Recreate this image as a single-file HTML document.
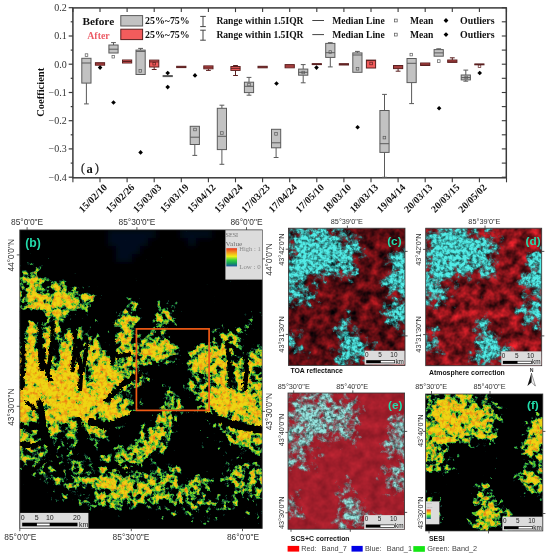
<!DOCTYPE html>
<html><head><meta charset="utf-8"><style>
html,body{margin:0;padding:0;background:#fff;}
body{width:550px;height:558px;overflow:hidden;}
svg{display:block;}
</style></head><body>
<svg width="550" height="558" viewBox="0 0 550 558">
<defs><filter id="vblur" x="-10%" y="-10%" width="120%" height="120%" color-interpolation-filters="sRGB"><feTurbulence type="fractalNoise" baseFrequency="0.35" numOctaves="2" seed="9" result="vt"/><feDisplacementMap in="SourceGraphic" in2="vt" scale="5" xChannelSelector="R" yChannelSelector="G" result="vd"/><feGaussianBlur in="vd" stdDeviation="0.5"/></filter><filter id="blr" x="-5%" y="-5%" width="110%" height="110%"><feGaussianBlur stdDeviation="3.2"/></filter><clipPath id="cpb"><rect x="19.8" y="229.9" width="242.4" height="298.6"/></clipPath><filter id="txb" x="0" y="0" width="1" height="1" color-interpolation-filters="sRGB"><feGaussianBlur in="SourceGraphic" stdDeviation="2.0" result="L"/><feTurbulence type="fractalNoise" baseFrequency="0.18" numOctaves="5" seed="3" result="T"/><feColorMatrix in="T" type="matrix" values="-1 0 0 0 1  -1 0 0 0 1  -1 0 0 0 1  0 0 0 0 1" result="Ni"/><feComposite in="L" in2="Ni" operator="arithmetic" k1="0" k2="0.5" k3="0.5" k4="0" result="Mk"/><feComponentTransfer in="Mk" result="Ms"><feFuncR type="linear" slope="4.5" intercept="-1.750"/><feFuncG type="linear" slope="4.5" intercept="-1.750"/><feFuncB type="linear" slope="4.5" intercept="-1.750"/></feComponentTransfer><feComponentTransfer in="Ms" result="Cc"><feFuncR type="table" tableValues="0.000 0.000 0.039 0.157 0.353 0.667 0.910 0.941 0.933"/><feFuncG type="table" tableValues="0.000 0.000 0.196 0.627 0.784 0.824 0.816 0.725 0.839"/><feFuncB type="table" tableValues="0.000 0.000 0.157 0.235 0.176 0.118 0.078 0.086 0.078"/></feComponentTransfer><feTurbulence type="fractalNoise" baseFrequency="0.25" numOctaves="2" seed="8" result="T3"/><feColorMatrix in="T3" type="matrix" values="0 0 0 0 1  1.10 0 0 0 0.430  0 0 0 0 1  0 0 0 0 1" result="G3"/><feBlend in="Cc" in2="G3" mode="multiply"/></filter><clipPath id="cpc"><rect x="288.4" y="228.2" width="116.6" height="137.3"/></clipPath><filter id="txc" x="0" y="0" width="1" height="1" color-interpolation-filters="sRGB"><feGaussianBlur in="SourceGraphic" stdDeviation="2.0" result="L"/><feTurbulence type="fractalNoise" baseFrequency="0.15" numOctaves="4" seed="7" result="T"/><feColorMatrix in="T" type="matrix" values="-1 0 0 0 1  -1 0 0 0 1  -1 0 0 0 1  0 0 0 0 1" result="Ni"/><feComposite in="L" in2="Ni" operator="arithmetic" k1="0" k2="0.5" k3="0.5" k4="0" result="Mk"/><feComponentTransfer in="Mk" result="Ms"><feFuncR type="linear" slope="5.5" intercept="-2.250"/><feFuncG type="linear" slope="5.5" intercept="-2.250"/><feFuncB type="linear" slope="5.5" intercept="-2.250"/></feComponentTransfer><feColorMatrix in="Ms" type="matrix" values="1 0 0 0 0  0 1 0 0 0  0 0 1 0 0  1 0 0 0 0" result="Ma"/><feComponentTransfer in="Ms" result="Cyo"><feFuncR type="table" tableValues="0.078 0.137 0.176 0.314"/><feFuncG type="table" tableValues="0.353 0.667 0.843 0.922"/><feFuncB type="table" tableValues="0.392 0.686 0.831 0.902"/></feComponentTransfer><feTurbulence type="fractalNoise" baseFrequency="0.3" numOctaves="2" seed="28" result="T4"/><feColorMatrix in="T4" type="matrix" values="1.6 0 0 0 0.050  1.6 0 0 0 0.050  1.6 0 0 0 0.050  0 0 0 0 1" result="G4"/><feBlend in="Cyo" in2="G4" mode="multiply" result="Cyn"/><feComposite in="Cyn" in2="Ma" operator="in" result="Cy"/><feTurbulence type="fractalNoise" baseFrequency="0.1" numOctaves="3" seed="18" result="T2"/><feColorMatrix in="T2" type="matrix" values="1.049 0 0 0 -0.166  0.137 0 0 0 -0.018  0.157 0 0 0 -0.008  0 0 0 0 1" result="Mr"/><feMerge><feMergeNode in="Mr"/><feMergeNode in="Cy"/></feMerge></filter><clipPath id="cpd"><rect x="425.7" y="228.2" width="116.0" height="137.5"/></clipPath><filter id="txd" x="0" y="0" width="1" height="1" color-interpolation-filters="sRGB"><feGaussianBlur in="SourceGraphic" stdDeviation="2.0" result="L"/><feTurbulence type="fractalNoise" baseFrequency="0.15" numOctaves="4" seed="7" result="T"/><feColorMatrix in="T" type="matrix" values="-1 0 0 0 1  -1 0 0 0 1  -1 0 0 0 1  0 0 0 0 1" result="Ni"/><feComposite in="L" in2="Ni" operator="arithmetic" k1="0" k2="0.5" k3="0.5" k4="0" result="Mk"/><feComponentTransfer in="Mk" result="Ms"><feFuncR type="linear" slope="5.5" intercept="-2.250"/><feFuncG type="linear" slope="5.5" intercept="-2.250"/><feFuncB type="linear" slope="5.5" intercept="-2.250"/></feComponentTransfer><feColorMatrix in="Ms" type="matrix" values="1 0 0 0 0  0 1 0 0 0  0 0 1 0 0  1 0 0 0 0" result="Ma"/><feComponentTransfer in="Ms" result="Cyo"><feFuncR type="table" tableValues="0.078 0.137 0.176 0.314"/><feFuncG type="table" tableValues="0.353 0.667 0.843 0.922"/><feFuncB type="table" tableValues="0.392 0.686 0.831 0.902"/></feComponentTransfer><feTurbulence type="fractalNoise" baseFrequency="0.3" numOctaves="2" seed="28" result="T4"/><feColorMatrix in="T4" type="matrix" values="1.6 0 0 0 0.050  1.6 0 0 0 0.050  1.6 0 0 0 0.050  0 0 0 0 1" result="G4"/><feBlend in="Cyo" in2="G4" mode="multiply" result="Cyn"/><feComposite in="Cyn" in2="Ma" operator="in" result="Cy"/><feTurbulence type="fractalNoise" baseFrequency="0.1" numOctaves="3" seed="18" result="T2"/><feColorMatrix in="T2" type="matrix" values="1.225 0 0 0 -0.113  0.176 0 0 0 -0.014  0.216 0 0 0 -0.010  0 0 0 0 1" result="Mr"/><feMerge><feMergeNode in="Mr"/><feMergeNode in="Cy"/></feMerge></filter><clipPath id="cpe"><rect x="288.0" y="393.0" width="116.6" height="136.2"/></clipPath><filter id="txe" x="0" y="0" width="1" height="1" color-interpolation-filters="sRGB"><feGaussianBlur in="SourceGraphic" stdDeviation="2.0" result="L"/><feTurbulence type="fractalNoise" baseFrequency="0.15" numOctaves="4" seed="7" result="T"/><feColorMatrix in="T" type="matrix" values="-1 0 0 0 1  -1 0 0 0 1  -1 0 0 0 1  0 0 0 0 1" result="Ni"/><feComposite in="L" in2="Ni" operator="arithmetic" k1="0" k2="0.5" k3="0.5" k4="0" result="Mk"/><feComponentTransfer in="Mk" result="Ms"><feFuncR type="linear" slope="5.5" intercept="-2.250"/><feFuncG type="linear" slope="5.5" intercept="-2.250"/><feFuncB type="linear" slope="5.5" intercept="-2.250"/></feComponentTransfer><feColorMatrix in="Ms" type="matrix" values="1 0 0 0 0  0 1 0 0 0  0 0 1 0 0  1 0 0 0 0" result="Ma"/><feComponentTransfer in="Ms" result="Cyo"><feFuncR type="table" tableValues="0.392 0.451 0.502 0.588"/><feFuncG type="table" tableValues="0.549 0.765 0.831 0.894"/><feFuncB type="table" tableValues="0.569 0.765 0.816 0.871"/></feComponentTransfer><feTurbulence type="fractalNoise" baseFrequency="0.3" numOctaves="2" seed="28" result="T4"/><feColorMatrix in="T4" type="matrix" values="1.6 0 0 0 0.050  1.6 0 0 0 0.050  1.6 0 0 0 0.050  0 0 0 0 1" result="G4"/><feBlend in="Cyo" in2="G4" mode="multiply" result="Cyn"/><feComposite in="Cyn" in2="Ma" operator="in" result="Cy"/><feTurbulence type="fractalNoise" baseFrequency="0.1" numOctaves="3" seed="18" result="T2"/><feColorMatrix in="T2" type="matrix" values="0.291 0 0 0 0.488  0.066 0 0 0 0.085  0.077 0 0 0 0.130  0 0 0 0 1" result="Mr"/><feMerge><feMergeNode in="Mr"/><feMergeNode in="Cy"/></feMerge></filter><clipPath id="cpf"><rect x="425.6" y="394.0" width="117.2" height="136.9"/></clipPath><filter id="txf" x="0" y="0" width="1" height="1" color-interpolation-filters="sRGB"><feGaussianBlur in="SourceGraphic" stdDeviation="2.0" result="L"/><feTurbulence type="fractalNoise" baseFrequency="0.18" numOctaves="5" seed="7" result="T"/><feColorMatrix in="T" type="matrix" values="-1 0 0 0 1  -1 0 0 0 1  -1 0 0 0 1  0 0 0 0 1" result="Ni"/><feComposite in="L" in2="Ni" operator="arithmetic" k1="0" k2="0.5" k3="0.5" k4="0" result="Mk"/><feComponentTransfer in="Mk" result="Ms"><feFuncR type="linear" slope="4.5" intercept="-1.750"/><feFuncG type="linear" slope="4.5" intercept="-1.750"/><feFuncB type="linear" slope="4.5" intercept="-1.750"/></feComponentTransfer><feComponentTransfer in="Ms" result="Cc"><feFuncR type="table" tableValues="0.000 0.000 0.039 0.157 0.353 0.667 0.910 0.941 0.933"/><feFuncG type="table" tableValues="0.000 0.000 0.196 0.627 0.784 0.824 0.816 0.725 0.839"/><feFuncB type="table" tableValues="0.000 0.000 0.157 0.235 0.176 0.118 0.078 0.086 0.078"/></feComponentTransfer><feTurbulence type="fractalNoise" baseFrequency="0.25" numOctaves="2" seed="12" result="T3"/><feColorMatrix in="T3" type="matrix" values="0 0 0 0 1  1.10 0 0 0 0.430  0 0 0 0 1  0 0 0 0 1" result="G3"/><feBlend in="Cc" in2="G3" mode="multiply"/></filter></defs>
<rect width="550" height="558" fill="#fff"/>
<g font-family="'Liberation Serif', 'Times New Roman', serif"><rect x="72.9" y="7.9" width="433.4" height="169.9" fill="none" stroke="#3a3a3a" stroke-width="1.5"/><line x1="68.7" y1="7.7" x2="72.9" y2="7.7" stroke="#3a3a3a" stroke-width="1.2"/><text x="66.7" y="11.0" font-size="10" text-anchor="end" fill="#333">0.2</text><line x1="68.7" y1="36.0" x2="72.9" y2="36.0" stroke="#3a3a3a" stroke-width="1.2"/><text x="66.7" y="39.2" font-size="10" text-anchor="end" fill="#333">0.1</text><line x1="68.7" y1="64.2" x2="72.9" y2="64.2" stroke="#3a3a3a" stroke-width="1.2"/><text x="66.7" y="67.5" font-size="10" text-anchor="end" fill="#333">0.0</text><line x1="68.7" y1="92.5" x2="72.9" y2="92.5" stroke="#3a3a3a" stroke-width="1.2"/><text x="66.7" y="95.8" font-size="10" text-anchor="end" fill="#333">−0.1</text><line x1="68.7" y1="120.7" x2="72.9" y2="120.7" stroke="#3a3a3a" stroke-width="1.2"/><text x="66.7" y="124.0" font-size="10" text-anchor="end" fill="#333">−0.2</text><line x1="68.7" y1="148.9" x2="72.9" y2="148.9" stroke="#3a3a3a" stroke-width="1.2"/><text x="66.7" y="152.2" font-size="10" text-anchor="end" fill="#333">−0.3</text><line x1="68.7" y1="177.2" x2="72.9" y2="177.2" stroke="#3a3a3a" stroke-width="1.2"/><text x="66.7" y="180.5" font-size="10" text-anchor="end" fill="#333">−0.4</text><line x1="70.7" y1="21.8" x2="72.9" y2="21.8" stroke="#3a3a3a" stroke-width="1.2"/><line x1="70.7" y1="50.1" x2="72.9" y2="50.1" stroke="#3a3a3a" stroke-width="1.2"/><line x1="70.7" y1="78.3" x2="72.9" y2="78.3" stroke="#3a3a3a" stroke-width="1.2"/><line x1="70.7" y1="106.6" x2="72.9" y2="106.6" stroke="#3a3a3a" stroke-width="1.2"/><line x1="70.7" y1="134.8" x2="72.9" y2="134.8" stroke="#3a3a3a" stroke-width="1.2"/><line x1="70.7" y1="163.1" x2="72.9" y2="163.1" stroke="#3a3a3a" stroke-width="1.2"/><line x1="501.8" y1="7.7" x2="506.3" y2="7.7" stroke="#3a3a3a" stroke-width="1.1"/><line x1="501.8" y1="21.8" x2="506.3" y2="21.8" stroke="#3a3a3a" stroke-width="1.1"/><line x1="501.8" y1="36.0" x2="506.3" y2="36.0" stroke="#3a3a3a" stroke-width="1.1"/><line x1="501.8" y1="50.1" x2="506.3" y2="50.1" stroke="#3a3a3a" stroke-width="1.1"/><line x1="501.8" y1="64.2" x2="506.3" y2="64.2" stroke="#3a3a3a" stroke-width="1.1"/><line x1="501.8" y1="78.3" x2="506.3" y2="78.3" stroke="#3a3a3a" stroke-width="1.1"/><line x1="501.8" y1="92.5" x2="506.3" y2="92.5" stroke="#3a3a3a" stroke-width="1.1"/><line x1="501.8" y1="106.6" x2="506.3" y2="106.6" stroke="#3a3a3a" stroke-width="1.1"/><line x1="501.8" y1="120.7" x2="506.3" y2="120.7" stroke="#3a3a3a" stroke-width="1.1"/><line x1="501.8" y1="134.8" x2="506.3" y2="134.8" stroke="#3a3a3a" stroke-width="1.1"/><line x1="501.8" y1="148.9" x2="506.3" y2="148.9" stroke="#3a3a3a" stroke-width="1.1"/><line x1="501.8" y1="163.1" x2="506.3" y2="163.1" stroke="#3a3a3a" stroke-width="1.1"/><line x1="501.8" y1="177.2" x2="506.3" y2="177.2" stroke="#3a3a3a" stroke-width="1.1"/><line x1="72.9" y1="7.9" x2="72.9" y2="12.100000000000001" stroke="#3a3a3a" stroke-width="1.1"/><line x1="72.9" y1="177.8" x2="72.9" y2="182.3" stroke="#3a3a3a" stroke-width="1.1"/><line x1="100.0" y1="7.9" x2="100.0" y2="12.100000000000001" stroke="#3a3a3a" stroke-width="1.1"/><line x1="100.0" y1="177.8" x2="100.0" y2="182.3" stroke="#3a3a3a" stroke-width="1.1"/><line x1="127.1" y1="7.9" x2="127.1" y2="12.100000000000001" stroke="#3a3a3a" stroke-width="1.1"/><line x1="127.1" y1="177.8" x2="127.1" y2="182.3" stroke="#3a3a3a" stroke-width="1.1"/><line x1="154.2" y1="7.9" x2="154.2" y2="12.100000000000001" stroke="#3a3a3a" stroke-width="1.1"/><line x1="154.2" y1="177.8" x2="154.2" y2="182.3" stroke="#3a3a3a" stroke-width="1.1"/><line x1="181.3" y1="7.9" x2="181.3" y2="12.100000000000001" stroke="#3a3a3a" stroke-width="1.1"/><line x1="181.3" y1="177.8" x2="181.3" y2="182.3" stroke="#3a3a3a" stroke-width="1.1"/><line x1="208.4" y1="7.9" x2="208.4" y2="12.100000000000001" stroke="#3a3a3a" stroke-width="1.1"/><line x1="208.4" y1="177.8" x2="208.4" y2="182.3" stroke="#3a3a3a" stroke-width="1.1"/><line x1="235.5" y1="7.9" x2="235.5" y2="12.100000000000001" stroke="#3a3a3a" stroke-width="1.1"/><line x1="235.5" y1="177.8" x2="235.5" y2="182.3" stroke="#3a3a3a" stroke-width="1.1"/><line x1="262.6" y1="7.9" x2="262.6" y2="12.100000000000001" stroke="#3a3a3a" stroke-width="1.1"/><line x1="262.6" y1="177.8" x2="262.6" y2="182.3" stroke="#3a3a3a" stroke-width="1.1"/><line x1="289.7" y1="7.9" x2="289.7" y2="12.100000000000001" stroke="#3a3a3a" stroke-width="1.1"/><line x1="289.7" y1="177.8" x2="289.7" y2="182.3" stroke="#3a3a3a" stroke-width="1.1"/><line x1="316.8" y1="7.9" x2="316.8" y2="12.100000000000001" stroke="#3a3a3a" stroke-width="1.1"/><line x1="316.8" y1="177.8" x2="316.8" y2="182.3" stroke="#3a3a3a" stroke-width="1.1"/><line x1="343.9" y1="7.9" x2="343.9" y2="12.100000000000001" stroke="#3a3a3a" stroke-width="1.1"/><line x1="343.9" y1="177.8" x2="343.9" y2="182.3" stroke="#3a3a3a" stroke-width="1.1"/><line x1="371.0" y1="7.9" x2="371.0" y2="12.100000000000001" stroke="#3a3a3a" stroke-width="1.1"/><line x1="371.0" y1="177.8" x2="371.0" y2="182.3" stroke="#3a3a3a" stroke-width="1.1"/><line x1="398.1" y1="7.9" x2="398.1" y2="12.100000000000001" stroke="#3a3a3a" stroke-width="1.1"/><line x1="398.1" y1="177.8" x2="398.1" y2="182.3" stroke="#3a3a3a" stroke-width="1.1"/><line x1="425.2" y1="7.9" x2="425.2" y2="12.100000000000001" stroke="#3a3a3a" stroke-width="1.1"/><line x1="425.2" y1="177.8" x2="425.2" y2="182.3" stroke="#3a3a3a" stroke-width="1.1"/><line x1="452.3" y1="7.9" x2="452.3" y2="12.100000000000001" stroke="#3a3a3a" stroke-width="1.1"/><line x1="452.3" y1="177.8" x2="452.3" y2="182.3" stroke="#3a3a3a" stroke-width="1.1"/><line x1="479.4" y1="7.9" x2="479.4" y2="12.100000000000001" stroke="#3a3a3a" stroke-width="1.1"/><line x1="479.4" y1="177.8" x2="479.4" y2="182.3" stroke="#3a3a3a" stroke-width="1.1"/><line x1="506.5" y1="7.9" x2="506.5" y2="12.100000000000001" stroke="#3a3a3a" stroke-width="1.1"/><line x1="506.5" y1="177.8" x2="506.5" y2="182.3" stroke="#3a3a3a" stroke-width="1.1"/><text transform="translate(107.9,188.0) rotate(-45)" font-size="10" font-weight="bold" text-anchor="end" fill="#111">15/02/10</text><text transform="translate(135.0,188.0) rotate(-45)" font-size="10" font-weight="bold" text-anchor="end" fill="#111">15/02/26</text><text transform="translate(162.1,188.0) rotate(-45)" font-size="10" font-weight="bold" text-anchor="end" fill="#111">15/03/03</text><text transform="translate(189.2,188.0) rotate(-45)" font-size="10" font-weight="bold" text-anchor="end" fill="#111">15/03/19</text><text transform="translate(216.3,188.0) rotate(-45)" font-size="10" font-weight="bold" text-anchor="end" fill="#111">15/04/12</text><text transform="translate(243.4,188.0) rotate(-45)" font-size="10" font-weight="bold" text-anchor="end" fill="#111">15/04/24</text><text transform="translate(270.5,188.0) rotate(-45)" font-size="10" font-weight="bold" text-anchor="end" fill="#111">17/03/23</text><text transform="translate(297.6,188.0) rotate(-45)" font-size="10" font-weight="bold" text-anchor="end" fill="#111">17/04/24</text><text transform="translate(324.7,188.0) rotate(-45)" font-size="10" font-weight="bold" text-anchor="end" fill="#111">17/05/10</text><text transform="translate(351.8,188.0) rotate(-45)" font-size="10" font-weight="bold" text-anchor="end" fill="#111">18/03/10</text><text transform="translate(378.9,188.0) rotate(-45)" font-size="10" font-weight="bold" text-anchor="end" fill="#111">18/03/13</text><text transform="translate(406.0,188.0) rotate(-45)" font-size="10" font-weight="bold" text-anchor="end" fill="#111">19/04/14</text><text transform="translate(433.1,188.0) rotate(-45)" font-size="10" font-weight="bold" text-anchor="end" fill="#111">20/03/13</text><text transform="translate(460.2,188.0) rotate(-45)" font-size="10" font-weight="bold" text-anchor="end" fill="#111">20/03/15</text><text transform="translate(487.3,188.0) rotate(-45)" font-size="10" font-weight="bold" text-anchor="end" fill="#111">20/05/02</text><text transform="translate(44.3,92.3) rotate(-90)" font-size="10.5" font-weight="bold" text-anchor="middle" fill="#111">Coefficient</text><text x="80.9" y="171.6" font-size="11.5" fill="#222" stroke="#222" stroke-width="0.25">(</text><text x="86.6" y="172.8" font-size="12.5" font-weight="bold" fill="#111">a</text><text x="95.0" y="171.6" font-size="11.5" fill="#222" stroke="#222" stroke-width="0.25">)</text><line x1="86.4" y1="83.1" x2="86.4" y2="103.9" stroke="#5a5a5a" stroke-width="1"/><line x1="84.0" y1="103.9" x2="88.8" y2="103.9" stroke="#5a5a5a" stroke-width="1"/><rect x="81.8" y="58.3" width="9.2" height="24.8" fill="#c2c2c2" stroke="#5a5a5a" stroke-width="1"/><line x1="81.8" y1="63.0" x2="91.0" y2="63.0" stroke="#5a5a5a" stroke-width="1"/><rect x="85.2" y="53.8" width="2.6" height="2.6" fill="none" stroke="#5a5a5a" stroke-width="0.7"/><line x1="113.5" y1="42.6" x2="113.5" y2="45" stroke="#5a5a5a" stroke-width="1"/><line x1="111.1" y1="42.6" x2="115.9" y2="42.6" stroke="#5a5a5a" stroke-width="1"/><rect x="108.9" y="45" width="9.2" height="8.0" fill="#c2c2c2" stroke="#5a5a5a" stroke-width="1"/><line x1="108.9" y1="49.2" x2="118.1" y2="49.2" stroke="#5a5a5a" stroke-width="1"/><rect x="112.0" y="55.4" width="2.6" height="2.6" fill="none" stroke="#5a5a5a" stroke-width="0.7"/><path d="M113.5 100.2L115.8 102.5L113.5 104.8L111.2 102.5Z" fill="#000"/><line x1="140.6" y1="48.4" x2="140.6" y2="50.1" stroke="#5a5a5a" stroke-width="1"/><line x1="138.2" y1="48.4" x2="143.0" y2="48.4" stroke="#5a5a5a" stroke-width="1"/><rect x="136.0" y="50.1" width="9.2" height="24.4" fill="#c2c2c2" stroke="#5a5a5a" stroke-width="1"/><line x1="136.0" y1="51.4" x2="145.2" y2="51.4" stroke="#5a5a5a" stroke-width="1"/><rect x="139.0" y="69.6" width="2.6" height="2.6" fill="none" stroke="#5a5a5a" stroke-width="0.7"/><path d="M140.6 150.1L142.9 152.4L140.6 154.7L138.3 152.4Z" fill="#000"/><rect x="163.1" y="75.6" width="9.2" height="1.0" fill="#c2c2c2" stroke="#5a5a5a" stroke-width="1"/><line x1="163.1" y1="76.1" x2="172.3" y2="76.1" stroke="#5a5a5a" stroke-width="1"/><path d="M167.7 70.7L170.0 73.0L167.7 75.3L165.4 73.0Z" fill="#000"/><path d="M167.7 84.8L170.0 87.1L167.7 89.4L165.4 87.1Z" fill="#000"/><line x1="194.8" y1="144.5" x2="194.8" y2="155.4" stroke="#5a5a5a" stroke-width="1"/><line x1="192.4" y1="155.4" x2="197.2" y2="155.4" stroke="#5a5a5a" stroke-width="1"/><rect x="190.2" y="126.3" width="9.2" height="18.2" fill="#c2c2c2" stroke="#5a5a5a" stroke-width="1"/><line x1="190.2" y1="137.2" x2="199.4" y2="137.2" stroke="#5a5a5a" stroke-width="1"/><rect x="193.7" y="128.2" width="2.6" height="2.6" fill="none" stroke="#5a5a5a" stroke-width="0.7"/><path d="M195.0 73.1L197.3 75.4L195.0 77.7L192.7 75.4Z" fill="#000"/><line x1="221.9" y1="105.2" x2="221.9" y2="108.3" stroke="#5a5a5a" stroke-width="1"/><line x1="219.5" y1="105.2" x2="224.3" y2="105.2" stroke="#5a5a5a" stroke-width="1"/><line x1="221.9" y1="149.6" x2="221.9" y2="164.3" stroke="#5a5a5a" stroke-width="1"/><line x1="219.5" y1="164.3" x2="224.3" y2="164.3" stroke="#5a5a5a" stroke-width="1"/><rect x="217.3" y="108.3" width="9.2" height="41.3" fill="#c2c2c2" stroke="#5a5a5a" stroke-width="1"/><line x1="217.3" y1="136.3" x2="226.5" y2="136.3" stroke="#5a5a5a" stroke-width="1"/><rect x="220.6" y="131.7" width="2.6" height="2.6" fill="none" stroke="#5a5a5a" stroke-width="0.7"/><line x1="249.0" y1="77.4" x2="249.0" y2="82.2" stroke="#5a5a5a" stroke-width="1"/><line x1="246.6" y1="77.4" x2="251.4" y2="77.4" stroke="#5a5a5a" stroke-width="1"/><line x1="249.0" y1="92.6" x2="249.0" y2="95.2" stroke="#5a5a5a" stroke-width="1"/><line x1="246.6" y1="95.2" x2="251.4" y2="95.2" stroke="#5a5a5a" stroke-width="1"/><rect x="244.4" y="82.2" width="9.2" height="10.4" fill="#c2c2c2" stroke="#5a5a5a" stroke-width="1"/><line x1="244.4" y1="86.3" x2="253.6" y2="86.3" stroke="#5a5a5a" stroke-width="1"/><rect x="247.7" y="83.3" width="2.6" height="2.6" fill="none" stroke="#5a5a5a" stroke-width="0.7"/><line x1="276.1" y1="147.8" x2="276.1" y2="157.5" stroke="#5a5a5a" stroke-width="1"/><line x1="273.7" y1="157.5" x2="278.5" y2="157.5" stroke="#5a5a5a" stroke-width="1"/><rect x="271.5" y="129.3" width="9.2" height="18.5" fill="#c2c2c2" stroke="#5a5a5a" stroke-width="1"/><line x1="271.5" y1="142.8" x2="280.7" y2="142.8" stroke="#5a5a5a" stroke-width="1"/><rect x="274.7" y="132.6" width="2.6" height="2.6" fill="none" stroke="#5a5a5a" stroke-width="0.7"/><path d="M276.5 81.2L278.8 83.5L276.5 85.8L274.2 83.5Z" fill="#000"/><line x1="303.2" y1="64.6" x2="303.2" y2="69.1" stroke="#5a5a5a" stroke-width="1"/><line x1="300.8" y1="64.6" x2="305.6" y2="64.6" stroke="#5a5a5a" stroke-width="1"/><line x1="303.2" y1="75.2" x2="303.2" y2="82.8" stroke="#5a5a5a" stroke-width="1"/><line x1="300.8" y1="82.8" x2="305.6" y2="82.8" stroke="#5a5a5a" stroke-width="1"/><rect x="298.6" y="69.1" width="9.2" height="6.1" fill="#c2c2c2" stroke="#5a5a5a" stroke-width="1"/><line x1="298.6" y1="72.3" x2="307.8" y2="72.3" stroke="#5a5a5a" stroke-width="1"/><rect x="301.9" y="71.2" width="2.6" height="2.6" fill="none" stroke="#5a5a5a" stroke-width="0.7"/><line x1="330.3" y1="42.7" x2="330.3" y2="43.4" stroke="#5a5a5a" stroke-width="1"/><line x1="327.9" y1="42.7" x2="332.7" y2="42.7" stroke="#5a5a5a" stroke-width="1"/><line x1="330.3" y1="57.4" x2="330.3" y2="66.9" stroke="#5a5a5a" stroke-width="1"/><line x1="327.9" y1="66.9" x2="332.7" y2="66.9" stroke="#5a5a5a" stroke-width="1"/><rect x="325.7" y="43.4" width="9.2" height="14.0" fill="#c2c2c2" stroke="#5a5a5a" stroke-width="1"/><line x1="325.7" y1="52.7" x2="334.9" y2="52.7" stroke="#5a5a5a" stroke-width="1"/><rect x="329.0" y="50.7" width="2.6" height="2.6" fill="none" stroke="#5a5a5a" stroke-width="0.7"/><line x1="357.4" y1="51.4" x2="357.4" y2="52.9" stroke="#5a5a5a" stroke-width="1"/><line x1="355.0" y1="51.4" x2="359.8" y2="51.4" stroke="#5a5a5a" stroke-width="1"/><rect x="352.8" y="52.9" width="9.2" height="19.4" fill="#c2c2c2" stroke="#5a5a5a" stroke-width="1"/><line x1="352.8" y1="55.0" x2="362.0" y2="55.0" stroke="#5a5a5a" stroke-width="1"/><rect x="356.2" y="67.5" width="2.6" height="2.6" fill="none" stroke="#5a5a5a" stroke-width="0.7"/><path d="M357.6 125.0L359.9 127.3L357.6 129.6L355.3 127.3Z" fill="#000"/><line x1="384.5" y1="94.4" x2="384.5" y2="110.5" stroke="#5a5a5a" stroke-width="1"/><line x1="382.1" y1="94.4" x2="386.9" y2="94.4" stroke="#5a5a5a" stroke-width="1"/><line x1="384.5" y1="152.4" x2="384.5" y2="177.3" stroke="#5a5a5a" stroke-width="1"/><line x1="382.1" y1="177.3" x2="386.9" y2="177.3" stroke="#5a5a5a" stroke-width="1"/><rect x="379.9" y="110.5" width="9.2" height="41.9" fill="#c2c2c2" stroke="#5a5a5a" stroke-width="1"/><line x1="379.9" y1="143.7" x2="389.1" y2="143.7" stroke="#5a5a5a" stroke-width="1"/><rect x="383.1" y="136.3" width="2.6" height="2.6" fill="none" stroke="#5a5a5a" stroke-width="0.7"/><line x1="411.6" y1="82.6" x2="411.6" y2="103.6" stroke="#5a5a5a" stroke-width="1"/><line x1="409.2" y1="103.6" x2="414.0" y2="103.6" stroke="#5a5a5a" stroke-width="1"/><rect x="407.0" y="58.5" width="9.2" height="24.1" fill="#c2c2c2" stroke="#5a5a5a" stroke-width="1"/><line x1="407.0" y1="63.3" x2="416.2" y2="63.3" stroke="#5a5a5a" stroke-width="1"/><rect x="410.0" y="53.3" width="2.6" height="2.6" fill="none" stroke="#5a5a5a" stroke-width="0.7"/><line x1="438.7" y1="48.8" x2="438.7" y2="49.6" stroke="#5a5a5a" stroke-width="1"/><line x1="436.3" y1="48.8" x2="441.1" y2="48.8" stroke="#5a5a5a" stroke-width="1"/><rect x="434.1" y="49.6" width="9.2" height="6.6" fill="#c2c2c2" stroke="#5a5a5a" stroke-width="1"/><line x1="434.1" y1="52.9" x2="443.3" y2="52.9" stroke="#5a5a5a" stroke-width="1"/><rect x="437.5" y="59.8" width="2.6" height="2.6" fill="none" stroke="#5a5a5a" stroke-width="0.7"/><path d="M439.1 105.9L441.4 108.2L439.1 110.5L436.8 108.2Z" fill="#000"/><line x1="465.8" y1="70.1" x2="465.8" y2="75.0" stroke="#5a5a5a" stroke-width="1"/><line x1="463.4" y1="70.1" x2="468.2" y2="70.1" stroke="#5a5a5a" stroke-width="1"/><line x1="465.8" y1="79.9" x2="465.8" y2="81.2" stroke="#5a5a5a" stroke-width="1"/><line x1="463.4" y1="81.2" x2="468.2" y2="81.2" stroke="#5a5a5a" stroke-width="1"/><rect x="461.2" y="75.0" width="9.2" height="4.9" fill="#c2c2c2" stroke="#5a5a5a" stroke-width="1"/><line x1="461.2" y1="77.6" x2="470.4" y2="77.6" stroke="#5a5a5a" stroke-width="1"/><rect x="464.9" y="76.2" width="2.6" height="2.6" fill="none" stroke="#5a5a5a" stroke-width="0.7"/><rect x="95.4" y="62.7" width="9.2" height="2.5" fill="#f25c5c" stroke="#5a2020" stroke-width="1"/><line x1="95.4" y1="63.9" x2="104.6" y2="63.9" stroke="#5a2020" stroke-width="1"/><path d="M100.1 65.3L102.4 67.6L100.1 69.9L97.8 67.6Z" fill="#000"/><rect x="122.5" y="60.0" width="9.2" height="3.0" fill="#f25c5c" stroke="#5a2020" stroke-width="1"/><line x1="122.5" y1="61.5" x2="131.7" y2="61.5" stroke="#5a2020" stroke-width="1"/><line x1="154.2" y1="67.0" x2="154.2" y2="69.5" stroke="#5a2020" stroke-width="1"/><line x1="151.8" y1="69.5" x2="156.6" y2="69.5" stroke="#5a2020" stroke-width="1"/><rect x="149.6" y="60.1" width="9.2" height="6.9" fill="#f25c5c" stroke="#5a2020" stroke-width="1"/><line x1="149.6" y1="61.9" x2="158.8" y2="61.9" stroke="#5a2020" stroke-width="1"/><rect x="152.9" y="62.4" width="2.6" height="2.6" fill="none" stroke="#5a2020" stroke-width="0.7"/><rect x="176.7" y="66.3" width="9.2" height="1.3" fill="#f25c5c" stroke="#5a2020" stroke-width="1"/><line x1="176.7" y1="67.0" x2="185.9" y2="67.0" stroke="#5a2020" stroke-width="1"/><line x1="208.4" y1="68.8" x2="208.4" y2="70.4" stroke="#5a2020" stroke-width="1"/><line x1="206.0" y1="70.4" x2="210.8" y2="70.4" stroke="#5a2020" stroke-width="1"/><rect x="203.8" y="65.9" width="9.2" height="2.9" fill="#f25c5c" stroke="#5a2020" stroke-width="1"/><line x1="203.8" y1="67.2" x2="213.0" y2="67.2" stroke="#5a2020" stroke-width="1"/><line x1="235.5" y1="65.5" x2="235.5" y2="66.5" stroke="#5a2020" stroke-width="1"/><line x1="233.1" y1="65.5" x2="237.9" y2="65.5" stroke="#5a2020" stroke-width="1"/><line x1="235.5" y1="70.4" x2="235.5" y2="75.5" stroke="#5a2020" stroke-width="1"/><line x1="233.1" y1="75.5" x2="237.9" y2="75.5" stroke="#5a2020" stroke-width="1"/><rect x="230.9" y="66.5" width="9.2" height="3.9" fill="#f25c5c" stroke="#5a2020" stroke-width="1"/><line x1="230.9" y1="68.3" x2="240.1" y2="68.3" stroke="#5a2020" stroke-width="1"/><rect x="258.0" y="66.3" width="9.2" height="1.5" fill="#f25c5c" stroke="#5a2020" stroke-width="1"/><line x1="258.0" y1="67.0" x2="267.2" y2="67.0" stroke="#5a2020" stroke-width="1"/><rect x="285.1" y="64.6" width="9.2" height="3.2" fill="#f25c5c" stroke="#5a2020" stroke-width="1"/><line x1="285.1" y1="66.0" x2="294.3" y2="66.0" stroke="#5a2020" stroke-width="1"/><rect x="312.2" y="63.7" width="9.2" height="0.9" fill="#f25c5c" stroke="#5a2020" stroke-width="1"/><line x1="312.2" y1="64.1" x2="321.4" y2="64.1" stroke="#5a2020" stroke-width="1"/><path d="M316.5 65.3L318.8 67.6L316.5 69.9L314.2 67.6Z" fill="#000"/><rect x="339.3" y="63.7" width="9.2" height="1.3" fill="#f25c5c" stroke="#5a2020" stroke-width="1"/><line x1="339.3" y1="64.3" x2="348.5" y2="64.3" stroke="#5a2020" stroke-width="1"/><rect x="366.4" y="60.1" width="9.2" height="7.9" fill="#f25c5c" stroke="#5a2020" stroke-width="1"/><line x1="366.4" y1="60.6" x2="375.6" y2="60.6" stroke="#5a2020" stroke-width="1"/><rect x="369.8" y="62.2" width="2.6" height="2.6" fill="none" stroke="#5a2020" stroke-width="0.7"/><line x1="398.1" y1="68.6" x2="398.1" y2="71.2" stroke="#5a2020" stroke-width="1"/><line x1="395.7" y1="71.2" x2="400.5" y2="71.2" stroke="#5a2020" stroke-width="1"/><rect x="393.5" y="65.5" width="9.2" height="3.1" fill="#f25c5c" stroke="#5a2020" stroke-width="1"/><line x1="393.5" y1="67.0" x2="402.7" y2="67.0" stroke="#5a2020" stroke-width="1"/><rect x="420.6" y="63.0" width="9.2" height="2.5" fill="#f25c5c" stroke="#5a2020" stroke-width="1"/><line x1="420.6" y1="64.2" x2="429.8" y2="64.2" stroke="#5a2020" stroke-width="1"/><line x1="452.3" y1="57.8" x2="452.3" y2="60.0" stroke="#5a2020" stroke-width="1"/><line x1="449.9" y1="57.8" x2="454.7" y2="57.8" stroke="#5a2020" stroke-width="1"/><rect x="447.7" y="60.0" width="9.2" height="2.4" fill="#f25c5c" stroke="#5a2020" stroke-width="1"/><line x1="447.7" y1="61.2" x2="456.9" y2="61.2" stroke="#5a2020" stroke-width="1"/><rect x="474.8" y="64.0" width="9.2" height="0.8" fill="#f25c5c" stroke="#5a2020" stroke-width="1"/><line x1="474.8" y1="64.3" x2="484.0" y2="64.3" stroke="#5a2020" stroke-width="1"/><rect x="478.2" y="64.9" width="2.6" height="2.6" fill="none" stroke="#5a2020" stroke-width="0.7"/><path d="M479.7 70.7L482.0 73.0L479.7 75.3L477.4 73.0Z" fill="#000"/><text x="82.4" y="25.3" font-size="11.3" font-weight="bold" fill="#111">Before</text><text x="87.3" y="38.8" font-size="9.8" font-weight="bold" fill="#ec5c66">After</text><rect x="120.8" y="15.6" width="21.8" height="10.4" fill="#c2c2c2" stroke="#5a5a5a" stroke-width="1"/><rect x="120.8" y="29.2" width="21.8" height="10.4" fill="#f25c5c" stroke="#5a2020" stroke-width="1"/><text x="145.0" y="24.3" font-size="9.9" font-weight="bold" fill="#111">25%~75%</text><text x="216.4" y="24.3" font-size="9.6" font-weight="bold" fill="#111">Range within 1.5IQR</text><text x="332.2" y="24.3" font-size="9.6" font-weight="bold" fill="#111">Median Line</text><text x="410" y="24.3" font-size="9.6" font-weight="bold" fill="#111">Mean</text><text x="460" y="24.3" font-size="9.9" font-weight="bold" fill="#111">Outliers</text><text x="145.0" y="38.2" font-size="9.9" font-weight="bold" fill="#111">25%~75%</text><text x="216.4" y="38.2" font-size="9.6" font-weight="bold" fill="#111">Range within 1.5IQR</text><text x="332.2" y="38.2" font-size="9.6" font-weight="bold" fill="#111">Median Line</text><text x="410" y="38.2" font-size="9.6" font-weight="bold" fill="#111">Mean</text><text x="460" y="38.2" font-size="9.9" font-weight="bold" fill="#111">Outliers</text><path d="M200.2 16.4H205.8M203 16.4V26.6M200.2 26.6H205.8" stroke="#444" stroke-width="1" fill="none"/><line x1="312.3" y1="20.5" x2="324" y2="20.5" stroke="#444" stroke-width="1"/><rect x="394.4" y="19.1" width="2.8" height="2.8" fill="none" stroke="#555" stroke-width="0.7"/><path d="M446 18.1L448.4 20.5L446 22.9L443.6 20.5Z" fill="#000"/><path d="M200.2 30.2H205.8M203 30.2V40.2M200.2 40.2H205.8" stroke="#444" stroke-width="1" fill="none"/><line x1="312.3" y1="34.6" x2="324" y2="34.6" stroke="#444" stroke-width="1"/><rect x="394.4" y="33.2" width="2.8" height="2.8" fill="none" stroke="#555" stroke-width="0.7"/><path d="M446 32.2L448.4 34.6L446 37.0L443.6 34.6Z" fill="#000"/></g><g font-family="'Liberation Sans', Arial, sans-serif"><g clip-path="url(#cpb)"><g filter="url(#txb)"><rect x="4.0" y="214.0" width="8.6" height="8.6" fill="#000000"/><rect x="12.0" y="214.0" width="8.6" height="8.6" fill="#000000"/><rect x="20.0" y="214.0" width="8.6" height="8.6" fill="#000000"/><rect x="28.0" y="214.0" width="8.6" height="8.6" fill="#000000"/><rect x="36.0" y="214.0" width="8.6" height="8.6" fill="#000000"/><rect x="44.0" y="214.0" width="8.6" height="8.6" fill="#000000"/><rect x="52.0" y="214.0" width="8.6" height="8.6" fill="#000000"/><rect x="60.0" y="214.0" width="8.6" height="8.6" fill="#000000"/><rect x="68.0" y="214.0" width="8.6" height="8.6" fill="#000000"/><rect x="76.0" y="214.0" width="8.6" height="8.6" fill="#000000"/><rect x="84.0" y="214.0" width="8.6" height="8.6" fill="#000000"/><rect x="92.0" y="214.0" width="8.6" height="8.6" fill="#000000"/><rect x="100.0" y="214.0" width="8.6" height="8.6" fill="#000000"/><rect x="108.0" y="214.0" width="8.6" height="8.6" fill="#000000"/><rect x="116.0" y="214.0" width="8.6" height="8.6" fill="#000000"/><rect x="124.0" y="214.0" width="8.6" height="8.6" fill="#000000"/><rect x="132.0" y="214.0" width="8.6" height="8.6" fill="#000000"/><rect x="140.0" y="214.0" width="8.6" height="8.6" fill="#000000"/><rect x="148.0" y="214.0" width="8.6" height="8.6" fill="#000000"/><rect x="156.0" y="214.0" width="8.6" height="8.6" fill="#000000"/><rect x="164.0" y="214.0" width="8.6" height="8.6" fill="#000000"/><rect x="172.0" y="214.0" width="8.6" height="8.6" fill="#000000"/><rect x="180.0" y="214.0" width="8.6" height="8.6" fill="#000000"/><rect x="188.0" y="214.0" width="8.6" height="8.6" fill="#000000"/><rect x="196.0" y="214.0" width="8.6" height="8.6" fill="#000000"/><rect x="204.0" y="214.0" width="8.6" height="8.6" fill="#000000"/><rect x="212.0" y="214.0" width="8.6" height="8.6" fill="#000000"/><rect x="220.0" y="214.0" width="8.6" height="8.6" fill="#000000"/><rect x="228.0" y="214.0" width="8.6" height="8.6" fill="#000000"/><rect x="236.0" y="214.0" width="8.6" height="8.6" fill="#000000"/><rect x="244.0" y="214.0" width="8.6" height="8.6" fill="#000000"/><rect x="252.0" y="214.0" width="8.6" height="8.6" fill="#000000"/><rect x="260.0" y="214.0" width="8.6" height="8.6" fill="#000000"/><rect x="268.0" y="214.0" width="8.6" height="8.6" fill="#000000"/><rect x="4.0" y="222.0" width="8.6" height="8.6" fill="#000000"/><rect x="12.0" y="222.0" width="8.6" height="8.6" fill="#000000"/><rect x="20.0" y="222.0" width="8.6" height="8.6" fill="#000000"/><rect x="28.0" y="222.0" width="8.6" height="8.6" fill="#000000"/><rect x="36.0" y="222.0" width="8.6" height="8.6" fill="#000000"/><rect x="44.0" y="222.0" width="8.6" height="8.6" fill="#000000"/><rect x="52.0" y="222.0" width="8.6" height="8.6" fill="#000000"/><rect x="60.0" y="222.0" width="8.6" height="8.6" fill="#000000"/><rect x="68.0" y="222.0" width="8.6" height="8.6" fill="#000000"/><rect x="76.0" y="222.0" width="8.6" height="8.6" fill="#000000"/><rect x="84.0" y="222.0" width="8.6" height="8.6" fill="#000000"/><rect x="92.0" y="222.0" width="8.6" height="8.6" fill="#000000"/><rect x="100.0" y="222.0" width="8.6" height="8.6" fill="#000000"/><rect x="108.0" y="222.0" width="8.6" height="8.6" fill="#000000"/><rect x="116.0" y="222.0" width="8.6" height="8.6" fill="#000000"/><rect x="124.0" y="222.0" width="8.6" height="8.6" fill="#000000"/><rect x="132.0" y="222.0" width="8.6" height="8.6" fill="#000000"/><rect x="140.0" y="222.0" width="8.6" height="8.6" fill="#000000"/><rect x="148.0" y="222.0" width="8.6" height="8.6" fill="#000000"/><rect x="156.0" y="222.0" width="8.6" height="8.6" fill="#000000"/><rect x="164.0" y="222.0" width="8.6" height="8.6" fill="#000000"/><rect x="172.0" y="222.0" width="8.6" height="8.6" fill="#000000"/><rect x="180.0" y="222.0" width="8.6" height="8.6" fill="#000000"/><rect x="188.0" y="222.0" width="8.6" height="8.6" fill="#000000"/><rect x="196.0" y="222.0" width="8.6" height="8.6" fill="#000000"/><rect x="204.0" y="222.0" width="8.6" height="8.6" fill="#000000"/><rect x="212.0" y="222.0" width="8.6" height="8.6" fill="#000000"/><rect x="220.0" y="222.0" width="8.6" height="8.6" fill="#000000"/><rect x="228.0" y="222.0" width="8.6" height="8.6" fill="#000000"/><rect x="236.0" y="222.0" width="8.6" height="8.6" fill="#000000"/><rect x="244.0" y="222.0" width="8.6" height="8.6" fill="#000000"/><rect x="252.0" y="222.0" width="8.6" height="8.6" fill="#000000"/><rect x="260.0" y="222.0" width="8.6" height="8.6" fill="#000000"/><rect x="268.0" y="222.0" width="8.6" height="8.6" fill="#000000"/><rect x="4.0" y="230.0" width="8.6" height="8.6" fill="#000000"/><rect x="12.0" y="230.0" width="8.6" height="8.6" fill="#000000"/><rect x="20.0" y="230.0" width="8.6" height="8.6" fill="#000000"/><rect x="28.0" y="230.0" width="8.6" height="8.6" fill="#000000"/><rect x="36.0" y="230.0" width="8.6" height="8.6" fill="#000000"/><rect x="44.0" y="230.0" width="8.6" height="8.6" fill="#000000"/><rect x="52.0" y="230.0" width="8.6" height="8.6" fill="#000000"/><rect x="60.0" y="230.0" width="8.6" height="8.6" fill="#000000"/><rect x="68.0" y="230.0" width="8.6" height="8.6" fill="#000000"/><rect x="76.0" y="230.0" width="8.6" height="8.6" fill="#000000"/><rect x="84.0" y="230.0" width="8.6" height="8.6" fill="#000000"/><rect x="92.0" y="230.0" width="8.6" height="8.6" fill="#000000"/><rect x="100.0" y="230.0" width="8.6" height="8.6" fill="#000000"/><rect x="108.0" y="230.0" width="8.6" height="8.6" fill="#000000"/><rect x="116.0" y="230.0" width="8.6" height="8.6" fill="#000000"/><rect x="124.0" y="230.0" width="8.6" height="8.6" fill="#000000"/><rect x="132.0" y="230.0" width="8.6" height="8.6" fill="#000000"/><rect x="140.0" y="230.0" width="8.6" height="8.6" fill="#000000"/><rect x="148.0" y="230.0" width="8.6" height="8.6" fill="#000000"/><rect x="156.0" y="230.0" width="8.6" height="8.6" fill="#000000"/><rect x="164.0" y="230.0" width="8.6" height="8.6" fill="#000000"/><rect x="172.0" y="230.0" width="8.6" height="8.6" fill="#000000"/><rect x="180.0" y="230.0" width="8.6" height="8.6" fill="#000000"/><rect x="188.0" y="230.0" width="8.6" height="8.6" fill="#000000"/><rect x="196.0" y="230.0" width="8.6" height="8.6" fill="#000000"/><rect x="204.0" y="230.0" width="8.6" height="8.6" fill="#000000"/><rect x="212.0" y="230.0" width="8.6" height="8.6" fill="#000000"/><rect x="220.0" y="230.0" width="8.6" height="8.6" fill="#000000"/><rect x="228.0" y="230.0" width="8.6" height="8.6" fill="#000000"/><rect x="236.0" y="230.0" width="8.6" height="8.6" fill="#000000"/><rect x="244.0" y="230.0" width="8.6" height="8.6" fill="#000000"/><rect x="252.0" y="230.0" width="8.6" height="8.6" fill="#000000"/><rect x="260.0" y="230.0" width="8.6" height="8.6" fill="#000000"/><rect x="268.0" y="230.0" width="8.6" height="8.6" fill="#000000"/><rect x="4.0" y="238.0" width="8.6" height="8.6" fill="#000000"/><rect x="12.0" y="238.0" width="8.6" height="8.6" fill="#000000"/><rect x="20.0" y="238.0" width="8.6" height="8.6" fill="#000000"/><rect x="28.0" y="238.0" width="8.6" height="8.6" fill="#000000"/><rect x="36.0" y="238.0" width="8.6" height="8.6" fill="#000000"/><rect x="44.0" y="238.0" width="8.6" height="8.6" fill="#000000"/><rect x="52.0" y="238.0" width="8.6" height="8.6" fill="#000000"/><rect x="60.0" y="238.0" width="8.6" height="8.6" fill="#000000"/><rect x="68.0" y="238.0" width="8.6" height="8.6" fill="#000000"/><rect x="76.0" y="238.0" width="8.6" height="8.6" fill="#000000"/><rect x="84.0" y="238.0" width="8.6" height="8.6" fill="#000000"/><rect x="92.0" y="238.0" width="8.6" height="8.6" fill="#000000"/><rect x="100.0" y="238.0" width="8.6" height="8.6" fill="#000000"/><rect x="108.0" y="238.0" width="8.6" height="8.6" fill="#000000"/><rect x="116.0" y="238.0" width="8.6" height="8.6" fill="#000000"/><rect x="124.0" y="238.0" width="8.6" height="8.6" fill="#000000"/><rect x="132.0" y="238.0" width="8.6" height="8.6" fill="#000000"/><rect x="140.0" y="238.0" width="8.6" height="8.6" fill="#000000"/><rect x="148.0" y="238.0" width="8.6" height="8.6" fill="#000000"/><rect x="156.0" y="238.0" width="8.6" height="8.6" fill="#000000"/><rect x="164.0" y="238.0" width="8.6" height="8.6" fill="#000000"/><rect x="172.0" y="238.0" width="8.6" height="8.6" fill="#000000"/><rect x="180.0" y="238.0" width="8.6" height="8.6" fill="#000000"/><rect x="188.0" y="238.0" width="8.6" height="8.6" fill="#000000"/><rect x="196.0" y="238.0" width="8.6" height="8.6" fill="#000000"/><rect x="204.0" y="238.0" width="8.6" height="8.6" fill="#000000"/><rect x="212.0" y="238.0" width="8.6" height="8.6" fill="#000000"/><rect x="220.0" y="238.0" width="8.6" height="8.6" fill="#000000"/><rect x="228.0" y="238.0" width="8.6" height="8.6" fill="#000000"/><rect x="236.0" y="238.0" width="8.6" height="8.6" fill="#000000"/><rect x="244.0" y="238.0" width="8.6" height="8.6" fill="#000000"/><rect x="252.0" y="238.0" width="8.6" height="8.6" fill="#000000"/><rect x="260.0" y="238.0" width="8.6" height="8.6" fill="#000000"/><rect x="268.0" y="238.0" width="8.6" height="8.6" fill="#000000"/><rect x="4.0" y="246.0" width="8.6" height="8.6" fill="#000000"/><rect x="12.0" y="246.0" width="8.6" height="8.6" fill="#000000"/><rect x="20.0" y="246.0" width="8.6" height="8.6" fill="#000000"/><rect x="28.0" y="246.0" width="8.6" height="8.6" fill="#000000"/><rect x="36.0" y="246.0" width="8.6" height="8.6" fill="#000000"/><rect x="44.0" y="246.0" width="8.6" height="8.6" fill="#000000"/><rect x="52.0" y="246.0" width="8.6" height="8.6" fill="#000000"/><rect x="60.0" y="246.0" width="8.6" height="8.6" fill="#000000"/><rect x="68.0" y="246.0" width="8.6" height="8.6" fill="#000000"/><rect x="76.0" y="246.0" width="8.6" height="8.6" fill="#000000"/><rect x="84.0" y="246.0" width="8.6" height="8.6" fill="#000000"/><rect x="92.0" y="246.0" width="8.6" height="8.6" fill="#000000"/><rect x="100.0" y="246.0" width="8.6" height="8.6" fill="#000000"/><rect x="108.0" y="246.0" width="8.6" height="8.6" fill="#000000"/><rect x="116.0" y="246.0" width="8.6" height="8.6" fill="#000000"/><rect x="124.0" y="246.0" width="8.6" height="8.6" fill="#000000"/><rect x="132.0" y="246.0" width="8.6" height="8.6" fill="#000000"/><rect x="140.0" y="246.0" width="8.6" height="8.6" fill="#000000"/><rect x="148.0" y="246.0" width="8.6" height="8.6" fill="#000000"/><rect x="156.0" y="246.0" width="8.6" height="8.6" fill="#000000"/><rect x="164.0" y="246.0" width="8.6" height="8.6" fill="#000000"/><rect x="172.0" y="246.0" width="8.6" height="8.6" fill="#000000"/><rect x="180.0" y="246.0" width="8.6" height="8.6" fill="#000000"/><rect x="188.0" y="246.0" width="8.6" height="8.6" fill="#000000"/><rect x="196.0" y="246.0" width="8.6" height="8.6" fill="#000000"/><rect x="204.0" y="246.0" width="8.6" height="8.6" fill="#000000"/><rect x="212.0" y="246.0" width="8.6" height="8.6" fill="#000000"/><rect x="220.0" y="246.0" width="8.6" height="8.6" fill="#000000"/><rect x="228.0" y="246.0" width="8.6" height="8.6" fill="#000000"/><rect x="236.0" y="246.0" width="8.6" height="8.6" fill="#000000"/><rect x="244.0" y="246.0" width="8.6" height="8.6" fill="#000000"/><rect x="252.0" y="246.0" width="8.6" height="8.6" fill="#000000"/><rect x="260.0" y="246.0" width="8.6" height="8.6" fill="#000000"/><rect x="268.0" y="246.0" width="8.6" height="8.6" fill="#000000"/><rect x="4.0" y="254.0" width="8.6" height="8.6" fill="#000000"/><rect x="12.0" y="254.0" width="8.6" height="8.6" fill="#000000"/><rect x="20.0" y="254.0" width="8.6" height="8.6" fill="#000000"/><rect x="28.0" y="254.0" width="8.6" height="8.6" fill="#000000"/><rect x="36.0" y="254.0" width="8.6" height="8.6" fill="#000000"/><rect x="44.0" y="254.0" width="8.6" height="8.6" fill="#000000"/><rect x="52.0" y="254.0" width="8.6" height="8.6" fill="#000000"/><rect x="60.0" y="254.0" width="8.6" height="8.6" fill="#000000"/><rect x="68.0" y="254.0" width="8.6" height="8.6" fill="#000000"/><rect x="76.0" y="254.0" width="8.6" height="8.6" fill="#000000"/><rect x="84.0" y="254.0" width="8.6" height="8.6" fill="#000000"/><rect x="92.0" y="254.0" width="8.6" height="8.6" fill="#000000"/><rect x="100.0" y="254.0" width="8.6" height="8.6" fill="#000000"/><rect x="108.0" y="254.0" width="8.6" height="8.6" fill="#000000"/><rect x="116.0" y="254.0" width="8.6" height="8.6" fill="#000000"/><rect x="124.0" y="254.0" width="8.6" height="8.6" fill="#000000"/><rect x="132.0" y="254.0" width="8.6" height="8.6" fill="#000000"/><rect x="140.0" y="254.0" width="8.6" height="8.6" fill="#000000"/><rect x="148.0" y="254.0" width="8.6" height="8.6" fill="#000000"/><rect x="156.0" y="254.0" width="8.6" height="8.6" fill="#000000"/><rect x="164.0" y="254.0" width="8.6" height="8.6" fill="#000000"/><rect x="172.0" y="254.0" width="8.6" height="8.6" fill="#000000"/><rect x="180.0" y="254.0" width="8.6" height="8.6" fill="#000000"/><rect x="188.0" y="254.0" width="8.6" height="8.6" fill="#000000"/><rect x="196.0" y="254.0" width="8.6" height="8.6" fill="#000000"/><rect x="204.0" y="254.0" width="8.6" height="8.6" fill="#000000"/><rect x="212.0" y="254.0" width="8.6" height="8.6" fill="#000000"/><rect x="220.0" y="254.0" width="8.6" height="8.6" fill="#000000"/><rect x="228.0" y="254.0" width="8.6" height="8.6" fill="#000000"/><rect x="236.0" y="254.0" width="8.6" height="8.6" fill="#000000"/><rect x="244.0" y="254.0" width="8.6" height="8.6" fill="#000000"/><rect x="252.0" y="254.0" width="8.6" height="8.6" fill="#000000"/><rect x="260.0" y="254.0" width="8.6" height="8.6" fill="#000000"/><rect x="268.0" y="254.0" width="8.6" height="8.6" fill="#000000"/><rect x="4.0" y="262.0" width="8.6" height="8.6" fill="#3b3b3b"/><rect x="12.0" y="262.0" width="8.6" height="8.6" fill="#3b3b3b"/><rect x="20.0" y="262.0" width="8.6" height="8.6" fill="#3b3b3b"/><rect x="28.0" y="262.0" width="8.6" height="8.6" fill="#3b3b3b"/><rect x="36.0" y="262.0" width="8.6" height="8.6" fill="#3b3b3b"/><rect x="44.0" y="262.0" width="8.6" height="8.6" fill="#000000"/><rect x="52.0" y="262.0" width="8.6" height="8.6" fill="#000000"/><rect x="60.0" y="262.0" width="8.6" height="8.6" fill="#000000"/><rect x="68.0" y="262.0" width="8.6" height="8.6" fill="#000000"/><rect x="76.0" y="262.0" width="8.6" height="8.6" fill="#000000"/><rect x="84.0" y="262.0" width="8.6" height="8.6" fill="#000000"/><rect x="92.0" y="262.0" width="8.6" height="8.6" fill="#000000"/><rect x="100.0" y="262.0" width="8.6" height="8.6" fill="#000000"/><rect x="108.0" y="262.0" width="8.6" height="8.6" fill="#000000"/><rect x="116.0" y="262.0" width="8.6" height="8.6" fill="#000000"/><rect x="124.0" y="262.0" width="8.6" height="8.6" fill="#000000"/><rect x="132.0" y="262.0" width="8.6" height="8.6" fill="#000000"/><rect x="140.0" y="262.0" width="8.6" height="8.6" fill="#000000"/><rect x="148.0" y="262.0" width="8.6" height="8.6" fill="#000000"/><rect x="156.0" y="262.0" width="8.6" height="8.6" fill="#000000"/><rect x="164.0" y="262.0" width="8.6" height="8.6" fill="#000000"/><rect x="172.0" y="262.0" width="8.6" height="8.6" fill="#000000"/><rect x="180.0" y="262.0" width="8.6" height="8.6" fill="#000000"/><rect x="188.0" y="262.0" width="8.6" height="8.6" fill="#000000"/><rect x="196.0" y="262.0" width="8.6" height="8.6" fill="#000000"/><rect x="204.0" y="262.0" width="8.6" height="8.6" fill="#000000"/><rect x="212.0" y="262.0" width="8.6" height="8.6" fill="#000000"/><rect x="220.0" y="262.0" width="8.6" height="8.6" fill="#000000"/><rect x="228.0" y="262.0" width="8.6" height="8.6" fill="#000000"/><rect x="236.0" y="262.0" width="8.6" height="8.6" fill="#000000"/><rect x="244.0" y="262.0" width="8.6" height="8.6" fill="#000000"/><rect x="252.0" y="262.0" width="8.6" height="8.6" fill="#000000"/><rect x="260.0" y="262.0" width="8.6" height="8.6" fill="#000000"/><rect x="268.0" y="262.0" width="8.6" height="8.6" fill="#000000"/><rect x="4.0" y="270.0" width="8.6" height="8.6" fill="#676767"/><rect x="12.0" y="270.0" width="8.6" height="8.6" fill="#676767"/><rect x="20.0" y="270.0" width="8.6" height="8.6" fill="#676767"/><rect x="28.0" y="270.0" width="8.6" height="8.6" fill="#787878"/><rect x="36.0" y="270.0" width="8.6" height="8.6" fill="#555555"/><rect x="44.0" y="270.0" width="8.6" height="8.6" fill="#3b3b3b"/><rect x="52.0" y="270.0" width="8.6" height="8.6" fill="#000000"/><rect x="60.0" y="270.0" width="8.6" height="8.6" fill="#000000"/><rect x="68.0" y="270.0" width="8.6" height="8.6" fill="#000000"/><rect x="76.0" y="270.0" width="8.6" height="8.6" fill="#000000"/><rect x="84.0" y="270.0" width="8.6" height="8.6" fill="#000000"/><rect x="92.0" y="270.0" width="8.6" height="8.6" fill="#000000"/><rect x="100.0" y="270.0" width="8.6" height="8.6" fill="#000000"/><rect x="108.0" y="270.0" width="8.6" height="8.6" fill="#000000"/><rect x="116.0" y="270.0" width="8.6" height="8.6" fill="#000000"/><rect x="124.0" y="270.0" width="8.6" height="8.6" fill="#000000"/><rect x="132.0" y="270.0" width="8.6" height="8.6" fill="#000000"/><rect x="140.0" y="270.0" width="8.6" height="8.6" fill="#000000"/><rect x="148.0" y="270.0" width="8.6" height="8.6" fill="#000000"/><rect x="156.0" y="270.0" width="8.6" height="8.6" fill="#000000"/><rect x="164.0" y="270.0" width="8.6" height="8.6" fill="#000000"/><rect x="172.0" y="270.0" width="8.6" height="8.6" fill="#000000"/><rect x="180.0" y="270.0" width="8.6" height="8.6" fill="#000000"/><rect x="188.0" y="270.0" width="8.6" height="8.6" fill="#000000"/><rect x="196.0" y="270.0" width="8.6" height="8.6" fill="#000000"/><rect x="204.0" y="270.0" width="8.6" height="8.6" fill="#000000"/><rect x="212.0" y="270.0" width="8.6" height="8.6" fill="#000000"/><rect x="220.0" y="270.0" width="8.6" height="8.6" fill="#000000"/><rect x="228.0" y="270.0" width="8.6" height="8.6" fill="#000000"/><rect x="236.0" y="270.0" width="8.6" height="8.6" fill="#000000"/><rect x="244.0" y="270.0" width="8.6" height="8.6" fill="#000000"/><rect x="252.0" y="270.0" width="8.6" height="8.6" fill="#000000"/><rect x="260.0" y="270.0" width="8.6" height="8.6" fill="#000000"/><rect x="268.0" y="270.0" width="8.6" height="8.6" fill="#000000"/><rect x="4.0" y="278.0" width="8.6" height="8.6" fill="#676767"/><rect x="12.0" y="278.0" width="8.6" height="8.6" fill="#676767"/><rect x="20.0" y="278.0" width="8.6" height="8.6" fill="#676767"/><rect x="28.0" y="278.0" width="8.6" height="8.6" fill="#aaaaaa"/><rect x="36.0" y="278.0" width="8.6" height="8.6" fill="#676767"/><rect x="44.0" y="278.0" width="8.6" height="8.6" fill="#3b3b3b"/><rect x="52.0" y="278.0" width="8.6" height="8.6" fill="#878787"/><rect x="60.0" y="278.0" width="8.6" height="8.6" fill="#555555"/><rect x="68.0" y="278.0" width="8.6" height="8.6" fill="#000000"/><rect x="76.0" y="278.0" width="8.6" height="8.6" fill="#000000"/><rect x="84.0" y="278.0" width="8.6" height="8.6" fill="#000000"/><rect x="92.0" y="278.0" width="8.6" height="8.6" fill="#000000"/><rect x="100.0" y="278.0" width="8.6" height="8.6" fill="#000000"/><rect x="108.0" y="278.0" width="8.6" height="8.6" fill="#000000"/><rect x="116.0" y="278.0" width="8.6" height="8.6" fill="#000000"/><rect x="124.0" y="278.0" width="8.6" height="8.6" fill="#000000"/><rect x="132.0" y="278.0" width="8.6" height="8.6" fill="#000000"/><rect x="140.0" y="278.0" width="8.6" height="8.6" fill="#000000"/><rect x="148.0" y="278.0" width="8.6" height="8.6" fill="#000000"/><rect x="156.0" y="278.0" width="8.6" height="8.6" fill="#000000"/><rect x="164.0" y="278.0" width="8.6" height="8.6" fill="#000000"/><rect x="172.0" y="278.0" width="8.6" height="8.6" fill="#000000"/><rect x="180.0" y="278.0" width="8.6" height="8.6" fill="#000000"/><rect x="188.0" y="278.0" width="8.6" height="8.6" fill="#000000"/><rect x="196.0" y="278.0" width="8.6" height="8.6" fill="#000000"/><rect x="204.0" y="278.0" width="8.6" height="8.6" fill="#000000"/><rect x="212.0" y="278.0" width="8.6" height="8.6" fill="#000000"/><rect x="220.0" y="278.0" width="8.6" height="8.6" fill="#000000"/><rect x="228.0" y="278.0" width="8.6" height="8.6" fill="#000000"/><rect x="236.0" y="278.0" width="8.6" height="8.6" fill="#000000"/><rect x="244.0" y="278.0" width="8.6" height="8.6" fill="#000000"/><rect x="252.0" y="278.0" width="8.6" height="8.6" fill="#000000"/><rect x="260.0" y="278.0" width="8.6" height="8.6" fill="#000000"/><rect x="268.0" y="278.0" width="8.6" height="8.6" fill="#000000"/><rect x="4.0" y="286.0" width="8.6" height="8.6" fill="#676767"/><rect x="12.0" y="286.0" width="8.6" height="8.6" fill="#676767"/><rect x="20.0" y="286.0" width="8.6" height="8.6" fill="#676767"/><rect x="28.0" y="286.0" width="8.6" height="8.6" fill="#aaaaaa"/><rect x="36.0" y="286.0" width="8.6" height="8.6" fill="#787878"/><rect x="44.0" y="286.0" width="8.6" height="8.6" fill="#555555"/><rect x="52.0" y="286.0" width="8.6" height="8.6" fill="#989898"/><rect x="60.0" y="286.0" width="8.6" height="8.6" fill="#878787"/><rect x="68.0" y="286.0" width="8.6" height="8.6" fill="#676767"/><rect x="76.0" y="286.0" width="8.6" height="8.6" fill="#676767"/><rect x="84.0" y="286.0" width="8.6" height="8.6" fill="#555555"/><rect x="92.0" y="286.0" width="8.6" height="8.6" fill="#3b3b3b"/><rect x="100.0" y="286.0" width="8.6" height="8.6" fill="#000000"/><rect x="108.0" y="286.0" width="8.6" height="8.6" fill="#000000"/><rect x="116.0" y="286.0" width="8.6" height="8.6" fill="#000000"/><rect x="124.0" y="286.0" width="8.6" height="8.6" fill="#000000"/><rect x="132.0" y="286.0" width="8.6" height="8.6" fill="#000000"/><rect x="140.0" y="286.0" width="8.6" height="8.6" fill="#000000"/><rect x="148.0" y="286.0" width="8.6" height="8.6" fill="#000000"/><rect x="156.0" y="286.0" width="8.6" height="8.6" fill="#000000"/><rect x="164.0" y="286.0" width="8.6" height="8.6" fill="#000000"/><rect x="172.0" y="286.0" width="8.6" height="8.6" fill="#000000"/><rect x="180.0" y="286.0" width="8.6" height="8.6" fill="#000000"/><rect x="188.0" y="286.0" width="8.6" height="8.6" fill="#000000"/><rect x="196.0" y="286.0" width="8.6" height="8.6" fill="#000000"/><rect x="204.0" y="286.0" width="8.6" height="8.6" fill="#000000"/><rect x="212.0" y="286.0" width="8.6" height="8.6" fill="#000000"/><rect x="220.0" y="286.0" width="8.6" height="8.6" fill="#000000"/><rect x="228.0" y="286.0" width="8.6" height="8.6" fill="#000000"/><rect x="236.0" y="286.0" width="8.6" height="8.6" fill="#000000"/><rect x="244.0" y="286.0" width="8.6" height="8.6" fill="#000000"/><rect x="252.0" y="286.0" width="8.6" height="8.6" fill="#000000"/><rect x="260.0" y="286.0" width="8.6" height="8.6" fill="#000000"/><rect x="268.0" y="286.0" width="8.6" height="8.6" fill="#000000"/><rect x="4.0" y="294.0" width="8.6" height="8.6" fill="#676767"/><rect x="12.0" y="294.0" width="8.6" height="8.6" fill="#676767"/><rect x="20.0" y="294.0" width="8.6" height="8.6" fill="#676767"/><rect x="28.0" y="294.0" width="8.6" height="8.6" fill="#c4c4c4"/><rect x="36.0" y="294.0" width="8.6" height="8.6" fill="#989898"/><rect x="44.0" y="294.0" width="8.6" height="8.6" fill="#878787"/><rect x="52.0" y="294.0" width="8.6" height="8.6" fill="#c4c4c4"/><rect x="60.0" y="294.0" width="8.6" height="8.6" fill="#aaaaaa"/><rect x="68.0" y="294.0" width="8.6" height="8.6" fill="#989898"/><rect x="76.0" y="294.0" width="8.6" height="8.6" fill="#878787"/><rect x="84.0" y="294.0" width="8.6" height="8.6" fill="#878787"/><rect x="92.0" y="294.0" width="8.6" height="8.6" fill="#676767"/><rect x="100.0" y="294.0" width="8.6" height="8.6" fill="#000000"/><rect x="108.0" y="294.0" width="8.6" height="8.6" fill="#000000"/><rect x="116.0" y="294.0" width="8.6" height="8.6" fill="#000000"/><rect x="124.0" y="294.0" width="8.6" height="8.6" fill="#555555"/><rect x="132.0" y="294.0" width="8.6" height="8.6" fill="#555555"/><rect x="140.0" y="294.0" width="8.6" height="8.6" fill="#000000"/><rect x="148.0" y="294.0" width="8.6" height="8.6" fill="#000000"/><rect x="156.0" y="294.0" width="8.6" height="8.6" fill="#000000"/><rect x="164.0" y="294.0" width="8.6" height="8.6" fill="#000000"/><rect x="172.0" y="294.0" width="8.6" height="8.6" fill="#000000"/><rect x="180.0" y="294.0" width="8.6" height="8.6" fill="#000000"/><rect x="188.0" y="294.0" width="8.6" height="8.6" fill="#000000"/><rect x="196.0" y="294.0" width="8.6" height="8.6" fill="#000000"/><rect x="204.0" y="294.0" width="8.6" height="8.6" fill="#000000"/><rect x="212.0" y="294.0" width="8.6" height="8.6" fill="#000000"/><rect x="220.0" y="294.0" width="8.6" height="8.6" fill="#000000"/><rect x="228.0" y="294.0" width="8.6" height="8.6" fill="#000000"/><rect x="236.0" y="294.0" width="8.6" height="8.6" fill="#000000"/><rect x="244.0" y="294.0" width="8.6" height="8.6" fill="#000000"/><rect x="252.0" y="294.0" width="8.6" height="8.6" fill="#000000"/><rect x="260.0" y="294.0" width="8.6" height="8.6" fill="#000000"/><rect x="268.0" y="294.0" width="8.6" height="8.6" fill="#000000"/><rect x="4.0" y="302.0" width="8.6" height="8.6" fill="#555555"/><rect x="12.0" y="302.0" width="8.6" height="8.6" fill="#555555"/><rect x="20.0" y="302.0" width="8.6" height="8.6" fill="#555555"/><rect x="28.0" y="302.0" width="8.6" height="8.6" fill="#989898"/><rect x="36.0" y="302.0" width="8.6" height="8.6" fill="#c4c4c4"/><rect x="44.0" y="302.0" width="8.6" height="8.6" fill="#aaaaaa"/><rect x="52.0" y="302.0" width="8.6" height="8.6" fill="#c4c4c4"/><rect x="60.0" y="302.0" width="8.6" height="8.6" fill="#aaaaaa"/><rect x="68.0" y="302.0" width="8.6" height="8.6" fill="#878787"/><rect x="76.0" y="302.0" width="8.6" height="8.6" fill="#878787"/><rect x="84.0" y="302.0" width="8.6" height="8.6" fill="#676767"/><rect x="92.0" y="302.0" width="8.6" height="8.6" fill="#3b3b3b"/><rect x="100.0" y="302.0" width="8.6" height="8.6" fill="#000000"/><rect x="108.0" y="302.0" width="8.6" height="8.6" fill="#000000"/><rect x="116.0" y="302.0" width="8.6" height="8.6" fill="#000000"/><rect x="124.0" y="302.0" width="8.6" height="8.6" fill="#676767"/><rect x="132.0" y="302.0" width="8.6" height="8.6" fill="#676767"/><rect x="140.0" y="302.0" width="8.6" height="8.6" fill="#000000"/><rect x="148.0" y="302.0" width="8.6" height="8.6" fill="#000000"/><rect x="156.0" y="302.0" width="8.6" height="8.6" fill="#555555"/><rect x="164.0" y="302.0" width="8.6" height="8.6" fill="#555555"/><rect x="172.0" y="302.0" width="8.6" height="8.6" fill="#555555"/><rect x="180.0" y="302.0" width="8.6" height="8.6" fill="#000000"/><rect x="188.0" y="302.0" width="8.6" height="8.6" fill="#000000"/><rect x="196.0" y="302.0" width="8.6" height="8.6" fill="#000000"/><rect x="204.0" y="302.0" width="8.6" height="8.6" fill="#000000"/><rect x="212.0" y="302.0" width="8.6" height="8.6" fill="#000000"/><rect x="220.0" y="302.0" width="8.6" height="8.6" fill="#000000"/><rect x="228.0" y="302.0" width="8.6" height="8.6" fill="#000000"/><rect x="236.0" y="302.0" width="8.6" height="8.6" fill="#000000"/><rect x="244.0" y="302.0" width="8.6" height="8.6" fill="#000000"/><rect x="252.0" y="302.0" width="8.6" height="8.6" fill="#000000"/><rect x="260.0" y="302.0" width="8.6" height="8.6" fill="#000000"/><rect x="268.0" y="302.0" width="8.6" height="8.6" fill="#000000"/><rect x="4.0" y="310.0" width="8.6" height="8.6" fill="#000000"/><rect x="12.0" y="310.0" width="8.6" height="8.6" fill="#000000"/><rect x="20.0" y="310.0" width="8.6" height="8.6" fill="#000000"/><rect x="28.0" y="310.0" width="8.6" height="8.6" fill="#000000"/><rect x="36.0" y="310.0" width="8.6" height="8.6" fill="#000000"/><rect x="44.0" y="310.0" width="8.6" height="8.6" fill="#878787"/><rect x="52.0" y="310.0" width="8.6" height="8.6" fill="#989898"/><rect x="60.0" y="310.0" width="8.6" height="8.6" fill="#878787"/><rect x="68.0" y="310.0" width="8.6" height="8.6" fill="#555555"/><rect x="76.0" y="310.0" width="8.6" height="8.6" fill="#000000"/><rect x="84.0" y="310.0" width="8.6" height="8.6" fill="#555555"/><rect x="92.0" y="310.0" width="8.6" height="8.6" fill="#000000"/><rect x="100.0" y="310.0" width="8.6" height="8.6" fill="#000000"/><rect x="108.0" y="310.0" width="8.6" height="8.6" fill="#000000"/><rect x="116.0" y="310.0" width="8.6" height="8.6" fill="#555555"/><rect x="124.0" y="310.0" width="8.6" height="8.6" fill="#878787"/><rect x="132.0" y="310.0" width="8.6" height="8.6" fill="#676767"/><rect x="140.0" y="310.0" width="8.6" height="8.6" fill="#000000"/><rect x="148.0" y="310.0" width="8.6" height="8.6" fill="#000000"/><rect x="156.0" y="310.0" width="8.6" height="8.6" fill="#878787"/><rect x="164.0" y="310.0" width="8.6" height="8.6" fill="#878787"/><rect x="172.0" y="310.0" width="8.6" height="8.6" fill="#3b3b3b"/><rect x="180.0" y="310.0" width="8.6" height="8.6" fill="#000000"/><rect x="188.0" y="310.0" width="8.6" height="8.6" fill="#000000"/><rect x="196.0" y="310.0" width="8.6" height="8.6" fill="#000000"/><rect x="204.0" y="310.0" width="8.6" height="8.6" fill="#000000"/><rect x="212.0" y="310.0" width="8.6" height="8.6" fill="#000000"/><rect x="220.0" y="310.0" width="8.6" height="8.6" fill="#000000"/><rect x="228.0" y="310.0" width="8.6" height="8.6" fill="#000000"/><rect x="236.0" y="310.0" width="8.6" height="8.6" fill="#000000"/><rect x="244.0" y="310.0" width="8.6" height="8.6" fill="#3b3b3b"/><rect x="252.0" y="310.0" width="8.6" height="8.6" fill="#3b3b3b"/><rect x="260.0" y="310.0" width="8.6" height="8.6" fill="#3b3b3b"/><rect x="268.0" y="310.0" width="8.6" height="8.6" fill="#3b3b3b"/><rect x="4.0" y="318.0" width="8.6" height="8.6" fill="#3b3b3b"/><rect x="12.0" y="318.0" width="8.6" height="8.6" fill="#3b3b3b"/><rect x="20.0" y="318.0" width="8.6" height="8.6" fill="#3b3b3b"/><rect x="28.0" y="318.0" width="8.6" height="8.6" fill="#878787"/><rect x="36.0" y="318.0" width="8.6" height="8.6" fill="#3b3b3b"/><rect x="44.0" y="318.0" width="8.6" height="8.6" fill="#676767"/><rect x="52.0" y="318.0" width="8.6" height="8.6" fill="#989898"/><rect x="60.0" y="318.0" width="8.6" height="8.6" fill="#3b3b3b"/><rect x="68.0" y="318.0" width="8.6" height="8.6" fill="#000000"/><rect x="76.0" y="318.0" width="8.6" height="8.6" fill="#000000"/><rect x="84.0" y="318.0" width="8.6" height="8.6" fill="#000000"/><rect x="92.0" y="318.0" width="8.6" height="8.6" fill="#3b3b3b"/><rect x="100.0" y="318.0" width="8.6" height="8.6" fill="#000000"/><rect x="108.0" y="318.0" width="8.6" height="8.6" fill="#3b3b3b"/><rect x="116.0" y="318.0" width="8.6" height="8.6" fill="#989898"/><rect x="124.0" y="318.0" width="8.6" height="8.6" fill="#aaaaaa"/><rect x="132.0" y="318.0" width="8.6" height="8.6" fill="#787878"/><rect x="140.0" y="318.0" width="8.6" height="8.6" fill="#000000"/><rect x="148.0" y="318.0" width="8.6" height="8.6" fill="#3b3b3b"/><rect x="156.0" y="318.0" width="8.6" height="8.6" fill="#989898"/><rect x="164.0" y="318.0" width="8.6" height="8.6" fill="#878787"/><rect x="172.0" y="318.0" width="8.6" height="8.6" fill="#3b3b3b"/><rect x="180.0" y="318.0" width="8.6" height="8.6" fill="#000000"/><rect x="188.0" y="318.0" width="8.6" height="8.6" fill="#000000"/><rect x="196.0" y="318.0" width="8.6" height="8.6" fill="#000000"/><rect x="204.0" y="318.0" width="8.6" height="8.6" fill="#000000"/><rect x="212.0" y="318.0" width="8.6" height="8.6" fill="#000000"/><rect x="220.0" y="318.0" width="8.6" height="8.6" fill="#3b3b3b"/><rect x="228.0" y="318.0" width="8.6" height="8.6" fill="#000000"/><rect x="236.0" y="318.0" width="8.6" height="8.6" fill="#000000"/><rect x="244.0" y="318.0" width="8.6" height="8.6" fill="#555555"/><rect x="252.0" y="318.0" width="8.6" height="8.6" fill="#000000"/><rect x="260.0" y="318.0" width="8.6" height="8.6" fill="#000000"/><rect x="268.0" y="318.0" width="8.6" height="8.6" fill="#000000"/><rect x="4.0" y="326.0" width="8.6" height="8.6" fill="#555555"/><rect x="12.0" y="326.0" width="8.6" height="8.6" fill="#555555"/><rect x="20.0" y="326.0" width="8.6" height="8.6" fill="#555555"/><rect x="28.0" y="326.0" width="8.6" height="8.6" fill="#aaaaaa"/><rect x="36.0" y="326.0" width="8.6" height="8.6" fill="#555555"/><rect x="44.0" y="326.0" width="8.6" height="8.6" fill="#989898"/><rect x="52.0" y="326.0" width="8.6" height="8.6" fill="#787878"/><rect x="60.0" y="326.0" width="8.6" height="8.6" fill="#3b3b3b"/><rect x="68.0" y="326.0" width="8.6" height="8.6" fill="#676767"/><rect x="76.0" y="326.0" width="8.6" height="8.6" fill="#676767"/><rect x="84.0" y="326.0" width="8.6" height="8.6" fill="#3b3b3b"/><rect x="92.0" y="326.0" width="8.6" height="8.6" fill="#000000"/><rect x="100.0" y="326.0" width="8.6" height="8.6" fill="#000000"/><rect x="108.0" y="326.0" width="8.6" height="8.6" fill="#3b3b3b"/><rect x="116.0" y="326.0" width="8.6" height="8.6" fill="#787878"/><rect x="124.0" y="326.0" width="8.6" height="8.6" fill="#989898"/><rect x="132.0" y="326.0" width="8.6" height="8.6" fill="#555555"/><rect x="140.0" y="326.0" width="8.6" height="8.6" fill="#000000"/><rect x="148.0" y="326.0" width="8.6" height="8.6" fill="#555555"/><rect x="156.0" y="326.0" width="8.6" height="8.6" fill="#676767"/><rect x="164.0" y="326.0" width="8.6" height="8.6" fill="#3b3b3b"/><rect x="172.0" y="326.0" width="8.6" height="8.6" fill="#000000"/><rect x="180.0" y="326.0" width="8.6" height="8.6" fill="#000000"/><rect x="188.0" y="326.0" width="8.6" height="8.6" fill="#000000"/><rect x="196.0" y="326.0" width="8.6" height="8.6" fill="#000000"/><rect x="204.0" y="326.0" width="8.6" height="8.6" fill="#000000"/><rect x="212.0" y="326.0" width="8.6" height="8.6" fill="#555555"/><rect x="220.0" y="326.0" width="8.6" height="8.6" fill="#555555"/><rect x="228.0" y="326.0" width="8.6" height="8.6" fill="#3b3b3b"/><rect x="236.0" y="326.0" width="8.6" height="8.6" fill="#787878"/><rect x="244.0" y="326.0" width="8.6" height="8.6" fill="#555555"/><rect x="252.0" y="326.0" width="8.6" height="8.6" fill="#000000"/><rect x="260.0" y="326.0" width="8.6" height="8.6" fill="#000000"/><rect x="268.0" y="326.0" width="8.6" height="8.6" fill="#000000"/><rect x="4.0" y="334.0" width="8.6" height="8.6" fill="#676767"/><rect x="12.0" y="334.0" width="8.6" height="8.6" fill="#676767"/><rect x="20.0" y="334.0" width="8.6" height="8.6" fill="#676767"/><rect x="28.0" y="334.0" width="8.6" height="8.6" fill="#aaaaaa"/><rect x="36.0" y="334.0" width="8.6" height="8.6" fill="#555555"/><rect x="44.0" y="334.0" width="8.6" height="8.6" fill="#989898"/><rect x="52.0" y="334.0" width="8.6" height="8.6" fill="#555555"/><rect x="60.0" y="334.0" width="8.6" height="8.6" fill="#878787"/><rect x="68.0" y="334.0" width="8.6" height="8.6" fill="#989898"/><rect x="76.0" y="334.0" width="8.6" height="8.6" fill="#676767"/><rect x="84.0" y="334.0" width="8.6" height="8.6" fill="#787878"/><rect x="92.0" y="334.0" width="8.6" height="8.6" fill="#555555"/><rect x="100.0" y="334.0" width="8.6" height="8.6" fill="#000000"/><rect x="108.0" y="334.0" width="8.6" height="8.6" fill="#3b3b3b"/><rect x="116.0" y="334.0" width="8.6" height="8.6" fill="#aaaaaa"/><rect x="124.0" y="334.0" width="8.6" height="8.6" fill="#989898"/><rect x="132.0" y="334.0" width="8.6" height="8.6" fill="#3b3b3b"/><rect x="140.0" y="334.0" width="8.6" height="8.6" fill="#676767"/><rect x="148.0" y="334.0" width="8.6" height="8.6" fill="#787878"/><rect x="156.0" y="334.0" width="8.6" height="8.6" fill="#676767"/><rect x="164.0" y="334.0" width="8.6" height="8.6" fill="#555555"/><rect x="172.0" y="334.0" width="8.6" height="8.6" fill="#000000"/><rect x="180.0" y="334.0" width="8.6" height="8.6" fill="#000000"/><rect x="188.0" y="334.0" width="8.6" height="8.6" fill="#000000"/><rect x="196.0" y="334.0" width="8.6" height="8.6" fill="#000000"/><rect x="204.0" y="334.0" width="8.6" height="8.6" fill="#000000"/><rect x="212.0" y="334.0" width="8.6" height="8.6" fill="#3b3b3b"/><rect x="220.0" y="334.0" width="8.6" height="8.6" fill="#878787"/><rect x="228.0" y="334.0" width="8.6" height="8.6" fill="#878787"/><rect x="236.0" y="334.0" width="8.6" height="8.6" fill="#787878"/><rect x="244.0" y="334.0" width="8.6" height="8.6" fill="#000000"/><rect x="252.0" y="334.0" width="8.6" height="8.6" fill="#000000"/><rect x="260.0" y="334.0" width="8.6" height="8.6" fill="#000000"/><rect x="268.0" y="334.0" width="8.6" height="8.6" fill="#000000"/><rect x="4.0" y="342.0" width="8.6" height="8.6" fill="#787878"/><rect x="12.0" y="342.0" width="8.6" height="8.6" fill="#787878"/><rect x="20.0" y="342.0" width="8.6" height="8.6" fill="#787878"/><rect x="28.0" y="342.0" width="8.6" height="8.6" fill="#aaaaaa"/><rect x="36.0" y="342.0" width="8.6" height="8.6" fill="#555555"/><rect x="44.0" y="342.0" width="8.6" height="8.6" fill="#aaaaaa"/><rect x="52.0" y="342.0" width="8.6" height="8.6" fill="#3b3b3b"/><rect x="60.0" y="342.0" width="8.6" height="8.6" fill="#aaaaaa"/><rect x="68.0" y="342.0" width="8.6" height="8.6" fill="#989898"/><rect x="76.0" y="342.0" width="8.6" height="8.6" fill="#3b3b3b"/><rect x="84.0" y="342.0" width="8.6" height="8.6" fill="#787878"/><rect x="92.0" y="342.0" width="8.6" height="8.6" fill="#989898"/><rect x="100.0" y="342.0" width="8.6" height="8.6" fill="#3b3b3b"/><rect x="108.0" y="342.0" width="8.6" height="8.6" fill="#3b3b3b"/><rect x="116.0" y="342.0" width="8.6" height="8.6" fill="#878787"/><rect x="124.0" y="342.0" width="8.6" height="8.6" fill="#989898"/><rect x="132.0" y="342.0" width="8.6" height="8.6" fill="#555555"/><rect x="140.0" y="342.0" width="8.6" height="8.6" fill="#989898"/><rect x="148.0" y="342.0" width="8.6" height="8.6" fill="#aaaaaa"/><rect x="156.0" y="342.0" width="8.6" height="8.6" fill="#aaaaaa"/><rect x="164.0" y="342.0" width="8.6" height="8.6" fill="#989898"/><rect x="172.0" y="342.0" width="8.6" height="8.6" fill="#676767"/><rect x="180.0" y="342.0" width="8.6" height="8.6" fill="#000000"/><rect x="188.0" y="342.0" width="8.6" height="8.6" fill="#3b3b3b"/><rect x="196.0" y="342.0" width="8.6" height="8.6" fill="#676767"/><rect x="204.0" y="342.0" width="8.6" height="8.6" fill="#787878"/><rect x="212.0" y="342.0" width="8.6" height="8.6" fill="#676767"/><rect x="220.0" y="342.0" width="8.6" height="8.6" fill="#989898"/><rect x="228.0" y="342.0" width="8.6" height="8.6" fill="#676767"/><rect x="236.0" y="342.0" width="8.6" height="8.6" fill="#555555"/><rect x="244.0" y="342.0" width="8.6" height="8.6" fill="#000000"/><rect x="252.0" y="342.0" width="8.6" height="8.6" fill="#555555"/><rect x="260.0" y="342.0" width="8.6" height="8.6" fill="#555555"/><rect x="268.0" y="342.0" width="8.6" height="8.6" fill="#555555"/><rect x="4.0" y="350.0" width="8.6" height="8.6" fill="#878787"/><rect x="12.0" y="350.0" width="8.6" height="8.6" fill="#878787"/><rect x="20.0" y="350.0" width="8.6" height="8.6" fill="#878787"/><rect x="28.0" y="350.0" width="8.6" height="8.6" fill="#c4c4c4"/><rect x="36.0" y="350.0" width="8.6" height="8.6" fill="#989898"/><rect x="44.0" y="350.0" width="8.6" height="8.6" fill="#989898"/><rect x="52.0" y="350.0" width="8.6" height="8.6" fill="#555555"/><rect x="60.0" y="350.0" width="8.6" height="8.6" fill="#c4c4c4"/><rect x="68.0" y="350.0" width="8.6" height="8.6" fill="#878787"/><rect x="76.0" y="350.0" width="8.6" height="8.6" fill="#676767"/><rect x="84.0" y="350.0" width="8.6" height="8.6" fill="#878787"/><rect x="92.0" y="350.0" width="8.6" height="8.6" fill="#aaaaaa"/><rect x="100.0" y="350.0" width="8.6" height="8.6" fill="#787878"/><rect x="108.0" y="350.0" width="8.6" height="8.6" fill="#555555"/><rect x="116.0" y="350.0" width="8.6" height="8.6" fill="#787878"/><rect x="124.0" y="350.0" width="8.6" height="8.6" fill="#878787"/><rect x="132.0" y="350.0" width="8.6" height="8.6" fill="#676767"/><rect x="140.0" y="350.0" width="8.6" height="8.6" fill="#aaaaaa"/><rect x="148.0" y="350.0" width="8.6" height="8.6" fill="#aaaaaa"/><rect x="156.0" y="350.0" width="8.6" height="8.6" fill="#aaaaaa"/><rect x="164.0" y="350.0" width="8.6" height="8.6" fill="#989898"/><rect x="172.0" y="350.0" width="8.6" height="8.6" fill="#676767"/><rect x="180.0" y="350.0" width="8.6" height="8.6" fill="#000000"/><rect x="188.0" y="350.0" width="8.6" height="8.6" fill="#787878"/><rect x="196.0" y="350.0" width="8.6" height="8.6" fill="#989898"/><rect x="204.0" y="350.0" width="8.6" height="8.6" fill="#aaaaaa"/><rect x="212.0" y="350.0" width="8.6" height="8.6" fill="#aaaaaa"/><rect x="220.0" y="350.0" width="8.6" height="8.6" fill="#aaaaaa"/><rect x="228.0" y="350.0" width="8.6" height="8.6" fill="#787878"/><rect x="236.0" y="350.0" width="8.6" height="8.6" fill="#3b3b3b"/><rect x="244.0" y="350.0" width="8.6" height="8.6" fill="#676767"/><rect x="252.0" y="350.0" width="8.6" height="8.6" fill="#989898"/><rect x="260.0" y="350.0" width="8.6" height="8.6" fill="#989898"/><rect x="268.0" y="350.0" width="8.6" height="8.6" fill="#989898"/><rect x="4.0" y="358.0" width="8.6" height="8.6" fill="#989898"/><rect x="12.0" y="358.0" width="8.6" height="8.6" fill="#989898"/><rect x="20.0" y="358.0" width="8.6" height="8.6" fill="#989898"/><rect x="28.0" y="358.0" width="8.6" height="8.6" fill="#c4c4c4"/><rect x="36.0" y="358.0" width="8.6" height="8.6" fill="#aaaaaa"/><rect x="44.0" y="358.0" width="8.6" height="8.6" fill="#878787"/><rect x="52.0" y="358.0" width="8.6" height="8.6" fill="#555555"/><rect x="60.0" y="358.0" width="8.6" height="8.6" fill="#c4c4c4"/><rect x="68.0" y="358.0" width="8.6" height="8.6" fill="#aaaaaa"/><rect x="76.0" y="358.0" width="8.6" height="8.6" fill="#989898"/><rect x="84.0" y="358.0" width="8.6" height="8.6" fill="#878787"/><rect x="92.0" y="358.0" width="8.6" height="8.6" fill="#aaaaaa"/><rect x="100.0" y="358.0" width="8.6" height="8.6" fill="#aaaaaa"/><rect x="108.0" y="358.0" width="8.6" height="8.6" fill="#878787"/><rect x="116.0" y="358.0" width="8.6" height="8.6" fill="#787878"/><rect x="124.0" y="358.0" width="8.6" height="8.6" fill="#787878"/><rect x="132.0" y="358.0" width="8.6" height="8.6" fill="#787878"/><rect x="140.0" y="358.0" width="8.6" height="8.6" fill="#787878"/><rect x="148.0" y="358.0" width="8.6" height="8.6" fill="#787878"/><rect x="156.0" y="358.0" width="8.6" height="8.6" fill="#676767"/><rect x="164.0" y="358.0" width="8.6" height="8.6" fill="#676767"/><rect x="172.0" y="358.0" width="8.6" height="8.6" fill="#3b3b3b"/><rect x="180.0" y="358.0" width="8.6" height="8.6" fill="#3b3b3b"/><rect x="188.0" y="358.0" width="8.6" height="8.6" fill="#989898"/><rect x="196.0" y="358.0" width="8.6" height="8.6" fill="#aaaaaa"/><rect x="204.0" y="358.0" width="8.6" height="8.6" fill="#aaaaaa"/><rect x="212.0" y="358.0" width="8.6" height="8.6" fill="#aaaaaa"/><rect x="220.0" y="358.0" width="8.6" height="8.6" fill="#aaaaaa"/><rect x="228.0" y="358.0" width="8.6" height="8.6" fill="#676767"/><rect x="236.0" y="358.0" width="8.6" height="8.6" fill="#676767"/><rect x="244.0" y="358.0" width="8.6" height="8.6" fill="#989898"/><rect x="252.0" y="358.0" width="8.6" height="8.6" fill="#989898"/><rect x="260.0" y="358.0" width="8.6" height="8.6" fill="#989898"/><rect x="268.0" y="358.0" width="8.6" height="8.6" fill="#989898"/><rect x="4.0" y="366.0" width="8.6" height="8.6" fill="#989898"/><rect x="12.0" y="366.0" width="8.6" height="8.6" fill="#989898"/><rect x="20.0" y="366.0" width="8.6" height="8.6" fill="#989898"/><rect x="28.0" y="366.0" width="8.6" height="8.6" fill="#c4c4c4"/><rect x="36.0" y="366.0" width="8.6" height="8.6" fill="#c4c4c4"/><rect x="44.0" y="366.0" width="8.6" height="8.6" fill="#989898"/><rect x="52.0" y="366.0" width="8.6" height="8.6" fill="#989898"/><rect x="60.0" y="366.0" width="8.6" height="8.6" fill="#c4c4c4"/><rect x="68.0" y="366.0" width="8.6" height="8.6" fill="#c4c4c4"/><rect x="76.0" y="366.0" width="8.6" height="8.6" fill="#aaaaaa"/><rect x="84.0" y="366.0" width="8.6" height="8.6" fill="#555555"/><rect x="92.0" y="366.0" width="8.6" height="8.6" fill="#aaaaaa"/><rect x="100.0" y="366.0" width="8.6" height="8.6" fill="#c4c4c4"/><rect x="108.0" y="366.0" width="8.6" height="8.6" fill="#aaaaaa"/><rect x="116.0" y="366.0" width="8.6" height="8.6" fill="#989898"/><rect x="124.0" y="366.0" width="8.6" height="8.6" fill="#878787"/><rect x="132.0" y="366.0" width="8.6" height="8.6" fill="#787878"/><rect x="140.0" y="366.0" width="8.6" height="8.6" fill="#3b3b3b"/><rect x="148.0" y="366.0" width="8.6" height="8.6" fill="#000000"/><rect x="156.0" y="366.0" width="8.6" height="8.6" fill="#000000"/><rect x="164.0" y="366.0" width="8.6" height="8.6" fill="#000000"/><rect x="172.0" y="366.0" width="8.6" height="8.6" fill="#000000"/><rect x="180.0" y="366.0" width="8.6" height="8.6" fill="#000000"/><rect x="188.0" y="366.0" width="8.6" height="8.6" fill="#989898"/><rect x="196.0" y="366.0" width="8.6" height="8.6" fill="#989898"/><rect x="204.0" y="366.0" width="8.6" height="8.6" fill="#878787"/><rect x="212.0" y="366.0" width="8.6" height="8.6" fill="#989898"/><rect x="220.0" y="366.0" width="8.6" height="8.6" fill="#aaaaaa"/><rect x="228.0" y="366.0" width="8.6" height="8.6" fill="#555555"/><rect x="236.0" y="366.0" width="8.6" height="8.6" fill="#989898"/><rect x="244.0" y="366.0" width="8.6" height="8.6" fill="#989898"/><rect x="252.0" y="366.0" width="8.6" height="8.6" fill="#676767"/><rect x="260.0" y="366.0" width="8.6" height="8.6" fill="#676767"/><rect x="268.0" y="366.0" width="8.6" height="8.6" fill="#676767"/><rect x="4.0" y="374.0" width="8.6" height="8.6" fill="#989898"/><rect x="12.0" y="374.0" width="8.6" height="8.6" fill="#989898"/><rect x="20.0" y="374.0" width="8.6" height="8.6" fill="#989898"/><rect x="28.0" y="374.0" width="8.6" height="8.6" fill="#c4c4c4"/><rect x="36.0" y="374.0" width="8.6" height="8.6" fill="#c4c4c4"/><rect x="44.0" y="374.0" width="8.6" height="8.6" fill="#aaaaaa"/><rect x="52.0" y="374.0" width="8.6" height="8.6" fill="#aaaaaa"/><rect x="60.0" y="374.0" width="8.6" height="8.6" fill="#c4c4c4"/><rect x="68.0" y="374.0" width="8.6" height="8.6" fill="#c4c4c4"/><rect x="76.0" y="374.0" width="8.6" height="8.6" fill="#c4c4c4"/><rect x="84.0" y="374.0" width="8.6" height="8.6" fill="#676767"/><rect x="92.0" y="374.0" width="8.6" height="8.6" fill="#c4c4c4"/><rect x="100.0" y="374.0" width="8.6" height="8.6" fill="#c4c4c4"/><rect x="108.0" y="374.0" width="8.6" height="8.6" fill="#aaaaaa"/><rect x="116.0" y="374.0" width="8.6" height="8.6" fill="#989898"/><rect x="124.0" y="374.0" width="8.6" height="8.6" fill="#878787"/><rect x="132.0" y="374.0" width="8.6" height="8.6" fill="#787878"/><rect x="140.0" y="374.0" width="8.6" height="8.6" fill="#676767"/><rect x="148.0" y="374.0" width="8.6" height="8.6" fill="#555555"/><rect x="156.0" y="374.0" width="8.6" height="8.6" fill="#000000"/><rect x="164.0" y="374.0" width="8.6" height="8.6" fill="#000000"/><rect x="172.0" y="374.0" width="8.6" height="8.6" fill="#000000"/><rect x="180.0" y="374.0" width="8.6" height="8.6" fill="#3b3b3b"/><rect x="188.0" y="374.0" width="8.6" height="8.6" fill="#555555"/><rect x="196.0" y="374.0" width="8.6" height="8.6" fill="#555555"/><rect x="204.0" y="374.0" width="8.6" height="8.6" fill="#676767"/><rect x="212.0" y="374.0" width="8.6" height="8.6" fill="#989898"/><rect x="220.0" y="374.0" width="8.6" height="8.6" fill="#aaaaaa"/><rect x="228.0" y="374.0" width="8.6" height="8.6" fill="#555555"/><rect x="236.0" y="374.0" width="8.6" height="8.6" fill="#aaaaaa"/><rect x="244.0" y="374.0" width="8.6" height="8.6" fill="#989898"/><rect x="252.0" y="374.0" width="8.6" height="8.6" fill="#676767"/><rect x="260.0" y="374.0" width="8.6" height="8.6" fill="#676767"/><rect x="268.0" y="374.0" width="8.6" height="8.6" fill="#676767"/><rect x="4.0" y="382.0" width="8.6" height="8.6" fill="#aaaaaa"/><rect x="12.0" y="382.0" width="8.6" height="8.6" fill="#aaaaaa"/><rect x="20.0" y="382.0" width="8.6" height="8.6" fill="#aaaaaa"/><rect x="28.0" y="382.0" width="8.6" height="8.6" fill="#c4c4c4"/><rect x="36.0" y="382.0" width="8.6" height="8.6" fill="#c4c4c4"/><rect x="44.0" y="382.0" width="8.6" height="8.6" fill="#c4c4c4"/><rect x="52.0" y="382.0" width="8.6" height="8.6" fill="#c4c4c4"/><rect x="60.0" y="382.0" width="8.6" height="8.6" fill="#c4c4c4"/><rect x="68.0" y="382.0" width="8.6" height="8.6" fill="#c4c4c4"/><rect x="76.0" y="382.0" width="8.6" height="8.6" fill="#c4c4c4"/><rect x="84.0" y="382.0" width="8.6" height="8.6" fill="#878787"/><rect x="92.0" y="382.0" width="8.6" height="8.6" fill="#aaaaaa"/><rect x="100.0" y="382.0" width="8.6" height="8.6" fill="#aaaaaa"/><rect x="108.0" y="382.0" width="8.6" height="8.6" fill="#aaaaaa"/><rect x="116.0" y="382.0" width="8.6" height="8.6" fill="#878787"/><rect x="124.0" y="382.0" width="8.6" height="8.6" fill="#676767"/><rect x="132.0" y="382.0" width="8.6" height="8.6" fill="#676767"/><rect x="140.0" y="382.0" width="8.6" height="8.6" fill="#555555"/><rect x="148.0" y="382.0" width="8.6" height="8.6" fill="#000000"/><rect x="156.0" y="382.0" width="8.6" height="8.6" fill="#000000"/><rect x="164.0" y="382.0" width="8.6" height="8.6" fill="#3b3b3b"/><rect x="172.0" y="382.0" width="8.6" height="8.6" fill="#000000"/><rect x="180.0" y="382.0" width="8.6" height="8.6" fill="#676767"/><rect x="188.0" y="382.0" width="8.6" height="8.6" fill="#787878"/><rect x="196.0" y="382.0" width="8.6" height="8.6" fill="#676767"/><rect x="204.0" y="382.0" width="8.6" height="8.6" fill="#676767"/><rect x="212.0" y="382.0" width="8.6" height="8.6" fill="#989898"/><rect x="220.0" y="382.0" width="8.6" height="8.6" fill="#aaaaaa"/><rect x="228.0" y="382.0" width="8.6" height="8.6" fill="#555555"/><rect x="236.0" y="382.0" width="8.6" height="8.6" fill="#aaaaaa"/><rect x="244.0" y="382.0" width="8.6" height="8.6" fill="#989898"/><rect x="252.0" y="382.0" width="8.6" height="8.6" fill="#878787"/><rect x="260.0" y="382.0" width="8.6" height="8.6" fill="#878787"/><rect x="268.0" y="382.0" width="8.6" height="8.6" fill="#878787"/><rect x="4.0" y="390.0" width="8.6" height="8.6" fill="#c4c4c4"/><rect x="12.0" y="390.0" width="8.6" height="8.6" fill="#c4c4c4"/><rect x="20.0" y="390.0" width="8.6" height="8.6" fill="#c4c4c4"/><rect x="28.0" y="390.0" width="8.6" height="8.6" fill="#c4c4c4"/><rect x="36.0" y="390.0" width="8.6" height="8.6" fill="#c4c4c4"/><rect x="44.0" y="390.0" width="8.6" height="8.6" fill="#c4c4c4"/><rect x="52.0" y="390.0" width="8.6" height="8.6" fill="#c4c4c4"/><rect x="60.0" y="390.0" width="8.6" height="8.6" fill="#c4c4c4"/><rect x="68.0" y="390.0" width="8.6" height="8.6" fill="#c4c4c4"/><rect x="76.0" y="390.0" width="8.6" height="8.6" fill="#aaaaaa"/><rect x="84.0" y="390.0" width="8.6" height="8.6" fill="#aaaaaa"/><rect x="92.0" y="390.0" width="8.6" height="8.6" fill="#aaaaaa"/><rect x="100.0" y="390.0" width="8.6" height="8.6" fill="#aaaaaa"/><rect x="108.0" y="390.0" width="8.6" height="8.6" fill="#989898"/><rect x="116.0" y="390.0" width="8.6" height="8.6" fill="#676767"/><rect x="124.0" y="390.0" width="8.6" height="8.6" fill="#555555"/><rect x="132.0" y="390.0" width="8.6" height="8.6" fill="#000000"/><rect x="140.0" y="390.0" width="8.6" height="8.6" fill="#000000"/><rect x="148.0" y="390.0" width="8.6" height="8.6" fill="#000000"/><rect x="156.0" y="390.0" width="8.6" height="8.6" fill="#000000"/><rect x="164.0" y="390.0" width="8.6" height="8.6" fill="#787878"/><rect x="172.0" y="390.0" width="8.6" height="8.6" fill="#555555"/><rect x="180.0" y="390.0" width="8.6" height="8.6" fill="#000000"/><rect x="188.0" y="390.0" width="8.6" height="8.6" fill="#676767"/><rect x="196.0" y="390.0" width="8.6" height="8.6" fill="#989898"/><rect x="204.0" y="390.0" width="8.6" height="8.6" fill="#aaaaaa"/><rect x="212.0" y="390.0" width="8.6" height="8.6" fill="#aaaaaa"/><rect x="220.0" y="390.0" width="8.6" height="8.6" fill="#aaaaaa"/><rect x="228.0" y="390.0" width="8.6" height="8.6" fill="#aaaaaa"/><rect x="236.0" y="390.0" width="8.6" height="8.6" fill="#aaaaaa"/><rect x="244.0" y="390.0" width="8.6" height="8.6" fill="#878787"/><rect x="252.0" y="390.0" width="8.6" height="8.6" fill="#989898"/><rect x="260.0" y="390.0" width="8.6" height="8.6" fill="#989898"/><rect x="268.0" y="390.0" width="8.6" height="8.6" fill="#989898"/><rect x="4.0" y="398.0" width="8.6" height="8.6" fill="#c4c4c4"/><rect x="12.0" y="398.0" width="8.6" height="8.6" fill="#c4c4c4"/><rect x="20.0" y="398.0" width="8.6" height="8.6" fill="#c4c4c4"/><rect x="28.0" y="398.0" width="8.6" height="8.6" fill="#c4c4c4"/><rect x="36.0" y="398.0" width="8.6" height="8.6" fill="#989898"/><rect x="44.0" y="398.0" width="8.6" height="8.6" fill="#aaaaaa"/><rect x="52.0" y="398.0" width="8.6" height="8.6" fill="#c4c4c4"/><rect x="60.0" y="398.0" width="8.6" height="8.6" fill="#c4c4c4"/><rect x="68.0" y="398.0" width="8.6" height="8.6" fill="#aaaaaa"/><rect x="76.0" y="398.0" width="8.6" height="8.6" fill="#c4c4c4"/><rect x="84.0" y="398.0" width="8.6" height="8.6" fill="#c4c4c4"/><rect x="92.0" y="398.0" width="8.6" height="8.6" fill="#c4c4c4"/><rect x="100.0" y="398.0" width="8.6" height="8.6" fill="#c4c4c4"/><rect x="108.0" y="398.0" width="8.6" height="8.6" fill="#989898"/><rect x="116.0" y="398.0" width="8.6" height="8.6" fill="#878787"/><rect x="124.0" y="398.0" width="8.6" height="8.6" fill="#989898"/><rect x="132.0" y="398.0" width="8.6" height="8.6" fill="#3b3b3b"/><rect x="140.0" y="398.0" width="8.6" height="8.6" fill="#3b3b3b"/><rect x="148.0" y="398.0" width="8.6" height="8.6" fill="#000000"/><rect x="156.0" y="398.0" width="8.6" height="8.6" fill="#000000"/><rect x="164.0" y="398.0" width="8.6" height="8.6" fill="#878787"/><rect x="172.0" y="398.0" width="8.6" height="8.6" fill="#878787"/><rect x="180.0" y="398.0" width="8.6" height="8.6" fill="#3b3b3b"/><rect x="188.0" y="398.0" width="8.6" height="8.6" fill="#000000"/><rect x="196.0" y="398.0" width="8.6" height="8.6" fill="#676767"/><rect x="204.0" y="398.0" width="8.6" height="8.6" fill="#989898"/><rect x="212.0" y="398.0" width="8.6" height="8.6" fill="#c4c4c4"/><rect x="220.0" y="398.0" width="8.6" height="8.6" fill="#c4c4c4"/><rect x="228.0" y="398.0" width="8.6" height="8.6" fill="#c4c4c4"/><rect x="236.0" y="398.0" width="8.6" height="8.6" fill="#c4c4c4"/><rect x="244.0" y="398.0" width="8.6" height="8.6" fill="#aaaaaa"/><rect x="252.0" y="398.0" width="8.6" height="8.6" fill="#989898"/><rect x="260.0" y="398.0" width="8.6" height="8.6" fill="#989898"/><rect x="268.0" y="398.0" width="8.6" height="8.6" fill="#989898"/><rect x="4.0" y="406.0" width="8.6" height="8.6" fill="#c4c4c4"/><rect x="12.0" y="406.0" width="8.6" height="8.6" fill="#c4c4c4"/><rect x="20.0" y="406.0" width="8.6" height="8.6" fill="#c4c4c4"/><rect x="28.0" y="406.0" width="8.6" height="8.6" fill="#aaaaaa"/><rect x="36.0" y="406.0" width="8.6" height="8.6" fill="#787878"/><rect x="44.0" y="406.0" width="8.6" height="8.6" fill="#aaaaaa"/><rect x="52.0" y="406.0" width="8.6" height="8.6" fill="#c4c4c4"/><rect x="60.0" y="406.0" width="8.6" height="8.6" fill="#c4c4c4"/><rect x="68.0" y="406.0" width="8.6" height="8.6" fill="#c4c4c4"/><rect x="76.0" y="406.0" width="8.6" height="8.6" fill="#c4c4c4"/><rect x="84.0" y="406.0" width="8.6" height="8.6" fill="#c4c4c4"/><rect x="92.0" y="406.0" width="8.6" height="8.6" fill="#aaaaaa"/><rect x="100.0" y="406.0" width="8.6" height="8.6" fill="#c4c4c4"/><rect x="108.0" y="406.0" width="8.6" height="8.6" fill="#c4c4c4"/><rect x="116.0" y="406.0" width="8.6" height="8.6" fill="#aaaaaa"/><rect x="124.0" y="406.0" width="8.6" height="8.6" fill="#989898"/><rect x="132.0" y="406.0" width="8.6" height="8.6" fill="#555555"/><rect x="140.0" y="406.0" width="8.6" height="8.6" fill="#000000"/><rect x="148.0" y="406.0" width="8.6" height="8.6" fill="#000000"/><rect x="156.0" y="406.0" width="8.6" height="8.6" fill="#555555"/><rect x="164.0" y="406.0" width="8.6" height="8.6" fill="#878787"/><rect x="172.0" y="406.0" width="8.6" height="8.6" fill="#676767"/><rect x="180.0" y="406.0" width="8.6" height="8.6" fill="#676767"/><rect x="188.0" y="406.0" width="8.6" height="8.6" fill="#3b3b3b"/><rect x="196.0" y="406.0" width="8.6" height="8.6" fill="#3b3b3b"/><rect x="204.0" y="406.0" width="8.6" height="8.6" fill="#787878"/><rect x="212.0" y="406.0" width="8.6" height="8.6" fill="#989898"/><rect x="220.0" y="406.0" width="8.6" height="8.6" fill="#aaaaaa"/><rect x="228.0" y="406.0" width="8.6" height="8.6" fill="#aaaaaa"/><rect x="236.0" y="406.0" width="8.6" height="8.6" fill="#aaaaaa"/><rect x="244.0" y="406.0" width="8.6" height="8.6" fill="#aaaaaa"/><rect x="252.0" y="406.0" width="8.6" height="8.6" fill="#989898"/><rect x="260.0" y="406.0" width="8.6" height="8.6" fill="#989898"/><rect x="268.0" y="406.0" width="8.6" height="8.6" fill="#989898"/><rect x="4.0" y="414.0" width="8.6" height="8.6" fill="#aaaaaa"/><rect x="12.0" y="414.0" width="8.6" height="8.6" fill="#aaaaaa"/><rect x="20.0" y="414.0" width="8.6" height="8.6" fill="#aaaaaa"/><rect x="28.0" y="414.0" width="8.6" height="8.6" fill="#989898"/><rect x="36.0" y="414.0" width="8.6" height="8.6" fill="#676767"/><rect x="44.0" y="414.0" width="8.6" height="8.6" fill="#989898"/><rect x="52.0" y="414.0" width="8.6" height="8.6" fill="#aaaaaa"/><rect x="60.0" y="414.0" width="8.6" height="8.6" fill="#aaaaaa"/><rect x="68.0" y="414.0" width="8.6" height="8.6" fill="#aaaaaa"/><rect x="76.0" y="414.0" width="8.6" height="8.6" fill="#878787"/><rect x="84.0" y="414.0" width="8.6" height="8.6" fill="#aaaaaa"/><rect x="92.0" y="414.0" width="8.6" height="8.6" fill="#787878"/><rect x="100.0" y="414.0" width="8.6" height="8.6" fill="#878787"/><rect x="108.0" y="414.0" width="8.6" height="8.6" fill="#aaaaaa"/><rect x="116.0" y="414.0" width="8.6" height="8.6" fill="#989898"/><rect x="124.0" y="414.0" width="8.6" height="8.6" fill="#676767"/><rect x="132.0" y="414.0" width="8.6" height="8.6" fill="#000000"/><rect x="140.0" y="414.0" width="8.6" height="8.6" fill="#000000"/><rect x="148.0" y="414.0" width="8.6" height="8.6" fill="#3b3b3b"/><rect x="156.0" y="414.0" width="8.6" height="8.6" fill="#878787"/><rect x="164.0" y="414.0" width="8.6" height="8.6" fill="#878787"/><rect x="172.0" y="414.0" width="8.6" height="8.6" fill="#676767"/><rect x="180.0" y="414.0" width="8.6" height="8.6" fill="#000000"/><rect x="188.0" y="414.0" width="8.6" height="8.6" fill="#000000"/><rect x="196.0" y="414.0" width="8.6" height="8.6" fill="#000000"/><rect x="204.0" y="414.0" width="8.6" height="8.6" fill="#555555"/><rect x="212.0" y="414.0" width="8.6" height="8.6" fill="#555555"/><rect x="220.0" y="414.0" width="8.6" height="8.6" fill="#787878"/><rect x="228.0" y="414.0" width="8.6" height="8.6" fill="#878787"/><rect x="236.0" y="414.0" width="8.6" height="8.6" fill="#878787"/><rect x="244.0" y="414.0" width="8.6" height="8.6" fill="#989898"/><rect x="252.0" y="414.0" width="8.6" height="8.6" fill="#aaaaaa"/><rect x="260.0" y="414.0" width="8.6" height="8.6" fill="#aaaaaa"/><rect x="268.0" y="414.0" width="8.6" height="8.6" fill="#aaaaaa"/><rect x="4.0" y="422.0" width="8.6" height="8.6" fill="#676767"/><rect x="12.0" y="422.0" width="8.6" height="8.6" fill="#676767"/><rect x="20.0" y="422.0" width="8.6" height="8.6" fill="#676767"/><rect x="28.0" y="422.0" width="8.6" height="8.6" fill="#555555"/><rect x="36.0" y="422.0" width="8.6" height="8.6" fill="#3b3b3b"/><rect x="44.0" y="422.0" width="8.6" height="8.6" fill="#878787"/><rect x="52.0" y="422.0" width="8.6" height="8.6" fill="#878787"/><rect x="60.0" y="422.0" width="8.6" height="8.6" fill="#555555"/><rect x="68.0" y="422.0" width="8.6" height="8.6" fill="#989898"/><rect x="76.0" y="422.0" width="8.6" height="8.6" fill="#676767"/><rect x="84.0" y="422.0" width="8.6" height="8.6" fill="#878787"/><rect x="92.0" y="422.0" width="8.6" height="8.6" fill="#989898"/><rect x="100.0" y="422.0" width="8.6" height="8.6" fill="#555555"/><rect x="108.0" y="422.0" width="8.6" height="8.6" fill="#787878"/><rect x="116.0" y="422.0" width="8.6" height="8.6" fill="#787878"/><rect x="124.0" y="422.0" width="8.6" height="8.6" fill="#000000"/><rect x="132.0" y="422.0" width="8.6" height="8.6" fill="#000000"/><rect x="140.0" y="422.0" width="8.6" height="8.6" fill="#676767"/><rect x="148.0" y="422.0" width="8.6" height="8.6" fill="#676767"/><rect x="156.0" y="422.0" width="8.6" height="8.6" fill="#787878"/><rect x="164.0" y="422.0" width="8.6" height="8.6" fill="#787878"/><rect x="172.0" y="422.0" width="8.6" height="8.6" fill="#3b3b3b"/><rect x="180.0" y="422.0" width="8.6" height="8.6" fill="#000000"/><rect x="188.0" y="422.0" width="8.6" height="8.6" fill="#000000"/><rect x="196.0" y="422.0" width="8.6" height="8.6" fill="#000000"/><rect x="204.0" y="422.0" width="8.6" height="8.6" fill="#000000"/><rect x="212.0" y="422.0" width="8.6" height="8.6" fill="#555555"/><rect x="220.0" y="422.0" width="8.6" height="8.6" fill="#676767"/><rect x="228.0" y="422.0" width="8.6" height="8.6" fill="#787878"/><rect x="236.0" y="422.0" width="8.6" height="8.6" fill="#787878"/><rect x="244.0" y="422.0" width="8.6" height="8.6" fill="#878787"/><rect x="252.0" y="422.0" width="8.6" height="8.6" fill="#989898"/><rect x="260.0" y="422.0" width="8.6" height="8.6" fill="#989898"/><rect x="268.0" y="422.0" width="8.6" height="8.6" fill="#989898"/><rect x="4.0" y="430.0" width="8.6" height="8.6" fill="#878787"/><rect x="12.0" y="430.0" width="8.6" height="8.6" fill="#878787"/><rect x="20.0" y="430.0" width="8.6" height="8.6" fill="#878787"/><rect x="28.0" y="430.0" width="8.6" height="8.6" fill="#787878"/><rect x="36.0" y="430.0" width="8.6" height="8.6" fill="#3b3b3b"/><rect x="44.0" y="430.0" width="8.6" height="8.6" fill="#787878"/><rect x="52.0" y="430.0" width="8.6" height="8.6" fill="#878787"/><rect x="60.0" y="430.0" width="8.6" height="8.6" fill="#3b3b3b"/><rect x="68.0" y="430.0" width="8.6" height="8.6" fill="#878787"/><rect x="76.0" y="430.0" width="8.6" height="8.6" fill="#555555"/><rect x="84.0" y="430.0" width="8.6" height="8.6" fill="#787878"/><rect x="92.0" y="430.0" width="8.6" height="8.6" fill="#878787"/><rect x="100.0" y="430.0" width="8.6" height="8.6" fill="#878787"/><rect x="108.0" y="430.0" width="8.6" height="8.6" fill="#3b3b3b"/><rect x="116.0" y="430.0" width="8.6" height="8.6" fill="#000000"/><rect x="124.0" y="430.0" width="8.6" height="8.6" fill="#000000"/><rect x="132.0" y="430.0" width="8.6" height="8.6" fill="#3b3b3b"/><rect x="140.0" y="430.0" width="8.6" height="8.6" fill="#787878"/><rect x="148.0" y="430.0" width="8.6" height="8.6" fill="#989898"/><rect x="156.0" y="430.0" width="8.6" height="8.6" fill="#989898"/><rect x="164.0" y="430.0" width="8.6" height="8.6" fill="#787878"/><rect x="172.0" y="430.0" width="8.6" height="8.6" fill="#555555"/><rect x="180.0" y="430.0" width="8.6" height="8.6" fill="#000000"/><rect x="188.0" y="430.0" width="8.6" height="8.6" fill="#000000"/><rect x="196.0" y="430.0" width="8.6" height="8.6" fill="#3b3b3b"/><rect x="204.0" y="430.0" width="8.6" height="8.6" fill="#000000"/><rect x="212.0" y="430.0" width="8.6" height="8.6" fill="#000000"/><rect x="220.0" y="430.0" width="8.6" height="8.6" fill="#555555"/><rect x="228.0" y="430.0" width="8.6" height="8.6" fill="#878787"/><rect x="236.0" y="430.0" width="8.6" height="8.6" fill="#989898"/><rect x="244.0" y="430.0" width="8.6" height="8.6" fill="#aaaaaa"/><rect x="252.0" y="430.0" width="8.6" height="8.6" fill="#989898"/><rect x="260.0" y="430.0" width="8.6" height="8.6" fill="#989898"/><rect x="268.0" y="430.0" width="8.6" height="8.6" fill="#989898"/><rect x="4.0" y="438.0" width="8.6" height="8.6" fill="#878787"/><rect x="12.0" y="438.0" width="8.6" height="8.6" fill="#878787"/><rect x="20.0" y="438.0" width="8.6" height="8.6" fill="#878787"/><rect x="28.0" y="438.0" width="8.6" height="8.6" fill="#878787"/><rect x="36.0" y="438.0" width="8.6" height="8.6" fill="#676767"/><rect x="44.0" y="438.0" width="8.6" height="8.6" fill="#3b3b3b"/><rect x="52.0" y="438.0" width="8.6" height="8.6" fill="#676767"/><rect x="60.0" y="438.0" width="8.6" height="8.6" fill="#3b3b3b"/><rect x="68.0" y="438.0" width="8.6" height="8.6" fill="#787878"/><rect x="76.0" y="438.0" width="8.6" height="8.6" fill="#3b3b3b"/><rect x="84.0" y="438.0" width="8.6" height="8.6" fill="#3b3b3b"/><rect x="92.0" y="438.0" width="8.6" height="8.6" fill="#555555"/><rect x="100.0" y="438.0" width="8.6" height="8.6" fill="#3b3b3b"/><rect x="108.0" y="438.0" width="8.6" height="8.6" fill="#000000"/><rect x="116.0" y="438.0" width="8.6" height="8.6" fill="#000000"/><rect x="124.0" y="438.0" width="8.6" height="8.6" fill="#000000"/><rect x="132.0" y="438.0" width="8.6" height="8.6" fill="#555555"/><rect x="140.0" y="438.0" width="8.6" height="8.6" fill="#787878"/><rect x="148.0" y="438.0" width="8.6" height="8.6" fill="#989898"/><rect x="156.0" y="438.0" width="8.6" height="8.6" fill="#878787"/><rect x="164.0" y="438.0" width="8.6" height="8.6" fill="#555555"/><rect x="172.0" y="438.0" width="8.6" height="8.6" fill="#000000"/><rect x="180.0" y="438.0" width="8.6" height="8.6" fill="#000000"/><rect x="188.0" y="438.0" width="8.6" height="8.6" fill="#000000"/><rect x="196.0" y="438.0" width="8.6" height="8.6" fill="#000000"/><rect x="204.0" y="438.0" width="8.6" height="8.6" fill="#3b3b3b"/><rect x="212.0" y="438.0" width="8.6" height="8.6" fill="#3b3b3b"/><rect x="220.0" y="438.0" width="8.6" height="8.6" fill="#3b3b3b"/><rect x="228.0" y="438.0" width="8.6" height="8.6" fill="#676767"/><rect x="236.0" y="438.0" width="8.6" height="8.6" fill="#989898"/><rect x="244.0" y="438.0" width="8.6" height="8.6" fill="#989898"/><rect x="252.0" y="438.0" width="8.6" height="8.6" fill="#787878"/><rect x="260.0" y="438.0" width="8.6" height="8.6" fill="#787878"/><rect x="268.0" y="438.0" width="8.6" height="8.6" fill="#787878"/><rect x="4.0" y="446.0" width="8.6" height="8.6" fill="#878787"/><rect x="12.0" y="446.0" width="8.6" height="8.6" fill="#878787"/><rect x="20.0" y="446.0" width="8.6" height="8.6" fill="#878787"/><rect x="28.0" y="446.0" width="8.6" height="8.6" fill="#787878"/><rect x="36.0" y="446.0" width="8.6" height="8.6" fill="#676767"/><rect x="44.0" y="446.0" width="8.6" height="8.6" fill="#3b3b3b"/><rect x="52.0" y="446.0" width="8.6" height="8.6" fill="#3b3b3b"/><rect x="60.0" y="446.0" width="8.6" height="8.6" fill="#3b3b3b"/><rect x="68.0" y="446.0" width="8.6" height="8.6" fill="#555555"/><rect x="76.0" y="446.0" width="8.6" height="8.6" fill="#000000"/><rect x="84.0" y="446.0" width="8.6" height="8.6" fill="#000000"/><rect x="92.0" y="446.0" width="8.6" height="8.6" fill="#3b3b3b"/><rect x="100.0" y="446.0" width="8.6" height="8.6" fill="#000000"/><rect x="108.0" y="446.0" width="8.6" height="8.6" fill="#3b3b3b"/><rect x="116.0" y="446.0" width="8.6" height="8.6" fill="#787878"/><rect x="124.0" y="446.0" width="8.6" height="8.6" fill="#787878"/><rect x="132.0" y="446.0" width="8.6" height="8.6" fill="#878787"/><rect x="140.0" y="446.0" width="8.6" height="8.6" fill="#989898"/><rect x="148.0" y="446.0" width="8.6" height="8.6" fill="#989898"/><rect x="156.0" y="446.0" width="8.6" height="8.6" fill="#787878"/><rect x="164.0" y="446.0" width="8.6" height="8.6" fill="#3b3b3b"/><rect x="172.0" y="446.0" width="8.6" height="8.6" fill="#000000"/><rect x="180.0" y="446.0" width="8.6" height="8.6" fill="#000000"/><rect x="188.0" y="446.0" width="8.6" height="8.6" fill="#000000"/><rect x="196.0" y="446.0" width="8.6" height="8.6" fill="#3b3b3b"/><rect x="204.0" y="446.0" width="8.6" height="8.6" fill="#000000"/><rect x="212.0" y="446.0" width="8.6" height="8.6" fill="#3b3b3b"/><rect x="220.0" y="446.0" width="8.6" height="8.6" fill="#3b3b3b"/><rect x="228.0" y="446.0" width="8.6" height="8.6" fill="#000000"/><rect x="236.0" y="446.0" width="8.6" height="8.6" fill="#3b3b3b"/><rect x="244.0" y="446.0" width="8.6" height="8.6" fill="#555555"/><rect x="252.0" y="446.0" width="8.6" height="8.6" fill="#676767"/><rect x="260.0" y="446.0" width="8.6" height="8.6" fill="#676767"/><rect x="268.0" y="446.0" width="8.6" height="8.6" fill="#676767"/><rect x="4.0" y="454.0" width="8.6" height="8.6" fill="#787878"/><rect x="12.0" y="454.0" width="8.6" height="8.6" fill="#787878"/><rect x="20.0" y="454.0" width="8.6" height="8.6" fill="#787878"/><rect x="28.0" y="454.0" width="8.6" height="8.6" fill="#555555"/><rect x="36.0" y="454.0" width="8.6" height="8.6" fill="#878787"/><rect x="44.0" y="454.0" width="8.6" height="8.6" fill="#787878"/><rect x="52.0" y="454.0" width="8.6" height="8.6" fill="#555555"/><rect x="60.0" y="454.0" width="8.6" height="8.6" fill="#3b3b3b"/><rect x="68.0" y="454.0" width="8.6" height="8.6" fill="#676767"/><rect x="76.0" y="454.0" width="8.6" height="8.6" fill="#676767"/><rect x="84.0" y="454.0" width="8.6" height="8.6" fill="#3b3b3b"/><rect x="92.0" y="454.0" width="8.6" height="8.6" fill="#3b3b3b"/><rect x="100.0" y="454.0" width="8.6" height="8.6" fill="#787878"/><rect x="108.0" y="454.0" width="8.6" height="8.6" fill="#878787"/><rect x="116.0" y="454.0" width="8.6" height="8.6" fill="#989898"/><rect x="124.0" y="454.0" width="8.6" height="8.6" fill="#878787"/><rect x="132.0" y="454.0" width="8.6" height="8.6" fill="#989898"/><rect x="140.0" y="454.0" width="8.6" height="8.6" fill="#676767"/><rect x="148.0" y="454.0" width="8.6" height="8.6" fill="#3b3b3b"/><rect x="156.0" y="454.0" width="8.6" height="8.6" fill="#000000"/><rect x="164.0" y="454.0" width="8.6" height="8.6" fill="#000000"/><rect x="172.0" y="454.0" width="8.6" height="8.6" fill="#000000"/><rect x="180.0" y="454.0" width="8.6" height="8.6" fill="#000000"/><rect x="188.0" y="454.0" width="8.6" height="8.6" fill="#000000"/><rect x="196.0" y="454.0" width="8.6" height="8.6" fill="#000000"/><rect x="204.0" y="454.0" width="8.6" height="8.6" fill="#000000"/><rect x="212.0" y="454.0" width="8.6" height="8.6" fill="#000000"/><rect x="220.0" y="454.0" width="8.6" height="8.6" fill="#000000"/><rect x="228.0" y="454.0" width="8.6" height="8.6" fill="#3b3b3b"/><rect x="236.0" y="454.0" width="8.6" height="8.6" fill="#3b3b3b"/><rect x="244.0" y="454.0" width="8.6" height="8.6" fill="#000000"/><rect x="252.0" y="454.0" width="8.6" height="8.6" fill="#3b3b3b"/><rect x="260.0" y="454.0" width="8.6" height="8.6" fill="#3b3b3b"/><rect x="268.0" y="454.0" width="8.6" height="8.6" fill="#3b3b3b"/><rect x="4.0" y="462.0" width="8.6" height="8.6" fill="#3b3b3b"/><rect x="12.0" y="462.0" width="8.6" height="8.6" fill="#3b3b3b"/><rect x="20.0" y="462.0" width="8.6" height="8.6" fill="#3b3b3b"/><rect x="28.0" y="462.0" width="8.6" height="8.6" fill="#676767"/><rect x="36.0" y="462.0" width="8.6" height="8.6" fill="#787878"/><rect x="44.0" y="462.0" width="8.6" height="8.6" fill="#676767"/><rect x="52.0" y="462.0" width="8.6" height="8.6" fill="#555555"/><rect x="60.0" y="462.0" width="8.6" height="8.6" fill="#3b3b3b"/><rect x="68.0" y="462.0" width="8.6" height="8.6" fill="#676767"/><rect x="76.0" y="462.0" width="8.6" height="8.6" fill="#555555"/><rect x="84.0" y="462.0" width="8.6" height="8.6" fill="#555555"/><rect x="92.0" y="462.0" width="8.6" height="8.6" fill="#3b3b3b"/><rect x="100.0" y="462.0" width="8.6" height="8.6" fill="#676767"/><rect x="108.0" y="462.0" width="8.6" height="8.6" fill="#3b3b3b"/><rect x="116.0" y="462.0" width="8.6" height="8.6" fill="#555555"/><rect x="124.0" y="462.0" width="8.6" height="8.6" fill="#555555"/><rect x="132.0" y="462.0" width="8.6" height="8.6" fill="#555555"/><rect x="140.0" y="462.0" width="8.6" height="8.6" fill="#3b3b3b"/><rect x="148.0" y="462.0" width="8.6" height="8.6" fill="#3b3b3b"/><rect x="156.0" y="462.0" width="8.6" height="8.6" fill="#3b3b3b"/><rect x="164.0" y="462.0" width="8.6" height="8.6" fill="#3b3b3b"/><rect x="172.0" y="462.0" width="8.6" height="8.6" fill="#676767"/><rect x="180.0" y="462.0" width="8.6" height="8.6" fill="#3b3b3b"/><rect x="188.0" y="462.0" width="8.6" height="8.6" fill="#000000"/><rect x="196.0" y="462.0" width="8.6" height="8.6" fill="#000000"/><rect x="204.0" y="462.0" width="8.6" height="8.6" fill="#000000"/><rect x="212.0" y="462.0" width="8.6" height="8.6" fill="#000000"/><rect x="220.0" y="462.0" width="8.6" height="8.6" fill="#3b3b3b"/><rect x="228.0" y="462.0" width="8.6" height="8.6" fill="#555555"/><rect x="236.0" y="462.0" width="8.6" height="8.6" fill="#787878"/><rect x="244.0" y="462.0" width="8.6" height="8.6" fill="#676767"/><rect x="252.0" y="462.0" width="8.6" height="8.6" fill="#555555"/><rect x="260.0" y="462.0" width="8.6" height="8.6" fill="#555555"/><rect x="268.0" y="462.0" width="8.6" height="8.6" fill="#555555"/><rect x="4.0" y="470.0" width="8.6" height="8.6" fill="#000000"/><rect x="12.0" y="470.0" width="8.6" height="8.6" fill="#000000"/><rect x="20.0" y="470.0" width="8.6" height="8.6" fill="#000000"/><rect x="28.0" y="470.0" width="8.6" height="8.6" fill="#555555"/><rect x="36.0" y="470.0" width="8.6" height="8.6" fill="#555555"/><rect x="44.0" y="470.0" width="8.6" height="8.6" fill="#676767"/><rect x="52.0" y="470.0" width="8.6" height="8.6" fill="#555555"/><rect x="60.0" y="470.0" width="8.6" height="8.6" fill="#555555"/><rect x="68.0" y="470.0" width="8.6" height="8.6" fill="#555555"/><rect x="76.0" y="470.0" width="8.6" height="8.6" fill="#676767"/><rect x="84.0" y="470.0" width="8.6" height="8.6" fill="#787878"/><rect x="92.0" y="470.0" width="8.6" height="8.6" fill="#676767"/><rect x="100.0" y="470.0" width="8.6" height="8.6" fill="#878787"/><rect x="108.0" y="470.0" width="8.6" height="8.6" fill="#676767"/><rect x="116.0" y="470.0" width="8.6" height="8.6" fill="#787878"/><rect x="124.0" y="470.0" width="8.6" height="8.6" fill="#787878"/><rect x="132.0" y="470.0" width="8.6" height="8.6" fill="#676767"/><rect x="140.0" y="470.0" width="8.6" height="8.6" fill="#555555"/><rect x="148.0" y="470.0" width="8.6" height="8.6" fill="#676767"/><rect x="156.0" y="470.0" width="8.6" height="8.6" fill="#787878"/><rect x="164.0" y="470.0" width="8.6" height="8.6" fill="#787878"/><rect x="172.0" y="470.0" width="8.6" height="8.6" fill="#878787"/><rect x="180.0" y="470.0" width="8.6" height="8.6" fill="#000000"/><rect x="188.0" y="470.0" width="8.6" height="8.6" fill="#3b3b3b"/><rect x="196.0" y="470.0" width="8.6" height="8.6" fill="#555555"/><rect x="204.0" y="470.0" width="8.6" height="8.6" fill="#3b3b3b"/><rect x="212.0" y="470.0" width="8.6" height="8.6" fill="#000000"/><rect x="220.0" y="470.0" width="8.6" height="8.6" fill="#676767"/><rect x="228.0" y="470.0" width="8.6" height="8.6" fill="#787878"/><rect x="236.0" y="470.0" width="8.6" height="8.6" fill="#787878"/><rect x="244.0" y="470.0" width="8.6" height="8.6" fill="#676767"/><rect x="252.0" y="470.0" width="8.6" height="8.6" fill="#878787"/><rect x="260.0" y="470.0" width="8.6" height="8.6" fill="#878787"/><rect x="268.0" y="470.0" width="8.6" height="8.6" fill="#878787"/><rect x="4.0" y="478.0" width="8.6" height="8.6" fill="#000000"/><rect x="12.0" y="478.0" width="8.6" height="8.6" fill="#000000"/><rect x="20.0" y="478.0" width="8.6" height="8.6" fill="#000000"/><rect x="28.0" y="478.0" width="8.6" height="8.6" fill="#000000"/><rect x="36.0" y="478.0" width="8.6" height="8.6" fill="#3b3b3b"/><rect x="44.0" y="478.0" width="8.6" height="8.6" fill="#3b3b3b"/><rect x="52.0" y="478.0" width="8.6" height="8.6" fill="#676767"/><rect x="60.0" y="478.0" width="8.6" height="8.6" fill="#555555"/><rect x="68.0" y="478.0" width="8.6" height="8.6" fill="#676767"/><rect x="76.0" y="478.0" width="8.6" height="8.6" fill="#787878"/><rect x="84.0" y="478.0" width="8.6" height="8.6" fill="#787878"/><rect x="92.0" y="478.0" width="8.6" height="8.6" fill="#878787"/><rect x="100.0" y="478.0" width="8.6" height="8.6" fill="#aaaaaa"/><rect x="108.0" y="478.0" width="8.6" height="8.6" fill="#989898"/><rect x="116.0" y="478.0" width="8.6" height="8.6" fill="#878787"/><rect x="124.0" y="478.0" width="8.6" height="8.6" fill="#989898"/><rect x="132.0" y="478.0" width="8.6" height="8.6" fill="#878787"/><rect x="140.0" y="478.0" width="8.6" height="8.6" fill="#787878"/><rect x="148.0" y="478.0" width="8.6" height="8.6" fill="#989898"/><rect x="156.0" y="478.0" width="8.6" height="8.6" fill="#989898"/><rect x="164.0" y="478.0" width="8.6" height="8.6" fill="#787878"/><rect x="172.0" y="478.0" width="8.6" height="8.6" fill="#787878"/><rect x="180.0" y="478.0" width="8.6" height="8.6" fill="#3b3b3b"/><rect x="188.0" y="478.0" width="8.6" height="8.6" fill="#787878"/><rect x="196.0" y="478.0" width="8.6" height="8.6" fill="#878787"/><rect x="204.0" y="478.0" width="8.6" height="8.6" fill="#676767"/><rect x="212.0" y="478.0" width="8.6" height="8.6" fill="#000000"/><rect x="220.0" y="478.0" width="8.6" height="8.6" fill="#676767"/><rect x="228.0" y="478.0" width="8.6" height="8.6" fill="#787878"/><rect x="236.0" y="478.0" width="8.6" height="8.6" fill="#787878"/><rect x="244.0" y="478.0" width="8.6" height="8.6" fill="#878787"/><rect x="252.0" y="478.0" width="8.6" height="8.6" fill="#878787"/><rect x="260.0" y="478.0" width="8.6" height="8.6" fill="#878787"/><rect x="268.0" y="478.0" width="8.6" height="8.6" fill="#878787"/><rect x="4.0" y="486.0" width="8.6" height="8.6" fill="#000000"/><rect x="12.0" y="486.0" width="8.6" height="8.6" fill="#000000"/><rect x="20.0" y="486.0" width="8.6" height="8.6" fill="#000000"/><rect x="28.0" y="486.0" width="8.6" height="8.6" fill="#000000"/><rect x="36.0" y="486.0" width="8.6" height="8.6" fill="#000000"/><rect x="44.0" y="486.0" width="8.6" height="8.6" fill="#000000"/><rect x="52.0" y="486.0" width="8.6" height="8.6" fill="#3b3b3b"/><rect x="60.0" y="486.0" width="8.6" height="8.6" fill="#3b3b3b"/><rect x="68.0" y="486.0" width="8.6" height="8.6" fill="#555555"/><rect x="76.0" y="486.0" width="8.6" height="8.6" fill="#555555"/><rect x="84.0" y="486.0" width="8.6" height="8.6" fill="#3b3b3b"/><rect x="92.0" y="486.0" width="8.6" height="8.6" fill="#676767"/><rect x="100.0" y="486.0" width="8.6" height="8.6" fill="#878787"/><rect x="108.0" y="486.0" width="8.6" height="8.6" fill="#989898"/><rect x="116.0" y="486.0" width="8.6" height="8.6" fill="#989898"/><rect x="124.0" y="486.0" width="8.6" height="8.6" fill="#989898"/><rect x="132.0" y="486.0" width="8.6" height="8.6" fill="#878787"/><rect x="140.0" y="486.0" width="8.6" height="8.6" fill="#989898"/><rect x="148.0" y="486.0" width="8.6" height="8.6" fill="#878787"/><rect x="156.0" y="486.0" width="8.6" height="8.6" fill="#787878"/><rect x="164.0" y="486.0" width="8.6" height="8.6" fill="#676767"/><rect x="172.0" y="486.0" width="8.6" height="8.6" fill="#787878"/><rect x="180.0" y="486.0" width="8.6" height="8.6" fill="#787878"/><rect x="188.0" y="486.0" width="8.6" height="8.6" fill="#878787"/><rect x="196.0" y="486.0" width="8.6" height="8.6" fill="#787878"/><rect x="204.0" y="486.0" width="8.6" height="8.6" fill="#555555"/><rect x="212.0" y="486.0" width="8.6" height="8.6" fill="#000000"/><rect x="220.0" y="486.0" width="8.6" height="8.6" fill="#000000"/><rect x="228.0" y="486.0" width="8.6" height="8.6" fill="#3b3b3b"/><rect x="236.0" y="486.0" width="8.6" height="8.6" fill="#676767"/><rect x="244.0" y="486.0" width="8.6" height="8.6" fill="#787878"/><rect x="252.0" y="486.0" width="8.6" height="8.6" fill="#676767"/><rect x="260.0" y="486.0" width="8.6" height="8.6" fill="#676767"/><rect x="268.0" y="486.0" width="8.6" height="8.6" fill="#676767"/><rect x="4.0" y="494.0" width="8.6" height="8.6" fill="#000000"/><rect x="12.0" y="494.0" width="8.6" height="8.6" fill="#000000"/><rect x="20.0" y="494.0" width="8.6" height="8.6" fill="#000000"/><rect x="28.0" y="494.0" width="8.6" height="8.6" fill="#000000"/><rect x="36.0" y="494.0" width="8.6" height="8.6" fill="#000000"/><rect x="44.0" y="494.0" width="8.6" height="8.6" fill="#3b3b3b"/><rect x="52.0" y="494.0" width="8.6" height="8.6" fill="#555555"/><rect x="60.0" y="494.0" width="8.6" height="8.6" fill="#676767"/><rect x="68.0" y="494.0" width="8.6" height="8.6" fill="#555555"/><rect x="76.0" y="494.0" width="8.6" height="8.6" fill="#3b3b3b"/><rect x="84.0" y="494.0" width="8.6" height="8.6" fill="#3b3b3b"/><rect x="92.0" y="494.0" width="8.6" height="8.6" fill="#555555"/><rect x="100.0" y="494.0" width="8.6" height="8.6" fill="#787878"/><rect x="108.0" y="494.0" width="8.6" height="8.6" fill="#787878"/><rect x="116.0" y="494.0" width="8.6" height="8.6" fill="#878787"/><rect x="124.0" y="494.0" width="8.6" height="8.6" fill="#787878"/><rect x="132.0" y="494.0" width="8.6" height="8.6" fill="#787878"/><rect x="140.0" y="494.0" width="8.6" height="8.6" fill="#878787"/><rect x="148.0" y="494.0" width="8.6" height="8.6" fill="#878787"/><rect x="156.0" y="494.0" width="8.6" height="8.6" fill="#787878"/><rect x="164.0" y="494.0" width="8.6" height="8.6" fill="#676767"/><rect x="172.0" y="494.0" width="8.6" height="8.6" fill="#787878"/><rect x="180.0" y="494.0" width="8.6" height="8.6" fill="#676767"/><rect x="188.0" y="494.0" width="8.6" height="8.6" fill="#787878"/><rect x="196.0" y="494.0" width="8.6" height="8.6" fill="#676767"/><rect x="204.0" y="494.0" width="8.6" height="8.6" fill="#555555"/><rect x="212.0" y="494.0" width="8.6" height="8.6" fill="#555555"/><rect x="220.0" y="494.0" width="8.6" height="8.6" fill="#555555"/><rect x="228.0" y="494.0" width="8.6" height="8.6" fill="#555555"/><rect x="236.0" y="494.0" width="8.6" height="8.6" fill="#3b3b3b"/><rect x="244.0" y="494.0" width="8.6" height="8.6" fill="#555555"/><rect x="252.0" y="494.0" width="8.6" height="8.6" fill="#555555"/><rect x="260.0" y="494.0" width="8.6" height="8.6" fill="#555555"/><rect x="268.0" y="494.0" width="8.6" height="8.6" fill="#555555"/><rect x="4.0" y="502.0" width="8.6" height="8.6" fill="#000000"/><rect x="12.0" y="502.0" width="8.6" height="8.6" fill="#000000"/><rect x="20.0" y="502.0" width="8.6" height="8.6" fill="#000000"/><rect x="28.0" y="502.0" width="8.6" height="8.6" fill="#000000"/><rect x="36.0" y="502.0" width="8.6" height="8.6" fill="#000000"/><rect x="44.0" y="502.0" width="8.6" height="8.6" fill="#000000"/><rect x="52.0" y="502.0" width="8.6" height="8.6" fill="#000000"/><rect x="60.0" y="502.0" width="8.6" height="8.6" fill="#000000"/><rect x="68.0" y="502.0" width="8.6" height="8.6" fill="#000000"/><rect x="76.0" y="502.0" width="8.6" height="8.6" fill="#3b3b3b"/><rect x="84.0" y="502.0" width="8.6" height="8.6" fill="#676767"/><rect x="92.0" y="502.0" width="8.6" height="8.6" fill="#676767"/><rect x="100.0" y="502.0" width="8.6" height="8.6" fill="#787878"/><rect x="108.0" y="502.0" width="8.6" height="8.6" fill="#787878"/><rect x="116.0" y="502.0" width="8.6" height="8.6" fill="#787878"/><rect x="124.0" y="502.0" width="8.6" height="8.6" fill="#555555"/><rect x="132.0" y="502.0" width="8.6" height="8.6" fill="#555555"/><rect x="140.0" y="502.0" width="8.6" height="8.6" fill="#3b3b3b"/><rect x="148.0" y="502.0" width="8.6" height="8.6" fill="#3b3b3b"/><rect x="156.0" y="502.0" width="8.6" height="8.6" fill="#3b3b3b"/><rect x="164.0" y="502.0" width="8.6" height="8.6" fill="#3b3b3b"/><rect x="172.0" y="502.0" width="8.6" height="8.6" fill="#3b3b3b"/><rect x="180.0" y="502.0" width="8.6" height="8.6" fill="#555555"/><rect x="188.0" y="502.0" width="8.6" height="8.6" fill="#676767"/><rect x="196.0" y="502.0" width="8.6" height="8.6" fill="#676767"/><rect x="204.0" y="502.0" width="8.6" height="8.6" fill="#555555"/><rect x="212.0" y="502.0" width="8.6" height="8.6" fill="#676767"/><rect x="220.0" y="502.0" width="8.6" height="8.6" fill="#3b3b3b"/><rect x="228.0" y="502.0" width="8.6" height="8.6" fill="#676767"/><rect x="236.0" y="502.0" width="8.6" height="8.6" fill="#3b3b3b"/><rect x="244.0" y="502.0" width="8.6" height="8.6" fill="#3b3b3b"/><rect x="252.0" y="502.0" width="8.6" height="8.6" fill="#3b3b3b"/><rect x="260.0" y="502.0" width="8.6" height="8.6" fill="#3b3b3b"/><rect x="268.0" y="502.0" width="8.6" height="8.6" fill="#3b3b3b"/><rect x="4.0" y="510.0" width="8.6" height="8.6" fill="#000000"/><rect x="12.0" y="510.0" width="8.6" height="8.6" fill="#000000"/><rect x="20.0" y="510.0" width="8.6" height="8.6" fill="#000000"/><rect x="28.0" y="510.0" width="8.6" height="8.6" fill="#000000"/><rect x="36.0" y="510.0" width="8.6" height="8.6" fill="#000000"/><rect x="44.0" y="510.0" width="8.6" height="8.6" fill="#000000"/><rect x="52.0" y="510.0" width="8.6" height="8.6" fill="#000000"/><rect x="60.0" y="510.0" width="8.6" height="8.6" fill="#000000"/><rect x="68.0" y="510.0" width="8.6" height="8.6" fill="#000000"/><rect x="76.0" y="510.0" width="8.6" height="8.6" fill="#000000"/><rect x="84.0" y="510.0" width="8.6" height="8.6" fill="#000000"/><rect x="92.0" y="510.0" width="8.6" height="8.6" fill="#000000"/><rect x="100.0" y="510.0" width="8.6" height="8.6" fill="#000000"/><rect x="108.0" y="510.0" width="8.6" height="8.6" fill="#000000"/><rect x="116.0" y="510.0" width="8.6" height="8.6" fill="#3b3b3b"/><rect x="124.0" y="510.0" width="8.6" height="8.6" fill="#000000"/><rect x="132.0" y="510.0" width="8.6" height="8.6" fill="#000000"/><rect x="140.0" y="510.0" width="8.6" height="8.6" fill="#000000"/><rect x="148.0" y="510.0" width="8.6" height="8.6" fill="#3b3b3b"/><rect x="156.0" y="510.0" width="8.6" height="8.6" fill="#3b3b3b"/><rect x="164.0" y="510.0" width="8.6" height="8.6" fill="#555555"/><rect x="172.0" y="510.0" width="8.6" height="8.6" fill="#3b3b3b"/><rect x="180.0" y="510.0" width="8.6" height="8.6" fill="#3b3b3b"/><rect x="188.0" y="510.0" width="8.6" height="8.6" fill="#3b3b3b"/><rect x="196.0" y="510.0" width="8.6" height="8.6" fill="#3b3b3b"/><rect x="204.0" y="510.0" width="8.6" height="8.6" fill="#3b3b3b"/><rect x="212.0" y="510.0" width="8.6" height="8.6" fill="#3b3b3b"/><rect x="220.0" y="510.0" width="8.6" height="8.6" fill="#3b3b3b"/><rect x="228.0" y="510.0" width="8.6" height="8.6" fill="#3b3b3b"/><rect x="236.0" y="510.0" width="8.6" height="8.6" fill="#000000"/><rect x="244.0" y="510.0" width="8.6" height="8.6" fill="#3b3b3b"/><rect x="252.0" y="510.0" width="8.6" height="8.6" fill="#3b3b3b"/><rect x="260.0" y="510.0" width="8.6" height="8.6" fill="#3b3b3b"/><rect x="268.0" y="510.0" width="8.6" height="8.6" fill="#3b3b3b"/><rect x="4.0" y="518.0" width="8.6" height="8.6" fill="#000000"/><rect x="12.0" y="518.0" width="8.6" height="8.6" fill="#000000"/><rect x="20.0" y="518.0" width="8.6" height="8.6" fill="#000000"/><rect x="28.0" y="518.0" width="8.6" height="8.6" fill="#000000"/><rect x="36.0" y="518.0" width="8.6" height="8.6" fill="#000000"/><rect x="44.0" y="518.0" width="8.6" height="8.6" fill="#000000"/><rect x="52.0" y="518.0" width="8.6" height="8.6" fill="#000000"/><rect x="60.0" y="518.0" width="8.6" height="8.6" fill="#000000"/><rect x="68.0" y="518.0" width="8.6" height="8.6" fill="#000000"/><rect x="76.0" y="518.0" width="8.6" height="8.6" fill="#000000"/><rect x="84.0" y="518.0" width="8.6" height="8.6" fill="#000000"/><rect x="92.0" y="518.0" width="8.6" height="8.6" fill="#000000"/><rect x="100.0" y="518.0" width="8.6" height="8.6" fill="#000000"/><rect x="108.0" y="518.0" width="8.6" height="8.6" fill="#000000"/><rect x="116.0" y="518.0" width="8.6" height="8.6" fill="#000000"/><rect x="124.0" y="518.0" width="8.6" height="8.6" fill="#000000"/><rect x="132.0" y="518.0" width="8.6" height="8.6" fill="#000000"/><rect x="140.0" y="518.0" width="8.6" height="8.6" fill="#000000"/><rect x="148.0" y="518.0" width="8.6" height="8.6" fill="#000000"/><rect x="156.0" y="518.0" width="8.6" height="8.6" fill="#000000"/><rect x="164.0" y="518.0" width="8.6" height="8.6" fill="#000000"/><rect x="172.0" y="518.0" width="8.6" height="8.6" fill="#000000"/><rect x="180.0" y="518.0" width="8.6" height="8.6" fill="#000000"/><rect x="188.0" y="518.0" width="8.6" height="8.6" fill="#3b3b3b"/><rect x="196.0" y="518.0" width="8.6" height="8.6" fill="#3b3b3b"/><rect x="204.0" y="518.0" width="8.6" height="8.6" fill="#555555"/><rect x="212.0" y="518.0" width="8.6" height="8.6" fill="#3b3b3b"/><rect x="220.0" y="518.0" width="8.6" height="8.6" fill="#000000"/><rect x="228.0" y="518.0" width="8.6" height="8.6" fill="#000000"/><rect x="236.0" y="518.0" width="8.6" height="8.6" fill="#000000"/><rect x="244.0" y="518.0" width="8.6" height="8.6" fill="#000000"/><rect x="252.0" y="518.0" width="8.6" height="8.6" fill="#000000"/><rect x="260.0" y="518.0" width="8.6" height="8.6" fill="#000000"/><rect x="268.0" y="518.0" width="8.6" height="8.6" fill="#000000"/><rect x="4.0" y="526.0" width="8.6" height="8.6" fill="#000000"/><rect x="12.0" y="526.0" width="8.6" height="8.6" fill="#000000"/><rect x="20.0" y="526.0" width="8.6" height="8.6" fill="#000000"/><rect x="28.0" y="526.0" width="8.6" height="8.6" fill="#000000"/><rect x="36.0" y="526.0" width="8.6" height="8.6" fill="#000000"/><rect x="44.0" y="526.0" width="8.6" height="8.6" fill="#000000"/><rect x="52.0" y="526.0" width="8.6" height="8.6" fill="#000000"/><rect x="60.0" y="526.0" width="8.6" height="8.6" fill="#000000"/><rect x="68.0" y="526.0" width="8.6" height="8.6" fill="#000000"/><rect x="76.0" y="526.0" width="8.6" height="8.6" fill="#000000"/><rect x="84.0" y="526.0" width="8.6" height="8.6" fill="#000000"/><rect x="92.0" y="526.0" width="8.6" height="8.6" fill="#000000"/><rect x="100.0" y="526.0" width="8.6" height="8.6" fill="#000000"/><rect x="108.0" y="526.0" width="8.6" height="8.6" fill="#000000"/><rect x="116.0" y="526.0" width="8.6" height="8.6" fill="#000000"/><rect x="124.0" y="526.0" width="8.6" height="8.6" fill="#000000"/><rect x="132.0" y="526.0" width="8.6" height="8.6" fill="#000000"/><rect x="140.0" y="526.0" width="8.6" height="8.6" fill="#000000"/><rect x="148.0" y="526.0" width="8.6" height="8.6" fill="#000000"/><rect x="156.0" y="526.0" width="8.6" height="8.6" fill="#000000"/><rect x="164.0" y="526.0" width="8.6" height="8.6" fill="#000000"/><rect x="172.0" y="526.0" width="8.6" height="8.6" fill="#000000"/><rect x="180.0" y="526.0" width="8.6" height="8.6" fill="#000000"/><rect x="188.0" y="526.0" width="8.6" height="8.6" fill="#000000"/><rect x="196.0" y="526.0" width="8.6" height="8.6" fill="#000000"/><rect x="204.0" y="526.0" width="8.6" height="8.6" fill="#000000"/><rect x="212.0" y="526.0" width="8.6" height="8.6" fill="#000000"/><rect x="220.0" y="526.0" width="8.6" height="8.6" fill="#000000"/><rect x="228.0" y="526.0" width="8.6" height="8.6" fill="#000000"/><rect x="236.0" y="526.0" width="8.6" height="8.6" fill="#000000"/><rect x="244.0" y="526.0" width="8.6" height="8.6" fill="#000000"/><rect x="252.0" y="526.0" width="8.6" height="8.6" fill="#000000"/><rect x="260.0" y="526.0" width="8.6" height="8.6" fill="#000000"/><rect x="268.0" y="526.0" width="8.6" height="8.6" fill="#000000"/><rect x="4.0" y="534.0" width="8.6" height="8.6" fill="#000000"/><rect x="12.0" y="534.0" width="8.6" height="8.6" fill="#000000"/><rect x="20.0" y="534.0" width="8.6" height="8.6" fill="#000000"/><rect x="28.0" y="534.0" width="8.6" height="8.6" fill="#000000"/><rect x="36.0" y="534.0" width="8.6" height="8.6" fill="#000000"/><rect x="44.0" y="534.0" width="8.6" height="8.6" fill="#000000"/><rect x="52.0" y="534.0" width="8.6" height="8.6" fill="#000000"/><rect x="60.0" y="534.0" width="8.6" height="8.6" fill="#000000"/><rect x="68.0" y="534.0" width="8.6" height="8.6" fill="#000000"/><rect x="76.0" y="534.0" width="8.6" height="8.6" fill="#000000"/><rect x="84.0" y="534.0" width="8.6" height="8.6" fill="#000000"/><rect x="92.0" y="534.0" width="8.6" height="8.6" fill="#000000"/><rect x="100.0" y="534.0" width="8.6" height="8.6" fill="#000000"/><rect x="108.0" y="534.0" width="8.6" height="8.6" fill="#000000"/><rect x="116.0" y="534.0" width="8.6" height="8.6" fill="#000000"/><rect x="124.0" y="534.0" width="8.6" height="8.6" fill="#000000"/><rect x="132.0" y="534.0" width="8.6" height="8.6" fill="#000000"/><rect x="140.0" y="534.0" width="8.6" height="8.6" fill="#000000"/><rect x="148.0" y="534.0" width="8.6" height="8.6" fill="#000000"/><rect x="156.0" y="534.0" width="8.6" height="8.6" fill="#000000"/><rect x="164.0" y="534.0" width="8.6" height="8.6" fill="#000000"/><rect x="172.0" y="534.0" width="8.6" height="8.6" fill="#000000"/><rect x="180.0" y="534.0" width="8.6" height="8.6" fill="#000000"/><rect x="188.0" y="534.0" width="8.6" height="8.6" fill="#000000"/><rect x="196.0" y="534.0" width="8.6" height="8.6" fill="#000000"/><rect x="204.0" y="534.0" width="8.6" height="8.6" fill="#000000"/><rect x="212.0" y="534.0" width="8.6" height="8.6" fill="#000000"/><rect x="220.0" y="534.0" width="8.6" height="8.6" fill="#000000"/><rect x="228.0" y="534.0" width="8.6" height="8.6" fill="#000000"/><rect x="236.0" y="534.0" width="8.6" height="8.6" fill="#000000"/><rect x="244.0" y="534.0" width="8.6" height="8.6" fill="#000000"/><rect x="252.0" y="534.0" width="8.6" height="8.6" fill="#000000"/><rect x="260.0" y="534.0" width="8.6" height="8.6" fill="#000000"/><rect x="268.0" y="534.0" width="8.6" height="8.6" fill="#000000"/><rect x="4.0" y="542.0" width="8.6" height="8.6" fill="#000000"/><rect x="12.0" y="542.0" width="8.6" height="8.6" fill="#000000"/><rect x="20.0" y="542.0" width="8.6" height="8.6" fill="#000000"/><rect x="28.0" y="542.0" width="8.6" height="8.6" fill="#000000"/><rect x="36.0" y="542.0" width="8.6" height="8.6" fill="#000000"/><rect x="44.0" y="542.0" width="8.6" height="8.6" fill="#000000"/><rect x="52.0" y="542.0" width="8.6" height="8.6" fill="#000000"/><rect x="60.0" y="542.0" width="8.6" height="8.6" fill="#000000"/><rect x="68.0" y="542.0" width="8.6" height="8.6" fill="#000000"/><rect x="76.0" y="542.0" width="8.6" height="8.6" fill="#000000"/><rect x="84.0" y="542.0" width="8.6" height="8.6" fill="#000000"/><rect x="92.0" y="542.0" width="8.6" height="8.6" fill="#000000"/><rect x="100.0" y="542.0" width="8.6" height="8.6" fill="#000000"/><rect x="108.0" y="542.0" width="8.6" height="8.6" fill="#000000"/><rect x="116.0" y="542.0" width="8.6" height="8.6" fill="#000000"/><rect x="124.0" y="542.0" width="8.6" height="8.6" fill="#000000"/><rect x="132.0" y="542.0" width="8.6" height="8.6" fill="#000000"/><rect x="140.0" y="542.0" width="8.6" height="8.6" fill="#000000"/><rect x="148.0" y="542.0" width="8.6" height="8.6" fill="#000000"/><rect x="156.0" y="542.0" width="8.6" height="8.6" fill="#000000"/><rect x="164.0" y="542.0" width="8.6" height="8.6" fill="#000000"/><rect x="172.0" y="542.0" width="8.6" height="8.6" fill="#000000"/><rect x="180.0" y="542.0" width="8.6" height="8.6" fill="#000000"/><rect x="188.0" y="542.0" width="8.6" height="8.6" fill="#000000"/><rect x="196.0" y="542.0" width="8.6" height="8.6" fill="#000000"/><rect x="204.0" y="542.0" width="8.6" height="8.6" fill="#000000"/><rect x="212.0" y="542.0" width="8.6" height="8.6" fill="#000000"/><rect x="220.0" y="542.0" width="8.6" height="8.6" fill="#000000"/><rect x="228.0" y="542.0" width="8.6" height="8.6" fill="#000000"/><rect x="236.0" y="542.0" width="8.6" height="8.6" fill="#000000"/><rect x="244.0" y="542.0" width="8.6" height="8.6" fill="#000000"/><rect x="252.0" y="542.0" width="8.6" height="8.6" fill="#000000"/><rect x="260.0" y="542.0" width="8.6" height="8.6" fill="#000000"/><rect x="268.0" y="542.0" width="8.6" height="8.6" fill="#000000"/></g><g filter="url(#blr)"><rect x="108" y="230" width="8" height="8" fill="#0a1830" opacity="0.6"/><rect x="116" y="230" width="8" height="8" fill="#0a1830" opacity="0.6"/><rect x="124" y="230" width="8" height="8" fill="#0a1830" opacity="0.6"/><rect x="132" y="230" width="8" height="8" fill="#0a1830" opacity="0.6"/><rect x="140" y="230" width="8" height="8" fill="#0a1830" opacity="0.6"/><rect x="148" y="230" width="8" height="8" fill="#0a1830" opacity="0.6"/><rect x="180" y="230" width="8" height="8" fill="#0a1830" opacity="0.6"/><rect x="188" y="230" width="8" height="8" fill="#0a1830" opacity="0.6"/><rect x="196" y="230" width="8" height="8" fill="#0a1830" opacity="0.6"/><rect x="204" y="230" width="8" height="8" fill="#0a1830" opacity="0.6"/><rect x="108" y="238" width="8" height="8" fill="#0a1830" opacity="0.6"/><rect x="116" y="238" width="8" height="8" fill="#0a1830" opacity="0.6"/><rect x="124" y="238" width="8" height="8" fill="#0a1830" opacity="0.6"/><rect x="132" y="238" width="8" height="8" fill="#0a1830" opacity="0.6"/><rect x="140" y="238" width="8" height="8" fill="#0a1830" opacity="0.6"/><rect x="188" y="238" width="8" height="8" fill="#0a1830" opacity="0.6"/><rect x="116" y="246" width="8" height="8" fill="#0a1830" opacity="0.6"/><rect x="124" y="246" width="8" height="8" fill="#0a1830" opacity="0.6"/><rect x="132" y="246" width="8" height="8" fill="#0a1830" opacity="0.6"/><rect x="116" y="254" width="8" height="8" fill="#0a1830" opacity="0.6"/><rect x="124" y="254" width="8" height="8" fill="#0a1830" opacity="0.6"/></g><g filter="url(#vblur)"><path d="M22.0 312.0 L22.5 335.0 L23.0 358.0 L22.0 387.0" fill="none" stroke="#000" stroke-width="5" stroke-linecap="round" stroke-linejoin="round"/><path d="M40.0 320.0 L40.0 341.6 L40.7 359.0 L42.5 370.0 L44.0 350.0" fill="none" stroke="#000" stroke-width="4.2" stroke-linecap="round" stroke-linejoin="round"/><path d="M40.0 322.0 L40.0 341.6 L40.7 359.0 L41.8 370.0 L46.0 366.0 L48.4 376.0 L50.5 380.0" fill="none" stroke="#000" stroke-width="4.2" stroke-linecap="round" stroke-linejoin="round"/><path d="M52.7 322.0 L52.3 341.6 L50.5 354.7 L48.4 370.0" fill="none" stroke="#000" stroke-width="4.2" stroke-linecap="round" stroke-linejoin="round"/><path d="M74.5 328.5 L75.6 343.8 L74.5 359.0 L72.4 370.0" fill="none" stroke="#000" stroke-width="4.6" stroke-linecap="round" stroke-linejoin="round"/><path d="M87.6 341.6 L85.5 354.7 L83.3 370.0" fill="none" stroke="#000" stroke-width="3.8" stroke-linecap="round" stroke-linejoin="round"/><path d="M76.7 350.0 L80.0 363.0 L81.0 376.0 L80.0 389.0" fill="none" stroke="#000" stroke-width="4.2" stroke-linecap="round" stroke-linejoin="round"/><path d="M110.8 313.0 L112.5 333.0 L113.0 348.0 L112.0 363.5" fill="none" stroke="#000" stroke-width="4.2" stroke-linecap="round" stroke-linejoin="round"/><path d="M111.6 350.0 L118.0 356.5 L129.0 354.4" fill="none" stroke="#000" stroke-width="4.2" stroke-linecap="round" stroke-linejoin="round"/><path d="M140.0 374.0 L124.7 382.7 L113.8 393.6 L107.3 400.0" fill="none" stroke="#000" stroke-width="5.5" stroke-linecap="round" stroke-linejoin="round"/><path d="M39.6 402.4 L41.8 415.5 L44.0 428.5 L48.4 441.6 L52.7 454.7 L55.0 462.0 L61.5 473.6" fill="none" stroke="#000" stroke-width="6.5" stroke-linecap="round" stroke-linejoin="round"/><path d="M41.8 424.0 L31.0 428.5 L20.0 426.4" fill="none" stroke="#000" stroke-width="4.2" stroke-linecap="round" stroke-linejoin="round"/><path d="M41.8 415.5 L33.0 406.7 L26.5 402.4" fill="none" stroke="#000" stroke-width="3.6" stroke-linecap="round" stroke-linejoin="round"/><path d="M46.0 441.6 L33.0 446.0 L20.0 443.8" fill="none" stroke="#000" stroke-width="5.5" stroke-linecap="round" stroke-linejoin="round"/><path d="M52.7 454.7 L41.8 463.5 L33.0 470.0" fill="none" stroke="#000" stroke-width="4.2" stroke-linecap="round" stroke-linejoin="round"/><path d="M79.0 419.8 L81.0 433.0 L85.5 443.8 L92.0 454.7 L96.4 470.0" fill="none" stroke="#000" stroke-width="5.5" stroke-linecap="round" stroke-linejoin="round"/><path d="M92.0 422.0 L107.3 426.4 L120.4 422.0 L133.5 415.5 L140.0 413.3" fill="none" stroke="#000" stroke-width="8" stroke-linecap="round" stroke-linejoin="round"/><path d="M113.8 462.7 L122.5 471.5 L140.0 467.0" fill="none" stroke="#000" stroke-width="4.5" stroke-linecap="round" stroke-linejoin="round"/><path d="M227.3 343.0 L229.5 364.5 L230.5 386.0" fill="none" stroke="#000" stroke-width="4.6" stroke-linecap="round" stroke-linejoin="round"/><path d="M245.0 352.0 L246.7 371.0 L244.5 390.0" fill="none" stroke="#000" stroke-width="4.6" stroke-linecap="round" stroke-linejoin="round"/><path d="M206.0 415.0 L228.7 423.0 L246.5 427.6 L262.0 430.0" fill="none" stroke="#000" stroke-width="7" stroke-linecap="round" stroke-linejoin="round"/></g></g><rect x="19.8" y="229.9" width="242.4" height="298.6" fill="none" stroke="#333" stroke-width="0.8"/><g clip-path="url(#cpc)"><g filter="url(#txc)"><rect x="272.4" y="212.2" width="8.6" height="8.6" fill="#636363"/><rect x="280.4" y="212.2" width="8.6" height="8.6" fill="#636363"/><rect x="288.4" y="212.2" width="8.6" height="8.6" fill="#636363"/><rect x="296.4" y="212.2" width="8.6" height="8.6" fill="#898989"/><rect x="304.4" y="212.2" width="8.6" height="8.6" fill="#9c9c9c"/><rect x="312.4" y="212.2" width="8.6" height="8.6" fill="#898989"/><rect x="320.4" y="212.2" width="8.6" height="8.6" fill="#b6b6b6"/><rect x="328.4" y="212.2" width="8.6" height="8.6" fill="#767676"/><rect x="336.4" y="212.2" width="8.6" height="8.6" fill="#636363"/><rect x="344.4" y="212.2" width="8.6" height="8.6" fill="#636363"/><rect x="352.4" y="212.2" width="8.6" height="8.6" fill="#494949"/><rect x="360.4" y="212.2" width="8.6" height="8.6" fill="#000000"/><rect x="368.4" y="212.2" width="8.6" height="8.6" fill="#000000"/><rect x="376.4" y="212.2" width="8.6" height="8.6" fill="#000000"/><rect x="384.4" y="212.2" width="8.6" height="8.6" fill="#000000"/><rect x="392.4" y="212.2" width="8.6" height="8.6" fill="#000000"/><rect x="400.4" y="212.2" width="8.6" height="8.6" fill="#000000"/><rect x="408.4" y="212.2" width="8.6" height="8.6" fill="#000000"/><rect x="416.4" y="212.2" width="8.6" height="8.6" fill="#000000"/><rect x="272.4" y="220.2" width="8.6" height="8.6" fill="#636363"/><rect x="280.4" y="220.2" width="8.6" height="8.6" fill="#636363"/><rect x="288.4" y="220.2" width="8.6" height="8.6" fill="#636363"/><rect x="296.4" y="220.2" width="8.6" height="8.6" fill="#898989"/><rect x="304.4" y="220.2" width="8.6" height="8.6" fill="#9c9c9c"/><rect x="312.4" y="220.2" width="8.6" height="8.6" fill="#898989"/><rect x="320.4" y="220.2" width="8.6" height="8.6" fill="#b6b6b6"/><rect x="328.4" y="220.2" width="8.6" height="8.6" fill="#767676"/><rect x="336.4" y="220.2" width="8.6" height="8.6" fill="#636363"/><rect x="344.4" y="220.2" width="8.6" height="8.6" fill="#636363"/><rect x="352.4" y="220.2" width="8.6" height="8.6" fill="#494949"/><rect x="360.4" y="220.2" width="8.6" height="8.6" fill="#000000"/><rect x="368.4" y="220.2" width="8.6" height="8.6" fill="#000000"/><rect x="376.4" y="220.2" width="8.6" height="8.6" fill="#000000"/><rect x="384.4" y="220.2" width="8.6" height="8.6" fill="#000000"/><rect x="392.4" y="220.2" width="8.6" height="8.6" fill="#000000"/><rect x="400.4" y="220.2" width="8.6" height="8.6" fill="#000000"/><rect x="408.4" y="220.2" width="8.6" height="8.6" fill="#000000"/><rect x="416.4" y="220.2" width="8.6" height="8.6" fill="#000000"/><rect x="272.4" y="228.2" width="8.6" height="8.6" fill="#636363"/><rect x="280.4" y="228.2" width="8.6" height="8.6" fill="#636363"/><rect x="288.4" y="228.2" width="8.6" height="8.6" fill="#636363"/><rect x="296.4" y="228.2" width="8.6" height="8.6" fill="#898989"/><rect x="304.4" y="228.2" width="8.6" height="8.6" fill="#9c9c9c"/><rect x="312.4" y="228.2" width="8.6" height="8.6" fill="#898989"/><rect x="320.4" y="228.2" width="8.6" height="8.6" fill="#b6b6b6"/><rect x="328.4" y="228.2" width="8.6" height="8.6" fill="#767676"/><rect x="336.4" y="228.2" width="8.6" height="8.6" fill="#636363"/><rect x="344.4" y="228.2" width="8.6" height="8.6" fill="#636363"/><rect x="352.4" y="228.2" width="8.6" height="8.6" fill="#494949"/><rect x="360.4" y="228.2" width="8.6" height="8.6" fill="#000000"/><rect x="368.4" y="228.2" width="8.6" height="8.6" fill="#000000"/><rect x="376.4" y="228.2" width="8.6" height="8.6" fill="#000000"/><rect x="384.4" y="228.2" width="8.6" height="8.6" fill="#000000"/><rect x="392.4" y="228.2" width="8.6" height="8.6" fill="#000000"/><rect x="400.4" y="228.2" width="8.6" height="8.6" fill="#000000"/><rect x="408.4" y="228.2" width="8.6" height="8.6" fill="#000000"/><rect x="416.4" y="228.2" width="8.6" height="8.6" fill="#000000"/><rect x="272.4" y="236.2" width="8.6" height="8.6" fill="#767676"/><rect x="280.4" y="236.2" width="8.6" height="8.6" fill="#767676"/><rect x="288.4" y="236.2" width="8.6" height="8.6" fill="#767676"/><rect x="296.4" y="236.2" width="8.6" height="8.6" fill="#dfdfdf"/><rect x="304.4" y="236.2" width="8.6" height="8.6" fill="#dfdfdf"/><rect x="312.4" y="236.2" width="8.6" height="8.6" fill="#dfdfdf"/><rect x="320.4" y="236.2" width="8.6" height="8.6" fill="#b6b6b6"/><rect x="328.4" y="236.2" width="8.6" height="8.6" fill="#b6b6b6"/><rect x="336.4" y="236.2" width="8.6" height="8.6" fill="#9c9c9c"/><rect x="344.4" y="236.2" width="8.6" height="8.6" fill="#898989"/><rect x="352.4" y="236.2" width="8.6" height="8.6" fill="#767676"/><rect x="360.4" y="236.2" width="8.6" height="8.6" fill="#494949"/><rect x="368.4" y="236.2" width="8.6" height="8.6" fill="#000000"/><rect x="376.4" y="236.2" width="8.6" height="8.6" fill="#000000"/><rect x="384.4" y="236.2" width="8.6" height="8.6" fill="#000000"/><rect x="392.4" y="236.2" width="8.6" height="8.6" fill="#000000"/><rect x="400.4" y="236.2" width="8.6" height="8.6" fill="#000000"/><rect x="408.4" y="236.2" width="8.6" height="8.6" fill="#000000"/><rect x="416.4" y="236.2" width="8.6" height="8.6" fill="#000000"/><rect x="272.4" y="244.2" width="8.6" height="8.6" fill="#898989"/><rect x="280.4" y="244.2" width="8.6" height="8.6" fill="#898989"/><rect x="288.4" y="244.2" width="8.6" height="8.6" fill="#898989"/><rect x="296.4" y="244.2" width="8.6" height="8.6" fill="#dfdfdf"/><rect x="304.4" y="244.2" width="8.6" height="8.6" fill="#dfdfdf"/><rect x="312.4" y="244.2" width="8.6" height="8.6" fill="#dfdfdf"/><rect x="320.4" y="244.2" width="8.6" height="8.6" fill="#dfdfdf"/><rect x="328.4" y="244.2" width="8.6" height="8.6" fill="#dfdfdf"/><rect x="336.4" y="244.2" width="8.6" height="8.6" fill="#b6b6b6"/><rect x="344.4" y="244.2" width="8.6" height="8.6" fill="#b6b6b6"/><rect x="352.4" y="244.2" width="8.6" height="8.6" fill="#898989"/><rect x="360.4" y="244.2" width="8.6" height="8.6" fill="#636363"/><rect x="368.4" y="244.2" width="8.6" height="8.6" fill="#000000"/><rect x="376.4" y="244.2" width="8.6" height="8.6" fill="#000000"/><rect x="384.4" y="244.2" width="8.6" height="8.6" fill="#000000"/><rect x="392.4" y="244.2" width="8.6" height="8.6" fill="#494949"/><rect x="400.4" y="244.2" width="8.6" height="8.6" fill="#767676"/><rect x="408.4" y="244.2" width="8.6" height="8.6" fill="#767676"/><rect x="416.4" y="244.2" width="8.6" height="8.6" fill="#767676"/><rect x="272.4" y="252.2" width="8.6" height="8.6" fill="#898989"/><rect x="280.4" y="252.2" width="8.6" height="8.6" fill="#898989"/><rect x="288.4" y="252.2" width="8.6" height="8.6" fill="#898989"/><rect x="296.4" y="252.2" width="8.6" height="8.6" fill="#dfdfdf"/><rect x="304.4" y="252.2" width="8.6" height="8.6" fill="#dfdfdf"/><rect x="312.4" y="252.2" width="8.6" height="8.6" fill="#dfdfdf"/><rect x="320.4" y="252.2" width="8.6" height="8.6" fill="#dfdfdf"/><rect x="328.4" y="252.2" width="8.6" height="8.6" fill="#dfdfdf"/><rect x="336.4" y="252.2" width="8.6" height="8.6" fill="#dfdfdf"/><rect x="344.4" y="252.2" width="8.6" height="8.6" fill="#b6b6b6"/><rect x="352.4" y="252.2" width="8.6" height="8.6" fill="#767676"/><rect x="360.4" y="252.2" width="8.6" height="8.6" fill="#494949"/><rect x="368.4" y="252.2" width="8.6" height="8.6" fill="#000000"/><rect x="376.4" y="252.2" width="8.6" height="8.6" fill="#000000"/><rect x="384.4" y="252.2" width="8.6" height="8.6" fill="#767676"/><rect x="392.4" y="252.2" width="8.6" height="8.6" fill="#b6b6b6"/><rect x="400.4" y="252.2" width="8.6" height="8.6" fill="#b6b6b6"/><rect x="408.4" y="252.2" width="8.6" height="8.6" fill="#b6b6b6"/><rect x="416.4" y="252.2" width="8.6" height="8.6" fill="#b6b6b6"/><rect x="272.4" y="260.2" width="8.6" height="8.6" fill="#9c9c9c"/><rect x="280.4" y="260.2" width="8.6" height="8.6" fill="#9c9c9c"/><rect x="288.4" y="260.2" width="8.6" height="8.6" fill="#9c9c9c"/><rect x="296.4" y="260.2" width="8.6" height="8.6" fill="#dfdfdf"/><rect x="304.4" y="260.2" width="8.6" height="8.6" fill="#dfdfdf"/><rect x="312.4" y="260.2" width="8.6" height="8.6" fill="#dfdfdf"/><rect x="320.4" y="260.2" width="8.6" height="8.6" fill="#dfdfdf"/><rect x="328.4" y="260.2" width="8.6" height="8.6" fill="#9c9c9c"/><rect x="336.4" y="260.2" width="8.6" height="8.6" fill="#b6b6b6"/><rect x="344.4" y="260.2" width="8.6" height="8.6" fill="#b6b6b6"/><rect x="352.4" y="260.2" width="8.6" height="8.6" fill="#636363"/><rect x="360.4" y="260.2" width="8.6" height="8.6" fill="#000000"/><rect x="368.4" y="260.2" width="8.6" height="8.6" fill="#000000"/><rect x="376.4" y="260.2" width="8.6" height="8.6" fill="#000000"/><rect x="384.4" y="260.2" width="8.6" height="8.6" fill="#636363"/><rect x="392.4" y="260.2" width="8.6" height="8.6" fill="#b6b6b6"/><rect x="400.4" y="260.2" width="8.6" height="8.6" fill="#dfdfdf"/><rect x="408.4" y="260.2" width="8.6" height="8.6" fill="#dfdfdf"/><rect x="416.4" y="260.2" width="8.6" height="8.6" fill="#dfdfdf"/><rect x="272.4" y="268.2" width="8.6" height="8.6" fill="#9c9c9c"/><rect x="280.4" y="268.2" width="8.6" height="8.6" fill="#9c9c9c"/><rect x="288.4" y="268.2" width="8.6" height="8.6" fill="#9c9c9c"/><rect x="296.4" y="268.2" width="8.6" height="8.6" fill="#dfdfdf"/><rect x="304.4" y="268.2" width="8.6" height="8.6" fill="#b6b6b6"/><rect x="312.4" y="268.2" width="8.6" height="8.6" fill="#b6b6b6"/><rect x="320.4" y="268.2" width="8.6" height="8.6" fill="#9c9c9c"/><rect x="328.4" y="268.2" width="8.6" height="8.6" fill="#767676"/><rect x="336.4" y="268.2" width="8.6" height="8.6" fill="#767676"/><rect x="344.4" y="268.2" width="8.6" height="8.6" fill="#b6b6b6"/><rect x="352.4" y="268.2" width="8.6" height="8.6" fill="#898989"/><rect x="360.4" y="268.2" width="8.6" height="8.6" fill="#000000"/><rect x="368.4" y="268.2" width="8.6" height="8.6" fill="#000000"/><rect x="376.4" y="268.2" width="8.6" height="8.6" fill="#000000"/><rect x="384.4" y="268.2" width="8.6" height="8.6" fill="#636363"/><rect x="392.4" y="268.2" width="8.6" height="8.6" fill="#b6b6b6"/><rect x="400.4" y="268.2" width="8.6" height="8.6" fill="#dfdfdf"/><rect x="408.4" y="268.2" width="8.6" height="8.6" fill="#dfdfdf"/><rect x="416.4" y="268.2" width="8.6" height="8.6" fill="#dfdfdf"/><rect x="272.4" y="276.2" width="8.6" height="8.6" fill="#9c9c9c"/><rect x="280.4" y="276.2" width="8.6" height="8.6" fill="#9c9c9c"/><rect x="288.4" y="276.2" width="8.6" height="8.6" fill="#9c9c9c"/><rect x="296.4" y="276.2" width="8.6" height="8.6" fill="#9c9c9c"/><rect x="304.4" y="276.2" width="8.6" height="8.6" fill="#636363"/><rect x="312.4" y="276.2" width="8.6" height="8.6" fill="#494949"/><rect x="320.4" y="276.2" width="8.6" height="8.6" fill="#494949"/><rect x="328.4" y="276.2" width="8.6" height="8.6" fill="#494949"/><rect x="336.4" y="276.2" width="8.6" height="8.6" fill="#494949"/><rect x="344.4" y="276.2" width="8.6" height="8.6" fill="#494949"/><rect x="352.4" y="276.2" width="8.6" height="8.6" fill="#494949"/><rect x="360.4" y="276.2" width="8.6" height="8.6" fill="#000000"/><rect x="368.4" y="276.2" width="8.6" height="8.6" fill="#000000"/><rect x="376.4" y="276.2" width="8.6" height="8.6" fill="#636363"/><rect x="384.4" y="276.2" width="8.6" height="8.6" fill="#b6b6b6"/><rect x="392.4" y="276.2" width="8.6" height="8.6" fill="#dfdfdf"/><rect x="400.4" y="276.2" width="8.6" height="8.6" fill="#b6b6b6"/><rect x="408.4" y="276.2" width="8.6" height="8.6" fill="#b6b6b6"/><rect x="416.4" y="276.2" width="8.6" height="8.6" fill="#b6b6b6"/><rect x="272.4" y="284.2" width="8.6" height="8.6" fill="#b6b6b6"/><rect x="280.4" y="284.2" width="8.6" height="8.6" fill="#b6b6b6"/><rect x="288.4" y="284.2" width="8.6" height="8.6" fill="#b6b6b6"/><rect x="296.4" y="284.2" width="8.6" height="8.6" fill="#9c9c9c"/><rect x="304.4" y="284.2" width="8.6" height="8.6" fill="#636363"/><rect x="312.4" y="284.2" width="8.6" height="8.6" fill="#494949"/><rect x="320.4" y="284.2" width="8.6" height="8.6" fill="#494949"/><rect x="328.4" y="284.2" width="8.6" height="8.6" fill="#000000"/><rect x="336.4" y="284.2" width="8.6" height="8.6" fill="#000000"/><rect x="344.4" y="284.2" width="8.6" height="8.6" fill="#000000"/><rect x="352.4" y="284.2" width="8.6" height="8.6" fill="#000000"/><rect x="360.4" y="284.2" width="8.6" height="8.6" fill="#000000"/><rect x="368.4" y="284.2" width="8.6" height="8.6" fill="#000000"/><rect x="376.4" y="284.2" width="8.6" height="8.6" fill="#494949"/><rect x="384.4" y="284.2" width="8.6" height="8.6" fill="#767676"/><rect x="392.4" y="284.2" width="8.6" height="8.6" fill="#9c9c9c"/><rect x="400.4" y="284.2" width="8.6" height="8.6" fill="#b6b6b6"/><rect x="408.4" y="284.2" width="8.6" height="8.6" fill="#b6b6b6"/><rect x="416.4" y="284.2" width="8.6" height="8.6" fill="#b6b6b6"/><rect x="272.4" y="292.2" width="8.6" height="8.6" fill="#9c9c9c"/><rect x="280.4" y="292.2" width="8.6" height="8.6" fill="#9c9c9c"/><rect x="288.4" y="292.2" width="8.6" height="8.6" fill="#9c9c9c"/><rect x="296.4" y="292.2" width="8.6" height="8.6" fill="#9c9c9c"/><rect x="304.4" y="292.2" width="8.6" height="8.6" fill="#767676"/><rect x="312.4" y="292.2" width="8.6" height="8.6" fill="#494949"/><rect x="320.4" y="292.2" width="8.6" height="8.6" fill="#000000"/><rect x="328.4" y="292.2" width="8.6" height="8.6" fill="#000000"/><rect x="336.4" y="292.2" width="8.6" height="8.6" fill="#000000"/><rect x="344.4" y="292.2" width="8.6" height="8.6" fill="#000000"/><rect x="352.4" y="292.2" width="8.6" height="8.6" fill="#000000"/><rect x="360.4" y="292.2" width="8.6" height="8.6" fill="#000000"/><rect x="368.4" y="292.2" width="8.6" height="8.6" fill="#000000"/><rect x="376.4" y="292.2" width="8.6" height="8.6" fill="#000000"/><rect x="384.4" y="292.2" width="8.6" height="8.6" fill="#494949"/><rect x="392.4" y="292.2" width="8.6" height="8.6" fill="#636363"/><rect x="400.4" y="292.2" width="8.6" height="8.6" fill="#767676"/><rect x="408.4" y="292.2" width="8.6" height="8.6" fill="#767676"/><rect x="416.4" y="292.2" width="8.6" height="8.6" fill="#767676"/><rect x="272.4" y="300.2" width="8.6" height="8.6" fill="#767676"/><rect x="280.4" y="300.2" width="8.6" height="8.6" fill="#767676"/><rect x="288.4" y="300.2" width="8.6" height="8.6" fill="#767676"/><rect x="296.4" y="300.2" width="8.6" height="8.6" fill="#898989"/><rect x="304.4" y="300.2" width="8.6" height="8.6" fill="#767676"/><rect x="312.4" y="300.2" width="8.6" height="8.6" fill="#494949"/><rect x="320.4" y="300.2" width="8.6" height="8.6" fill="#000000"/><rect x="328.4" y="300.2" width="8.6" height="8.6" fill="#000000"/><rect x="336.4" y="300.2" width="8.6" height="8.6" fill="#000000"/><rect x="344.4" y="300.2" width="8.6" height="8.6" fill="#000000"/><rect x="352.4" y="300.2" width="8.6" height="8.6" fill="#000000"/><rect x="360.4" y="300.2" width="8.6" height="8.6" fill="#000000"/><rect x="368.4" y="300.2" width="8.6" height="8.6" fill="#000000"/><rect x="376.4" y="300.2" width="8.6" height="8.6" fill="#494949"/><rect x="384.4" y="300.2" width="8.6" height="8.6" fill="#767676"/><rect x="392.4" y="300.2" width="8.6" height="8.6" fill="#898989"/><rect x="400.4" y="300.2" width="8.6" height="8.6" fill="#898989"/><rect x="408.4" y="300.2" width="8.6" height="8.6" fill="#898989"/><rect x="416.4" y="300.2" width="8.6" height="8.6" fill="#898989"/><rect x="272.4" y="308.2" width="8.6" height="8.6" fill="#000000"/><rect x="280.4" y="308.2" width="8.6" height="8.6" fill="#000000"/><rect x="288.4" y="308.2" width="8.6" height="8.6" fill="#000000"/><rect x="296.4" y="308.2" width="8.6" height="8.6" fill="#000000"/><rect x="304.4" y="308.2" width="8.6" height="8.6" fill="#000000"/><rect x="312.4" y="308.2" width="8.6" height="8.6" fill="#000000"/><rect x="320.4" y="308.2" width="8.6" height="8.6" fill="#000000"/><rect x="328.4" y="308.2" width="8.6" height="8.6" fill="#000000"/><rect x="336.4" y="308.2" width="8.6" height="8.6" fill="#000000"/><rect x="344.4" y="308.2" width="8.6" height="8.6" fill="#636363"/><rect x="352.4" y="308.2" width="8.6" height="8.6" fill="#000000"/><rect x="360.4" y="308.2" width="8.6" height="8.6" fill="#000000"/><rect x="368.4" y="308.2" width="8.6" height="8.6" fill="#000000"/><rect x="376.4" y="308.2" width="8.6" height="8.6" fill="#767676"/><rect x="384.4" y="308.2" width="8.6" height="8.6" fill="#9c9c9c"/><rect x="392.4" y="308.2" width="8.6" height="8.6" fill="#b6b6b6"/><rect x="400.4" y="308.2" width="8.6" height="8.6" fill="#9c9c9c"/><rect x="408.4" y="308.2" width="8.6" height="8.6" fill="#9c9c9c"/><rect x="416.4" y="308.2" width="8.6" height="8.6" fill="#9c9c9c"/><rect x="272.4" y="316.2" width="8.6" height="8.6" fill="#000000"/><rect x="280.4" y="316.2" width="8.6" height="8.6" fill="#000000"/><rect x="288.4" y="316.2" width="8.6" height="8.6" fill="#000000"/><rect x="296.4" y="316.2" width="8.6" height="8.6" fill="#000000"/><rect x="304.4" y="316.2" width="8.6" height="8.6" fill="#000000"/><rect x="312.4" y="316.2" width="8.6" height="8.6" fill="#000000"/><rect x="320.4" y="316.2" width="8.6" height="8.6" fill="#000000"/><rect x="328.4" y="316.2" width="8.6" height="8.6" fill="#000000"/><rect x="336.4" y="316.2" width="8.6" height="8.6" fill="#636363"/><rect x="344.4" y="316.2" width="8.6" height="8.6" fill="#898989"/><rect x="352.4" y="316.2" width="8.6" height="8.6" fill="#000000"/><rect x="360.4" y="316.2" width="8.6" height="8.6" fill="#000000"/><rect x="368.4" y="316.2" width="8.6" height="8.6" fill="#000000"/><rect x="376.4" y="316.2" width="8.6" height="8.6" fill="#000000"/><rect x="384.4" y="316.2" width="8.6" height="8.6" fill="#9c9c9c"/><rect x="392.4" y="316.2" width="8.6" height="8.6" fill="#9c9c9c"/><rect x="400.4" y="316.2" width="8.6" height="8.6" fill="#898989"/><rect x="408.4" y="316.2" width="8.6" height="8.6" fill="#898989"/><rect x="416.4" y="316.2" width="8.6" height="8.6" fill="#898989"/><rect x="272.4" y="324.2" width="8.6" height="8.6" fill="#494949"/><rect x="280.4" y="324.2" width="8.6" height="8.6" fill="#494949"/><rect x="288.4" y="324.2" width="8.6" height="8.6" fill="#494949"/><rect x="296.4" y="324.2" width="8.6" height="8.6" fill="#636363"/><rect x="304.4" y="324.2" width="8.6" height="8.6" fill="#000000"/><rect x="312.4" y="324.2" width="8.6" height="8.6" fill="#000000"/><rect x="320.4" y="324.2" width="8.6" height="8.6" fill="#000000"/><rect x="328.4" y="324.2" width="8.6" height="8.6" fill="#494949"/><rect x="336.4" y="324.2" width="8.6" height="8.6" fill="#898989"/><rect x="344.4" y="324.2" width="8.6" height="8.6" fill="#898989"/><rect x="352.4" y="324.2" width="8.6" height="8.6" fill="#494949"/><rect x="360.4" y="324.2" width="8.6" height="8.6" fill="#000000"/><rect x="368.4" y="324.2" width="8.6" height="8.6" fill="#000000"/><rect x="376.4" y="324.2" width="8.6" height="8.6" fill="#000000"/><rect x="384.4" y="324.2" width="8.6" height="8.6" fill="#494949"/><rect x="392.4" y="324.2" width="8.6" height="8.6" fill="#636363"/><rect x="400.4" y="324.2" width="8.6" height="8.6" fill="#767676"/><rect x="408.4" y="324.2" width="8.6" height="8.6" fill="#767676"/><rect x="416.4" y="324.2" width="8.6" height="8.6" fill="#767676"/><rect x="272.4" y="332.2" width="8.6" height="8.6" fill="#898989"/><rect x="280.4" y="332.2" width="8.6" height="8.6" fill="#898989"/><rect x="288.4" y="332.2" width="8.6" height="8.6" fill="#898989"/><rect x="296.4" y="332.2" width="8.6" height="8.6" fill="#494949"/><rect x="304.4" y="332.2" width="8.6" height="8.6" fill="#000000"/><rect x="312.4" y="332.2" width="8.6" height="8.6" fill="#000000"/><rect x="320.4" y="332.2" width="8.6" height="8.6" fill="#000000"/><rect x="328.4" y="332.2" width="8.6" height="8.6" fill="#000000"/><rect x="336.4" y="332.2" width="8.6" height="8.6" fill="#767676"/><rect x="344.4" y="332.2" width="8.6" height="8.6" fill="#b6b6b6"/><rect x="352.4" y="332.2" width="8.6" height="8.6" fill="#898989"/><rect x="360.4" y="332.2" width="8.6" height="8.6" fill="#494949"/><rect x="368.4" y="332.2" width="8.6" height="8.6" fill="#000000"/><rect x="376.4" y="332.2" width="8.6" height="8.6" fill="#000000"/><rect x="384.4" y="332.2" width="8.6" height="8.6" fill="#000000"/><rect x="392.4" y="332.2" width="8.6" height="8.6" fill="#000000"/><rect x="400.4" y="332.2" width="8.6" height="8.6" fill="#494949"/><rect x="408.4" y="332.2" width="8.6" height="8.6" fill="#494949"/><rect x="416.4" y="332.2" width="8.6" height="8.6" fill="#494949"/><rect x="272.4" y="340.2" width="8.6" height="8.6" fill="#9c9c9c"/><rect x="280.4" y="340.2" width="8.6" height="8.6" fill="#9c9c9c"/><rect x="288.4" y="340.2" width="8.6" height="8.6" fill="#9c9c9c"/><rect x="296.4" y="340.2" width="8.6" height="8.6" fill="#636363"/><rect x="304.4" y="340.2" width="8.6" height="8.6" fill="#000000"/><rect x="312.4" y="340.2" width="8.6" height="8.6" fill="#000000"/><rect x="320.4" y="340.2" width="8.6" height="8.6" fill="#000000"/><rect x="328.4" y="340.2" width="8.6" height="8.6" fill="#000000"/><rect x="336.4" y="340.2" width="8.6" height="8.6" fill="#767676"/><rect x="344.4" y="340.2" width="8.6" height="8.6" fill="#dfdfdf"/><rect x="352.4" y="340.2" width="8.6" height="8.6" fill="#b6b6b6"/><rect x="360.4" y="340.2" width="8.6" height="8.6" fill="#767676"/><rect x="368.4" y="340.2" width="8.6" height="8.6" fill="#636363"/><rect x="376.4" y="340.2" width="8.6" height="8.6" fill="#000000"/><rect x="384.4" y="340.2" width="8.6" height="8.6" fill="#000000"/><rect x="392.4" y="340.2" width="8.6" height="8.6" fill="#000000"/><rect x="400.4" y="340.2" width="8.6" height="8.6" fill="#000000"/><rect x="408.4" y="340.2" width="8.6" height="8.6" fill="#000000"/><rect x="416.4" y="340.2" width="8.6" height="8.6" fill="#000000"/><rect x="272.4" y="348.2" width="8.6" height="8.6" fill="#636363"/><rect x="280.4" y="348.2" width="8.6" height="8.6" fill="#636363"/><rect x="288.4" y="348.2" width="8.6" height="8.6" fill="#636363"/><rect x="296.4" y="348.2" width="8.6" height="8.6" fill="#767676"/><rect x="304.4" y="348.2" width="8.6" height="8.6" fill="#494949"/><rect x="312.4" y="348.2" width="8.6" height="8.6" fill="#000000"/><rect x="320.4" y="348.2" width="8.6" height="8.6" fill="#000000"/><rect x="328.4" y="348.2" width="8.6" height="8.6" fill="#494949"/><rect x="336.4" y="348.2" width="8.6" height="8.6" fill="#767676"/><rect x="344.4" y="348.2" width="8.6" height="8.6" fill="#b6b6b6"/><rect x="352.4" y="348.2" width="8.6" height="8.6" fill="#b6b6b6"/><rect x="360.4" y="348.2" width="8.6" height="8.6" fill="#9c9c9c"/><rect x="368.4" y="348.2" width="8.6" height="8.6" fill="#767676"/><rect x="376.4" y="348.2" width="8.6" height="8.6" fill="#636363"/><rect x="384.4" y="348.2" width="8.6" height="8.6" fill="#000000"/><rect x="392.4" y="348.2" width="8.6" height="8.6" fill="#000000"/><rect x="400.4" y="348.2" width="8.6" height="8.6" fill="#000000"/><rect x="408.4" y="348.2" width="8.6" height="8.6" fill="#000000"/><rect x="416.4" y="348.2" width="8.6" height="8.6" fill="#000000"/><rect x="272.4" y="356.2" width="8.6" height="8.6" fill="#000000"/><rect x="280.4" y="356.2" width="8.6" height="8.6" fill="#000000"/><rect x="288.4" y="356.2" width="8.6" height="8.6" fill="#000000"/><rect x="296.4" y="356.2" width="8.6" height="8.6" fill="#000000"/><rect x="304.4" y="356.2" width="8.6" height="8.6" fill="#000000"/><rect x="312.4" y="356.2" width="8.6" height="8.6" fill="#000000"/><rect x="320.4" y="356.2" width="8.6" height="8.6" fill="#000000"/><rect x="328.4" y="356.2" width="8.6" height="8.6" fill="#494949"/><rect x="336.4" y="356.2" width="8.6" height="8.6" fill="#b6b6b6"/><rect x="344.4" y="356.2" width="8.6" height="8.6" fill="#9c9c9c"/><rect x="352.4" y="356.2" width="8.6" height="8.6" fill="#767676"/><rect x="360.4" y="356.2" width="8.6" height="8.6" fill="#636363"/><rect x="368.4" y="356.2" width="8.6" height="8.6" fill="#636363"/><rect x="376.4" y="356.2" width="8.6" height="8.6" fill="#000000"/><rect x="384.4" y="356.2" width="8.6" height="8.6" fill="#000000"/><rect x="392.4" y="356.2" width="8.6" height="8.6" fill="#000000"/><rect x="400.4" y="356.2" width="8.6" height="8.6" fill="#000000"/><rect x="408.4" y="356.2" width="8.6" height="8.6" fill="#000000"/><rect x="416.4" y="356.2" width="8.6" height="8.6" fill="#000000"/><rect x="272.4" y="364.2" width="8.6" height="8.6" fill="#000000"/><rect x="280.4" y="364.2" width="8.6" height="8.6" fill="#000000"/><rect x="288.4" y="364.2" width="8.6" height="8.6" fill="#000000"/><rect x="296.4" y="364.2" width="8.6" height="8.6" fill="#000000"/><rect x="304.4" y="364.2" width="8.6" height="8.6" fill="#000000"/><rect x="312.4" y="364.2" width="8.6" height="8.6" fill="#000000"/><rect x="320.4" y="364.2" width="8.6" height="8.6" fill="#000000"/><rect x="328.4" y="364.2" width="8.6" height="8.6" fill="#000000"/><rect x="336.4" y="364.2" width="8.6" height="8.6" fill="#767676"/><rect x="344.4" y="364.2" width="8.6" height="8.6" fill="#636363"/><rect x="352.4" y="364.2" width="8.6" height="8.6" fill="#494949"/><rect x="360.4" y="364.2" width="8.6" height="8.6" fill="#000000"/><rect x="368.4" y="364.2" width="8.6" height="8.6" fill="#000000"/><rect x="376.4" y="364.2" width="8.6" height="8.6" fill="#000000"/><rect x="384.4" y="364.2" width="8.6" height="8.6" fill="#000000"/><rect x="392.4" y="364.2" width="8.6" height="8.6" fill="#000000"/><rect x="400.4" y="364.2" width="8.6" height="8.6" fill="#000000"/><rect x="408.4" y="364.2" width="8.6" height="8.6" fill="#000000"/><rect x="416.4" y="364.2" width="8.6" height="8.6" fill="#000000"/><rect x="272.4" y="372.2" width="8.6" height="8.6" fill="#000000"/><rect x="280.4" y="372.2" width="8.6" height="8.6" fill="#000000"/><rect x="288.4" y="372.2" width="8.6" height="8.6" fill="#000000"/><rect x="296.4" y="372.2" width="8.6" height="8.6" fill="#000000"/><rect x="304.4" y="372.2" width="8.6" height="8.6" fill="#000000"/><rect x="312.4" y="372.2" width="8.6" height="8.6" fill="#000000"/><rect x="320.4" y="372.2" width="8.6" height="8.6" fill="#000000"/><rect x="328.4" y="372.2" width="8.6" height="8.6" fill="#000000"/><rect x="336.4" y="372.2" width="8.6" height="8.6" fill="#767676"/><rect x="344.4" y="372.2" width="8.6" height="8.6" fill="#636363"/><rect x="352.4" y="372.2" width="8.6" height="8.6" fill="#494949"/><rect x="360.4" y="372.2" width="8.6" height="8.6" fill="#000000"/><rect x="368.4" y="372.2" width="8.6" height="8.6" fill="#000000"/><rect x="376.4" y="372.2" width="8.6" height="8.6" fill="#000000"/><rect x="384.4" y="372.2" width="8.6" height="8.6" fill="#000000"/><rect x="392.4" y="372.2" width="8.6" height="8.6" fill="#000000"/><rect x="400.4" y="372.2" width="8.6" height="8.6" fill="#000000"/><rect x="408.4" y="372.2" width="8.6" height="8.6" fill="#000000"/><rect x="416.4" y="372.2" width="8.6" height="8.6" fill="#000000"/><rect x="272.4" y="380.2" width="8.6" height="8.6" fill="#000000"/><rect x="280.4" y="380.2" width="8.6" height="8.6" fill="#000000"/><rect x="288.4" y="380.2" width="8.6" height="8.6" fill="#000000"/><rect x="296.4" y="380.2" width="8.6" height="8.6" fill="#000000"/><rect x="304.4" y="380.2" width="8.6" height="8.6" fill="#000000"/><rect x="312.4" y="380.2" width="8.6" height="8.6" fill="#000000"/><rect x="320.4" y="380.2" width="8.6" height="8.6" fill="#000000"/><rect x="328.4" y="380.2" width="8.6" height="8.6" fill="#000000"/><rect x="336.4" y="380.2" width="8.6" height="8.6" fill="#767676"/><rect x="344.4" y="380.2" width="8.6" height="8.6" fill="#636363"/><rect x="352.4" y="380.2" width="8.6" height="8.6" fill="#494949"/><rect x="360.4" y="380.2" width="8.6" height="8.6" fill="#000000"/><rect x="368.4" y="380.2" width="8.6" height="8.6" fill="#000000"/><rect x="376.4" y="380.2" width="8.6" height="8.6" fill="#000000"/><rect x="384.4" y="380.2" width="8.6" height="8.6" fill="#000000"/><rect x="392.4" y="380.2" width="8.6" height="8.6" fill="#000000"/><rect x="400.4" y="380.2" width="8.6" height="8.6" fill="#000000"/><rect x="408.4" y="380.2" width="8.6" height="8.6" fill="#000000"/><rect x="416.4" y="380.2" width="8.6" height="8.6" fill="#000000"/></g></g><rect x="288.4" y="228.2" width="116.6" height="137.3" fill="none" stroke="#333" stroke-width="0.8"/><g clip-path="url(#cpd)"><g filter="url(#txd)"><rect x="409.7" y="212.2" width="8.6" height="8.6" fill="#636363"/><rect x="417.7" y="212.2" width="8.6" height="8.6" fill="#636363"/><rect x="425.7" y="212.2" width="8.6" height="8.6" fill="#636363"/><rect x="433.7" y="212.2" width="8.6" height="8.6" fill="#898989"/><rect x="441.7" y="212.2" width="8.6" height="8.6" fill="#9c9c9c"/><rect x="449.7" y="212.2" width="8.6" height="8.6" fill="#898989"/><rect x="457.7" y="212.2" width="8.6" height="8.6" fill="#b6b6b6"/><rect x="465.7" y="212.2" width="8.6" height="8.6" fill="#767676"/><rect x="473.7" y="212.2" width="8.6" height="8.6" fill="#636363"/><rect x="481.7" y="212.2" width="8.6" height="8.6" fill="#636363"/><rect x="489.7" y="212.2" width="8.6" height="8.6" fill="#494949"/><rect x="497.7" y="212.2" width="8.6" height="8.6" fill="#000000"/><rect x="505.7" y="212.2" width="8.6" height="8.6" fill="#000000"/><rect x="513.7" y="212.2" width="8.6" height="8.6" fill="#000000"/><rect x="521.7" y="212.2" width="8.6" height="8.6" fill="#000000"/><rect x="529.7" y="212.2" width="8.6" height="8.6" fill="#000000"/><rect x="537.7" y="212.2" width="8.6" height="8.6" fill="#000000"/><rect x="545.7" y="212.2" width="8.6" height="8.6" fill="#000000"/><rect x="553.7" y="212.2" width="8.6" height="8.6" fill="#000000"/><rect x="409.7" y="220.2" width="8.6" height="8.6" fill="#636363"/><rect x="417.7" y="220.2" width="8.6" height="8.6" fill="#636363"/><rect x="425.7" y="220.2" width="8.6" height="8.6" fill="#636363"/><rect x="433.7" y="220.2" width="8.6" height="8.6" fill="#898989"/><rect x="441.7" y="220.2" width="8.6" height="8.6" fill="#9c9c9c"/><rect x="449.7" y="220.2" width="8.6" height="8.6" fill="#898989"/><rect x="457.7" y="220.2" width="8.6" height="8.6" fill="#b6b6b6"/><rect x="465.7" y="220.2" width="8.6" height="8.6" fill="#767676"/><rect x="473.7" y="220.2" width="8.6" height="8.6" fill="#636363"/><rect x="481.7" y="220.2" width="8.6" height="8.6" fill="#636363"/><rect x="489.7" y="220.2" width="8.6" height="8.6" fill="#494949"/><rect x="497.7" y="220.2" width="8.6" height="8.6" fill="#000000"/><rect x="505.7" y="220.2" width="8.6" height="8.6" fill="#000000"/><rect x="513.7" y="220.2" width="8.6" height="8.6" fill="#000000"/><rect x="521.7" y="220.2" width="8.6" height="8.6" fill="#000000"/><rect x="529.7" y="220.2" width="8.6" height="8.6" fill="#000000"/><rect x="537.7" y="220.2" width="8.6" height="8.6" fill="#000000"/><rect x="545.7" y="220.2" width="8.6" height="8.6" fill="#000000"/><rect x="553.7" y="220.2" width="8.6" height="8.6" fill="#000000"/><rect x="409.7" y="228.2" width="8.6" height="8.6" fill="#636363"/><rect x="417.7" y="228.2" width="8.6" height="8.6" fill="#636363"/><rect x="425.7" y="228.2" width="8.6" height="8.6" fill="#636363"/><rect x="433.7" y="228.2" width="8.6" height="8.6" fill="#898989"/><rect x="441.7" y="228.2" width="8.6" height="8.6" fill="#9c9c9c"/><rect x="449.7" y="228.2" width="8.6" height="8.6" fill="#898989"/><rect x="457.7" y="228.2" width="8.6" height="8.6" fill="#b6b6b6"/><rect x="465.7" y="228.2" width="8.6" height="8.6" fill="#767676"/><rect x="473.7" y="228.2" width="8.6" height="8.6" fill="#636363"/><rect x="481.7" y="228.2" width="8.6" height="8.6" fill="#636363"/><rect x="489.7" y="228.2" width="8.6" height="8.6" fill="#494949"/><rect x="497.7" y="228.2" width="8.6" height="8.6" fill="#000000"/><rect x="505.7" y="228.2" width="8.6" height="8.6" fill="#000000"/><rect x="513.7" y="228.2" width="8.6" height="8.6" fill="#000000"/><rect x="521.7" y="228.2" width="8.6" height="8.6" fill="#000000"/><rect x="529.7" y="228.2" width="8.6" height="8.6" fill="#000000"/><rect x="537.7" y="228.2" width="8.6" height="8.6" fill="#000000"/><rect x="545.7" y="228.2" width="8.6" height="8.6" fill="#000000"/><rect x="553.7" y="228.2" width="8.6" height="8.6" fill="#000000"/><rect x="409.7" y="236.2" width="8.6" height="8.6" fill="#767676"/><rect x="417.7" y="236.2" width="8.6" height="8.6" fill="#767676"/><rect x="425.7" y="236.2" width="8.6" height="8.6" fill="#767676"/><rect x="433.7" y="236.2" width="8.6" height="8.6" fill="#dfdfdf"/><rect x="441.7" y="236.2" width="8.6" height="8.6" fill="#dfdfdf"/><rect x="449.7" y="236.2" width="8.6" height="8.6" fill="#dfdfdf"/><rect x="457.7" y="236.2" width="8.6" height="8.6" fill="#b6b6b6"/><rect x="465.7" y="236.2" width="8.6" height="8.6" fill="#b6b6b6"/><rect x="473.7" y="236.2" width="8.6" height="8.6" fill="#9c9c9c"/><rect x="481.7" y="236.2" width="8.6" height="8.6" fill="#898989"/><rect x="489.7" y="236.2" width="8.6" height="8.6" fill="#767676"/><rect x="497.7" y="236.2" width="8.6" height="8.6" fill="#494949"/><rect x="505.7" y="236.2" width="8.6" height="8.6" fill="#000000"/><rect x="513.7" y="236.2" width="8.6" height="8.6" fill="#000000"/><rect x="521.7" y="236.2" width="8.6" height="8.6" fill="#000000"/><rect x="529.7" y="236.2" width="8.6" height="8.6" fill="#000000"/><rect x="537.7" y="236.2" width="8.6" height="8.6" fill="#000000"/><rect x="545.7" y="236.2" width="8.6" height="8.6" fill="#000000"/><rect x="553.7" y="236.2" width="8.6" height="8.6" fill="#000000"/><rect x="409.7" y="244.2" width="8.6" height="8.6" fill="#898989"/><rect x="417.7" y="244.2" width="8.6" height="8.6" fill="#898989"/><rect x="425.7" y="244.2" width="8.6" height="8.6" fill="#898989"/><rect x="433.7" y="244.2" width="8.6" height="8.6" fill="#dfdfdf"/><rect x="441.7" y="244.2" width="8.6" height="8.6" fill="#dfdfdf"/><rect x="449.7" y="244.2" width="8.6" height="8.6" fill="#dfdfdf"/><rect x="457.7" y="244.2" width="8.6" height="8.6" fill="#dfdfdf"/><rect x="465.7" y="244.2" width="8.6" height="8.6" fill="#dfdfdf"/><rect x="473.7" y="244.2" width="8.6" height="8.6" fill="#b6b6b6"/><rect x="481.7" y="244.2" width="8.6" height="8.6" fill="#b6b6b6"/><rect x="489.7" y="244.2" width="8.6" height="8.6" fill="#898989"/><rect x="497.7" y="244.2" width="8.6" height="8.6" fill="#636363"/><rect x="505.7" y="244.2" width="8.6" height="8.6" fill="#000000"/><rect x="513.7" y="244.2" width="8.6" height="8.6" fill="#000000"/><rect x="521.7" y="244.2" width="8.6" height="8.6" fill="#000000"/><rect x="529.7" y="244.2" width="8.6" height="8.6" fill="#494949"/><rect x="537.7" y="244.2" width="8.6" height="8.6" fill="#767676"/><rect x="545.7" y="244.2" width="8.6" height="8.6" fill="#767676"/><rect x="553.7" y="244.2" width="8.6" height="8.6" fill="#767676"/><rect x="409.7" y="252.2" width="8.6" height="8.6" fill="#898989"/><rect x="417.7" y="252.2" width="8.6" height="8.6" fill="#898989"/><rect x="425.7" y="252.2" width="8.6" height="8.6" fill="#898989"/><rect x="433.7" y="252.2" width="8.6" height="8.6" fill="#dfdfdf"/><rect x="441.7" y="252.2" width="8.6" height="8.6" fill="#dfdfdf"/><rect x="449.7" y="252.2" width="8.6" height="8.6" fill="#dfdfdf"/><rect x="457.7" y="252.2" width="8.6" height="8.6" fill="#dfdfdf"/><rect x="465.7" y="252.2" width="8.6" height="8.6" fill="#dfdfdf"/><rect x="473.7" y="252.2" width="8.6" height="8.6" fill="#dfdfdf"/><rect x="481.7" y="252.2" width="8.6" height="8.6" fill="#b6b6b6"/><rect x="489.7" y="252.2" width="8.6" height="8.6" fill="#767676"/><rect x="497.7" y="252.2" width="8.6" height="8.6" fill="#494949"/><rect x="505.7" y="252.2" width="8.6" height="8.6" fill="#000000"/><rect x="513.7" y="252.2" width="8.6" height="8.6" fill="#000000"/><rect x="521.7" y="252.2" width="8.6" height="8.6" fill="#767676"/><rect x="529.7" y="252.2" width="8.6" height="8.6" fill="#b6b6b6"/><rect x="537.7" y="252.2" width="8.6" height="8.6" fill="#b6b6b6"/><rect x="545.7" y="252.2" width="8.6" height="8.6" fill="#b6b6b6"/><rect x="553.7" y="252.2" width="8.6" height="8.6" fill="#b6b6b6"/><rect x="409.7" y="260.2" width="8.6" height="8.6" fill="#9c9c9c"/><rect x="417.7" y="260.2" width="8.6" height="8.6" fill="#9c9c9c"/><rect x="425.7" y="260.2" width="8.6" height="8.6" fill="#9c9c9c"/><rect x="433.7" y="260.2" width="8.6" height="8.6" fill="#dfdfdf"/><rect x="441.7" y="260.2" width="8.6" height="8.6" fill="#dfdfdf"/><rect x="449.7" y="260.2" width="8.6" height="8.6" fill="#dfdfdf"/><rect x="457.7" y="260.2" width="8.6" height="8.6" fill="#dfdfdf"/><rect x="465.7" y="260.2" width="8.6" height="8.6" fill="#9c9c9c"/><rect x="473.7" y="260.2" width="8.6" height="8.6" fill="#b6b6b6"/><rect x="481.7" y="260.2" width="8.6" height="8.6" fill="#b6b6b6"/><rect x="489.7" y="260.2" width="8.6" height="8.6" fill="#636363"/><rect x="497.7" y="260.2" width="8.6" height="8.6" fill="#000000"/><rect x="505.7" y="260.2" width="8.6" height="8.6" fill="#000000"/><rect x="513.7" y="260.2" width="8.6" height="8.6" fill="#000000"/><rect x="521.7" y="260.2" width="8.6" height="8.6" fill="#636363"/><rect x="529.7" y="260.2" width="8.6" height="8.6" fill="#b6b6b6"/><rect x="537.7" y="260.2" width="8.6" height="8.6" fill="#dfdfdf"/><rect x="545.7" y="260.2" width="8.6" height="8.6" fill="#dfdfdf"/><rect x="553.7" y="260.2" width="8.6" height="8.6" fill="#dfdfdf"/><rect x="409.7" y="268.2" width="8.6" height="8.6" fill="#9c9c9c"/><rect x="417.7" y="268.2" width="8.6" height="8.6" fill="#9c9c9c"/><rect x="425.7" y="268.2" width="8.6" height="8.6" fill="#9c9c9c"/><rect x="433.7" y="268.2" width="8.6" height="8.6" fill="#dfdfdf"/><rect x="441.7" y="268.2" width="8.6" height="8.6" fill="#b6b6b6"/><rect x="449.7" y="268.2" width="8.6" height="8.6" fill="#b6b6b6"/><rect x="457.7" y="268.2" width="8.6" height="8.6" fill="#9c9c9c"/><rect x="465.7" y="268.2" width="8.6" height="8.6" fill="#767676"/><rect x="473.7" y="268.2" width="8.6" height="8.6" fill="#767676"/><rect x="481.7" y="268.2" width="8.6" height="8.6" fill="#b6b6b6"/><rect x="489.7" y="268.2" width="8.6" height="8.6" fill="#898989"/><rect x="497.7" y="268.2" width="8.6" height="8.6" fill="#000000"/><rect x="505.7" y="268.2" width="8.6" height="8.6" fill="#000000"/><rect x="513.7" y="268.2" width="8.6" height="8.6" fill="#000000"/><rect x="521.7" y="268.2" width="8.6" height="8.6" fill="#636363"/><rect x="529.7" y="268.2" width="8.6" height="8.6" fill="#b6b6b6"/><rect x="537.7" y="268.2" width="8.6" height="8.6" fill="#dfdfdf"/><rect x="545.7" y="268.2" width="8.6" height="8.6" fill="#dfdfdf"/><rect x="553.7" y="268.2" width="8.6" height="8.6" fill="#dfdfdf"/><rect x="409.7" y="276.2" width="8.6" height="8.6" fill="#9c9c9c"/><rect x="417.7" y="276.2" width="8.6" height="8.6" fill="#9c9c9c"/><rect x="425.7" y="276.2" width="8.6" height="8.6" fill="#9c9c9c"/><rect x="433.7" y="276.2" width="8.6" height="8.6" fill="#9c9c9c"/><rect x="441.7" y="276.2" width="8.6" height="8.6" fill="#636363"/><rect x="449.7" y="276.2" width="8.6" height="8.6" fill="#494949"/><rect x="457.7" y="276.2" width="8.6" height="8.6" fill="#494949"/><rect x="465.7" y="276.2" width="8.6" height="8.6" fill="#494949"/><rect x="473.7" y="276.2" width="8.6" height="8.6" fill="#494949"/><rect x="481.7" y="276.2" width="8.6" height="8.6" fill="#494949"/><rect x="489.7" y="276.2" width="8.6" height="8.6" fill="#494949"/><rect x="497.7" y="276.2" width="8.6" height="8.6" fill="#000000"/><rect x="505.7" y="276.2" width="8.6" height="8.6" fill="#000000"/><rect x="513.7" y="276.2" width="8.6" height="8.6" fill="#636363"/><rect x="521.7" y="276.2" width="8.6" height="8.6" fill="#b6b6b6"/><rect x="529.7" y="276.2" width="8.6" height="8.6" fill="#dfdfdf"/><rect x="537.7" y="276.2" width="8.6" height="8.6" fill="#b6b6b6"/><rect x="545.7" y="276.2" width="8.6" height="8.6" fill="#b6b6b6"/><rect x="553.7" y="276.2" width="8.6" height="8.6" fill="#b6b6b6"/><rect x="409.7" y="284.2" width="8.6" height="8.6" fill="#b6b6b6"/><rect x="417.7" y="284.2" width="8.6" height="8.6" fill="#b6b6b6"/><rect x="425.7" y="284.2" width="8.6" height="8.6" fill="#b6b6b6"/><rect x="433.7" y="284.2" width="8.6" height="8.6" fill="#9c9c9c"/><rect x="441.7" y="284.2" width="8.6" height="8.6" fill="#636363"/><rect x="449.7" y="284.2" width="8.6" height="8.6" fill="#494949"/><rect x="457.7" y="284.2" width="8.6" height="8.6" fill="#494949"/><rect x="465.7" y="284.2" width="8.6" height="8.6" fill="#000000"/><rect x="473.7" y="284.2" width="8.6" height="8.6" fill="#000000"/><rect x="481.7" y="284.2" width="8.6" height="8.6" fill="#000000"/><rect x="489.7" y="284.2" width="8.6" height="8.6" fill="#000000"/><rect x="497.7" y="284.2" width="8.6" height="8.6" fill="#000000"/><rect x="505.7" y="284.2" width="8.6" height="8.6" fill="#000000"/><rect x="513.7" y="284.2" width="8.6" height="8.6" fill="#494949"/><rect x="521.7" y="284.2" width="8.6" height="8.6" fill="#767676"/><rect x="529.7" y="284.2" width="8.6" height="8.6" fill="#9c9c9c"/><rect x="537.7" y="284.2" width="8.6" height="8.6" fill="#b6b6b6"/><rect x="545.7" y="284.2" width="8.6" height="8.6" fill="#b6b6b6"/><rect x="553.7" y="284.2" width="8.6" height="8.6" fill="#b6b6b6"/><rect x="409.7" y="292.2" width="8.6" height="8.6" fill="#9c9c9c"/><rect x="417.7" y="292.2" width="8.6" height="8.6" fill="#9c9c9c"/><rect x="425.7" y="292.2" width="8.6" height="8.6" fill="#9c9c9c"/><rect x="433.7" y="292.2" width="8.6" height="8.6" fill="#9c9c9c"/><rect x="441.7" y="292.2" width="8.6" height="8.6" fill="#767676"/><rect x="449.7" y="292.2" width="8.6" height="8.6" fill="#494949"/><rect x="457.7" y="292.2" width="8.6" height="8.6" fill="#000000"/><rect x="465.7" y="292.2" width="8.6" height="8.6" fill="#000000"/><rect x="473.7" y="292.2" width="8.6" height="8.6" fill="#000000"/><rect x="481.7" y="292.2" width="8.6" height="8.6" fill="#000000"/><rect x="489.7" y="292.2" width="8.6" height="8.6" fill="#000000"/><rect x="497.7" y="292.2" width="8.6" height="8.6" fill="#000000"/><rect x="505.7" y="292.2" width="8.6" height="8.6" fill="#000000"/><rect x="513.7" y="292.2" width="8.6" height="8.6" fill="#000000"/><rect x="521.7" y="292.2" width="8.6" height="8.6" fill="#494949"/><rect x="529.7" y="292.2" width="8.6" height="8.6" fill="#636363"/><rect x="537.7" y="292.2" width="8.6" height="8.6" fill="#767676"/><rect x="545.7" y="292.2" width="8.6" height="8.6" fill="#767676"/><rect x="553.7" y="292.2" width="8.6" height="8.6" fill="#767676"/><rect x="409.7" y="300.2" width="8.6" height="8.6" fill="#767676"/><rect x="417.7" y="300.2" width="8.6" height="8.6" fill="#767676"/><rect x="425.7" y="300.2" width="8.6" height="8.6" fill="#767676"/><rect x="433.7" y="300.2" width="8.6" height="8.6" fill="#898989"/><rect x="441.7" y="300.2" width="8.6" height="8.6" fill="#767676"/><rect x="449.7" y="300.2" width="8.6" height="8.6" fill="#494949"/><rect x="457.7" y="300.2" width="8.6" height="8.6" fill="#000000"/><rect x="465.7" y="300.2" width="8.6" height="8.6" fill="#000000"/><rect x="473.7" y="300.2" width="8.6" height="8.6" fill="#000000"/><rect x="481.7" y="300.2" width="8.6" height="8.6" fill="#000000"/><rect x="489.7" y="300.2" width="8.6" height="8.6" fill="#000000"/><rect x="497.7" y="300.2" width="8.6" height="8.6" fill="#000000"/><rect x="505.7" y="300.2" width="8.6" height="8.6" fill="#000000"/><rect x="513.7" y="300.2" width="8.6" height="8.6" fill="#494949"/><rect x="521.7" y="300.2" width="8.6" height="8.6" fill="#767676"/><rect x="529.7" y="300.2" width="8.6" height="8.6" fill="#898989"/><rect x="537.7" y="300.2" width="8.6" height="8.6" fill="#898989"/><rect x="545.7" y="300.2" width="8.6" height="8.6" fill="#898989"/><rect x="553.7" y="300.2" width="8.6" height="8.6" fill="#898989"/><rect x="409.7" y="308.2" width="8.6" height="8.6" fill="#000000"/><rect x="417.7" y="308.2" width="8.6" height="8.6" fill="#000000"/><rect x="425.7" y="308.2" width="8.6" height="8.6" fill="#000000"/><rect x="433.7" y="308.2" width="8.6" height="8.6" fill="#000000"/><rect x="441.7" y="308.2" width="8.6" height="8.6" fill="#000000"/><rect x="449.7" y="308.2" width="8.6" height="8.6" fill="#000000"/><rect x="457.7" y="308.2" width="8.6" height="8.6" fill="#000000"/><rect x="465.7" y="308.2" width="8.6" height="8.6" fill="#000000"/><rect x="473.7" y="308.2" width="8.6" height="8.6" fill="#000000"/><rect x="481.7" y="308.2" width="8.6" height="8.6" fill="#636363"/><rect x="489.7" y="308.2" width="8.6" height="8.6" fill="#000000"/><rect x="497.7" y="308.2" width="8.6" height="8.6" fill="#000000"/><rect x="505.7" y="308.2" width="8.6" height="8.6" fill="#000000"/><rect x="513.7" y="308.2" width="8.6" height="8.6" fill="#767676"/><rect x="521.7" y="308.2" width="8.6" height="8.6" fill="#9c9c9c"/><rect x="529.7" y="308.2" width="8.6" height="8.6" fill="#b6b6b6"/><rect x="537.7" y="308.2" width="8.6" height="8.6" fill="#9c9c9c"/><rect x="545.7" y="308.2" width="8.6" height="8.6" fill="#9c9c9c"/><rect x="553.7" y="308.2" width="8.6" height="8.6" fill="#9c9c9c"/><rect x="409.7" y="316.2" width="8.6" height="8.6" fill="#000000"/><rect x="417.7" y="316.2" width="8.6" height="8.6" fill="#000000"/><rect x="425.7" y="316.2" width="8.6" height="8.6" fill="#000000"/><rect x="433.7" y="316.2" width="8.6" height="8.6" fill="#000000"/><rect x="441.7" y="316.2" width="8.6" height="8.6" fill="#000000"/><rect x="449.7" y="316.2" width="8.6" height="8.6" fill="#000000"/><rect x="457.7" y="316.2" width="8.6" height="8.6" fill="#000000"/><rect x="465.7" y="316.2" width="8.6" height="8.6" fill="#000000"/><rect x="473.7" y="316.2" width="8.6" height="8.6" fill="#636363"/><rect x="481.7" y="316.2" width="8.6" height="8.6" fill="#898989"/><rect x="489.7" y="316.2" width="8.6" height="8.6" fill="#000000"/><rect x="497.7" y="316.2" width="8.6" height="8.6" fill="#000000"/><rect x="505.7" y="316.2" width="8.6" height="8.6" fill="#000000"/><rect x="513.7" y="316.2" width="8.6" height="8.6" fill="#000000"/><rect x="521.7" y="316.2" width="8.6" height="8.6" fill="#9c9c9c"/><rect x="529.7" y="316.2" width="8.6" height="8.6" fill="#9c9c9c"/><rect x="537.7" y="316.2" width="8.6" height="8.6" fill="#898989"/><rect x="545.7" y="316.2" width="8.6" height="8.6" fill="#898989"/><rect x="553.7" y="316.2" width="8.6" height="8.6" fill="#898989"/><rect x="409.7" y="324.2" width="8.6" height="8.6" fill="#494949"/><rect x="417.7" y="324.2" width="8.6" height="8.6" fill="#494949"/><rect x="425.7" y="324.2" width="8.6" height="8.6" fill="#494949"/><rect x="433.7" y="324.2" width="8.6" height="8.6" fill="#636363"/><rect x="441.7" y="324.2" width="8.6" height="8.6" fill="#000000"/><rect x="449.7" y="324.2" width="8.6" height="8.6" fill="#000000"/><rect x="457.7" y="324.2" width="8.6" height="8.6" fill="#000000"/><rect x="465.7" y="324.2" width="8.6" height="8.6" fill="#494949"/><rect x="473.7" y="324.2" width="8.6" height="8.6" fill="#898989"/><rect x="481.7" y="324.2" width="8.6" height="8.6" fill="#898989"/><rect x="489.7" y="324.2" width="8.6" height="8.6" fill="#494949"/><rect x="497.7" y="324.2" width="8.6" height="8.6" fill="#000000"/><rect x="505.7" y="324.2" width="8.6" height="8.6" fill="#000000"/><rect x="513.7" y="324.2" width="8.6" height="8.6" fill="#000000"/><rect x="521.7" y="324.2" width="8.6" height="8.6" fill="#494949"/><rect x="529.7" y="324.2" width="8.6" height="8.6" fill="#636363"/><rect x="537.7" y="324.2" width="8.6" height="8.6" fill="#767676"/><rect x="545.7" y="324.2" width="8.6" height="8.6" fill="#767676"/><rect x="553.7" y="324.2" width="8.6" height="8.6" fill="#767676"/><rect x="409.7" y="332.2" width="8.6" height="8.6" fill="#898989"/><rect x="417.7" y="332.2" width="8.6" height="8.6" fill="#898989"/><rect x="425.7" y="332.2" width="8.6" height="8.6" fill="#898989"/><rect x="433.7" y="332.2" width="8.6" height="8.6" fill="#494949"/><rect x="441.7" y="332.2" width="8.6" height="8.6" fill="#000000"/><rect x="449.7" y="332.2" width="8.6" height="8.6" fill="#000000"/><rect x="457.7" y="332.2" width="8.6" height="8.6" fill="#000000"/><rect x="465.7" y="332.2" width="8.6" height="8.6" fill="#000000"/><rect x="473.7" y="332.2" width="8.6" height="8.6" fill="#767676"/><rect x="481.7" y="332.2" width="8.6" height="8.6" fill="#b6b6b6"/><rect x="489.7" y="332.2" width="8.6" height="8.6" fill="#898989"/><rect x="497.7" y="332.2" width="8.6" height="8.6" fill="#494949"/><rect x="505.7" y="332.2" width="8.6" height="8.6" fill="#000000"/><rect x="513.7" y="332.2" width="8.6" height="8.6" fill="#000000"/><rect x="521.7" y="332.2" width="8.6" height="8.6" fill="#000000"/><rect x="529.7" y="332.2" width="8.6" height="8.6" fill="#000000"/><rect x="537.7" y="332.2" width="8.6" height="8.6" fill="#494949"/><rect x="545.7" y="332.2" width="8.6" height="8.6" fill="#494949"/><rect x="553.7" y="332.2" width="8.6" height="8.6" fill="#494949"/><rect x="409.7" y="340.2" width="8.6" height="8.6" fill="#9c9c9c"/><rect x="417.7" y="340.2" width="8.6" height="8.6" fill="#9c9c9c"/><rect x="425.7" y="340.2" width="8.6" height="8.6" fill="#9c9c9c"/><rect x="433.7" y="340.2" width="8.6" height="8.6" fill="#636363"/><rect x="441.7" y="340.2" width="8.6" height="8.6" fill="#000000"/><rect x="449.7" y="340.2" width="8.6" height="8.6" fill="#000000"/><rect x="457.7" y="340.2" width="8.6" height="8.6" fill="#000000"/><rect x="465.7" y="340.2" width="8.6" height="8.6" fill="#000000"/><rect x="473.7" y="340.2" width="8.6" height="8.6" fill="#767676"/><rect x="481.7" y="340.2" width="8.6" height="8.6" fill="#dfdfdf"/><rect x="489.7" y="340.2" width="8.6" height="8.6" fill="#b6b6b6"/><rect x="497.7" y="340.2" width="8.6" height="8.6" fill="#767676"/><rect x="505.7" y="340.2" width="8.6" height="8.6" fill="#636363"/><rect x="513.7" y="340.2" width="8.6" height="8.6" fill="#000000"/><rect x="521.7" y="340.2" width="8.6" height="8.6" fill="#000000"/><rect x="529.7" y="340.2" width="8.6" height="8.6" fill="#000000"/><rect x="537.7" y="340.2" width="8.6" height="8.6" fill="#000000"/><rect x="545.7" y="340.2" width="8.6" height="8.6" fill="#000000"/><rect x="553.7" y="340.2" width="8.6" height="8.6" fill="#000000"/><rect x="409.7" y="348.2" width="8.6" height="8.6" fill="#636363"/><rect x="417.7" y="348.2" width="8.6" height="8.6" fill="#636363"/><rect x="425.7" y="348.2" width="8.6" height="8.6" fill="#636363"/><rect x="433.7" y="348.2" width="8.6" height="8.6" fill="#767676"/><rect x="441.7" y="348.2" width="8.6" height="8.6" fill="#494949"/><rect x="449.7" y="348.2" width="8.6" height="8.6" fill="#000000"/><rect x="457.7" y="348.2" width="8.6" height="8.6" fill="#000000"/><rect x="465.7" y="348.2" width="8.6" height="8.6" fill="#494949"/><rect x="473.7" y="348.2" width="8.6" height="8.6" fill="#767676"/><rect x="481.7" y="348.2" width="8.6" height="8.6" fill="#b6b6b6"/><rect x="489.7" y="348.2" width="8.6" height="8.6" fill="#b6b6b6"/><rect x="497.7" y="348.2" width="8.6" height="8.6" fill="#9c9c9c"/><rect x="505.7" y="348.2" width="8.6" height="8.6" fill="#767676"/><rect x="513.7" y="348.2" width="8.6" height="8.6" fill="#636363"/><rect x="521.7" y="348.2" width="8.6" height="8.6" fill="#000000"/><rect x="529.7" y="348.2" width="8.6" height="8.6" fill="#000000"/><rect x="537.7" y="348.2" width="8.6" height="8.6" fill="#000000"/><rect x="545.7" y="348.2" width="8.6" height="8.6" fill="#000000"/><rect x="553.7" y="348.2" width="8.6" height="8.6" fill="#000000"/><rect x="409.7" y="356.2" width="8.6" height="8.6" fill="#000000"/><rect x="417.7" y="356.2" width="8.6" height="8.6" fill="#000000"/><rect x="425.7" y="356.2" width="8.6" height="8.6" fill="#000000"/><rect x="433.7" y="356.2" width="8.6" height="8.6" fill="#000000"/><rect x="441.7" y="356.2" width="8.6" height="8.6" fill="#000000"/><rect x="449.7" y="356.2" width="8.6" height="8.6" fill="#000000"/><rect x="457.7" y="356.2" width="8.6" height="8.6" fill="#000000"/><rect x="465.7" y="356.2" width="8.6" height="8.6" fill="#494949"/><rect x="473.7" y="356.2" width="8.6" height="8.6" fill="#b6b6b6"/><rect x="481.7" y="356.2" width="8.6" height="8.6" fill="#9c9c9c"/><rect x="489.7" y="356.2" width="8.6" height="8.6" fill="#767676"/><rect x="497.7" y="356.2" width="8.6" height="8.6" fill="#636363"/><rect x="505.7" y="356.2" width="8.6" height="8.6" fill="#636363"/><rect x="513.7" y="356.2" width="8.6" height="8.6" fill="#000000"/><rect x="521.7" y="356.2" width="8.6" height="8.6" fill="#000000"/><rect x="529.7" y="356.2" width="8.6" height="8.6" fill="#000000"/><rect x="537.7" y="356.2" width="8.6" height="8.6" fill="#000000"/><rect x="545.7" y="356.2" width="8.6" height="8.6" fill="#000000"/><rect x="553.7" y="356.2" width="8.6" height="8.6" fill="#000000"/><rect x="409.7" y="364.2" width="8.6" height="8.6" fill="#000000"/><rect x="417.7" y="364.2" width="8.6" height="8.6" fill="#000000"/><rect x="425.7" y="364.2" width="8.6" height="8.6" fill="#000000"/><rect x="433.7" y="364.2" width="8.6" height="8.6" fill="#000000"/><rect x="441.7" y="364.2" width="8.6" height="8.6" fill="#000000"/><rect x="449.7" y="364.2" width="8.6" height="8.6" fill="#000000"/><rect x="457.7" y="364.2" width="8.6" height="8.6" fill="#000000"/><rect x="465.7" y="364.2" width="8.6" height="8.6" fill="#000000"/><rect x="473.7" y="364.2" width="8.6" height="8.6" fill="#767676"/><rect x="481.7" y="364.2" width="8.6" height="8.6" fill="#636363"/><rect x="489.7" y="364.2" width="8.6" height="8.6" fill="#494949"/><rect x="497.7" y="364.2" width="8.6" height="8.6" fill="#000000"/><rect x="505.7" y="364.2" width="8.6" height="8.6" fill="#000000"/><rect x="513.7" y="364.2" width="8.6" height="8.6" fill="#000000"/><rect x="521.7" y="364.2" width="8.6" height="8.6" fill="#000000"/><rect x="529.7" y="364.2" width="8.6" height="8.6" fill="#000000"/><rect x="537.7" y="364.2" width="8.6" height="8.6" fill="#000000"/><rect x="545.7" y="364.2" width="8.6" height="8.6" fill="#000000"/><rect x="553.7" y="364.2" width="8.6" height="8.6" fill="#000000"/><rect x="409.7" y="372.2" width="8.6" height="8.6" fill="#000000"/><rect x="417.7" y="372.2" width="8.6" height="8.6" fill="#000000"/><rect x="425.7" y="372.2" width="8.6" height="8.6" fill="#000000"/><rect x="433.7" y="372.2" width="8.6" height="8.6" fill="#000000"/><rect x="441.7" y="372.2" width="8.6" height="8.6" fill="#000000"/><rect x="449.7" y="372.2" width="8.6" height="8.6" fill="#000000"/><rect x="457.7" y="372.2" width="8.6" height="8.6" fill="#000000"/><rect x="465.7" y="372.2" width="8.6" height="8.6" fill="#000000"/><rect x="473.7" y="372.2" width="8.6" height="8.6" fill="#767676"/><rect x="481.7" y="372.2" width="8.6" height="8.6" fill="#636363"/><rect x="489.7" y="372.2" width="8.6" height="8.6" fill="#494949"/><rect x="497.7" y="372.2" width="8.6" height="8.6" fill="#000000"/><rect x="505.7" y="372.2" width="8.6" height="8.6" fill="#000000"/><rect x="513.7" y="372.2" width="8.6" height="8.6" fill="#000000"/><rect x="521.7" y="372.2" width="8.6" height="8.6" fill="#000000"/><rect x="529.7" y="372.2" width="8.6" height="8.6" fill="#000000"/><rect x="537.7" y="372.2" width="8.6" height="8.6" fill="#000000"/><rect x="545.7" y="372.2" width="8.6" height="8.6" fill="#000000"/><rect x="553.7" y="372.2" width="8.6" height="8.6" fill="#000000"/><rect x="409.7" y="380.2" width="8.6" height="8.6" fill="#000000"/><rect x="417.7" y="380.2" width="8.6" height="8.6" fill="#000000"/><rect x="425.7" y="380.2" width="8.6" height="8.6" fill="#000000"/><rect x="433.7" y="380.2" width="8.6" height="8.6" fill="#000000"/><rect x="441.7" y="380.2" width="8.6" height="8.6" fill="#000000"/><rect x="449.7" y="380.2" width="8.6" height="8.6" fill="#000000"/><rect x="457.7" y="380.2" width="8.6" height="8.6" fill="#000000"/><rect x="465.7" y="380.2" width="8.6" height="8.6" fill="#000000"/><rect x="473.7" y="380.2" width="8.6" height="8.6" fill="#767676"/><rect x="481.7" y="380.2" width="8.6" height="8.6" fill="#636363"/><rect x="489.7" y="380.2" width="8.6" height="8.6" fill="#494949"/><rect x="497.7" y="380.2" width="8.6" height="8.6" fill="#000000"/><rect x="505.7" y="380.2" width="8.6" height="8.6" fill="#000000"/><rect x="513.7" y="380.2" width="8.6" height="8.6" fill="#000000"/><rect x="521.7" y="380.2" width="8.6" height="8.6" fill="#000000"/><rect x="529.7" y="380.2" width="8.6" height="8.6" fill="#000000"/><rect x="537.7" y="380.2" width="8.6" height="8.6" fill="#000000"/><rect x="545.7" y="380.2" width="8.6" height="8.6" fill="#000000"/><rect x="553.7" y="380.2" width="8.6" height="8.6" fill="#000000"/></g></g><rect x="425.7" y="228.2" width="116.0" height="137.5" fill="none" stroke="#333" stroke-width="0.8"/><g clip-path="url(#cpe)"><g filter="url(#txe)"><rect x="272.0" y="377.0" width="8.6" height="8.6" fill="#585858"/><rect x="280.0" y="377.0" width="8.6" height="8.6" fill="#585858"/><rect x="288.0" y="377.0" width="8.6" height="8.6" fill="#585858"/><rect x="296.0" y="377.0" width="8.6" height="8.6" fill="#787878"/><rect x="304.0" y="377.0" width="8.6" height="8.6" fill="#878787"/><rect x="312.0" y="377.0" width="8.6" height="8.6" fill="#787878"/><rect x="320.0" y="377.0" width="8.6" height="8.6" fill="#959595"/><rect x="328.0" y="377.0" width="8.6" height="8.6" fill="#6a6a6a"/><rect x="336.0" y="377.0" width="8.6" height="8.6" fill="#585858"/><rect x="344.0" y="377.0" width="8.6" height="8.6" fill="#585858"/><rect x="352.0" y="377.0" width="8.6" height="8.6" fill="#414141"/><rect x="360.0" y="377.0" width="8.6" height="8.6" fill="#000000"/><rect x="368.0" y="377.0" width="8.6" height="8.6" fill="#000000"/><rect x="376.0" y="377.0" width="8.6" height="8.6" fill="#000000"/><rect x="384.0" y="377.0" width="8.6" height="8.6" fill="#000000"/><rect x="392.0" y="377.0" width="8.6" height="8.6" fill="#000000"/><rect x="400.0" y="377.0" width="8.6" height="8.6" fill="#000000"/><rect x="408.0" y="377.0" width="8.6" height="8.6" fill="#000000"/><rect x="416.0" y="377.0" width="8.6" height="8.6" fill="#000000"/><rect x="272.0" y="385.0" width="8.6" height="8.6" fill="#585858"/><rect x="280.0" y="385.0" width="8.6" height="8.6" fill="#585858"/><rect x="288.0" y="385.0" width="8.6" height="8.6" fill="#585858"/><rect x="296.0" y="385.0" width="8.6" height="8.6" fill="#787878"/><rect x="304.0" y="385.0" width="8.6" height="8.6" fill="#878787"/><rect x="312.0" y="385.0" width="8.6" height="8.6" fill="#787878"/><rect x="320.0" y="385.0" width="8.6" height="8.6" fill="#959595"/><rect x="328.0" y="385.0" width="8.6" height="8.6" fill="#6a6a6a"/><rect x="336.0" y="385.0" width="8.6" height="8.6" fill="#585858"/><rect x="344.0" y="385.0" width="8.6" height="8.6" fill="#585858"/><rect x="352.0" y="385.0" width="8.6" height="8.6" fill="#414141"/><rect x="360.0" y="385.0" width="8.6" height="8.6" fill="#000000"/><rect x="368.0" y="385.0" width="8.6" height="8.6" fill="#000000"/><rect x="376.0" y="385.0" width="8.6" height="8.6" fill="#000000"/><rect x="384.0" y="385.0" width="8.6" height="8.6" fill="#000000"/><rect x="392.0" y="385.0" width="8.6" height="8.6" fill="#000000"/><rect x="400.0" y="385.0" width="8.6" height="8.6" fill="#000000"/><rect x="408.0" y="385.0" width="8.6" height="8.6" fill="#000000"/><rect x="416.0" y="385.0" width="8.6" height="8.6" fill="#000000"/><rect x="272.0" y="393.0" width="8.6" height="8.6" fill="#585858"/><rect x="280.0" y="393.0" width="8.6" height="8.6" fill="#585858"/><rect x="288.0" y="393.0" width="8.6" height="8.6" fill="#585858"/><rect x="296.0" y="393.0" width="8.6" height="8.6" fill="#787878"/><rect x="304.0" y="393.0" width="8.6" height="8.6" fill="#878787"/><rect x="312.0" y="393.0" width="8.6" height="8.6" fill="#787878"/><rect x="320.0" y="393.0" width="8.6" height="8.6" fill="#959595"/><rect x="328.0" y="393.0" width="8.6" height="8.6" fill="#6a6a6a"/><rect x="336.0" y="393.0" width="8.6" height="8.6" fill="#585858"/><rect x="344.0" y="393.0" width="8.6" height="8.6" fill="#585858"/><rect x="352.0" y="393.0" width="8.6" height="8.6" fill="#414141"/><rect x="360.0" y="393.0" width="8.6" height="8.6" fill="#000000"/><rect x="368.0" y="393.0" width="8.6" height="8.6" fill="#000000"/><rect x="376.0" y="393.0" width="8.6" height="8.6" fill="#000000"/><rect x="384.0" y="393.0" width="8.6" height="8.6" fill="#000000"/><rect x="392.0" y="393.0" width="8.6" height="8.6" fill="#000000"/><rect x="400.0" y="393.0" width="8.6" height="8.6" fill="#000000"/><rect x="408.0" y="393.0" width="8.6" height="8.6" fill="#000000"/><rect x="416.0" y="393.0" width="8.6" height="8.6" fill="#000000"/><rect x="272.0" y="401.0" width="8.6" height="8.6" fill="#6a6a6a"/><rect x="280.0" y="401.0" width="8.6" height="8.6" fill="#6a6a6a"/><rect x="288.0" y="401.0" width="8.6" height="8.6" fill="#6a6a6a"/><rect x="296.0" y="401.0" width="8.6" height="8.6" fill="#a7a7a7"/><rect x="304.0" y="401.0" width="8.6" height="8.6" fill="#a7a7a7"/><rect x="312.0" y="401.0" width="8.6" height="8.6" fill="#a7a7a7"/><rect x="320.0" y="401.0" width="8.6" height="8.6" fill="#959595"/><rect x="328.0" y="401.0" width="8.6" height="8.6" fill="#959595"/><rect x="336.0" y="401.0" width="8.6" height="8.6" fill="#878787"/><rect x="344.0" y="401.0" width="8.6" height="8.6" fill="#787878"/><rect x="352.0" y="401.0" width="8.6" height="8.6" fill="#6a6a6a"/><rect x="360.0" y="401.0" width="8.6" height="8.6" fill="#414141"/><rect x="368.0" y="401.0" width="8.6" height="8.6" fill="#000000"/><rect x="376.0" y="401.0" width="8.6" height="8.6" fill="#000000"/><rect x="384.0" y="401.0" width="8.6" height="8.6" fill="#000000"/><rect x="392.0" y="401.0" width="8.6" height="8.6" fill="#000000"/><rect x="400.0" y="401.0" width="8.6" height="8.6" fill="#000000"/><rect x="408.0" y="401.0" width="8.6" height="8.6" fill="#000000"/><rect x="416.0" y="401.0" width="8.6" height="8.6" fill="#000000"/><rect x="272.0" y="409.0" width="8.6" height="8.6" fill="#787878"/><rect x="280.0" y="409.0" width="8.6" height="8.6" fill="#787878"/><rect x="288.0" y="409.0" width="8.6" height="8.6" fill="#787878"/><rect x="296.0" y="409.0" width="8.6" height="8.6" fill="#a7a7a7"/><rect x="304.0" y="409.0" width="8.6" height="8.6" fill="#bebebe"/><rect x="312.0" y="409.0" width="8.6" height="8.6" fill="#a7a7a7"/><rect x="320.0" y="409.0" width="8.6" height="8.6" fill="#a7a7a7"/><rect x="328.0" y="409.0" width="8.6" height="8.6" fill="#a7a7a7"/><rect x="336.0" y="409.0" width="8.6" height="8.6" fill="#959595"/><rect x="344.0" y="409.0" width="8.6" height="8.6" fill="#959595"/><rect x="352.0" y="409.0" width="8.6" height="8.6" fill="#787878"/><rect x="360.0" y="409.0" width="8.6" height="8.6" fill="#585858"/><rect x="368.0" y="409.0" width="8.6" height="8.6" fill="#000000"/><rect x="376.0" y="409.0" width="8.6" height="8.6" fill="#000000"/><rect x="384.0" y="409.0" width="8.6" height="8.6" fill="#000000"/><rect x="392.0" y="409.0" width="8.6" height="8.6" fill="#414141"/><rect x="400.0" y="409.0" width="8.6" height="8.6" fill="#6a6a6a"/><rect x="408.0" y="409.0" width="8.6" height="8.6" fill="#6a6a6a"/><rect x="416.0" y="409.0" width="8.6" height="8.6" fill="#6a6a6a"/><rect x="272.0" y="417.0" width="8.6" height="8.6" fill="#787878"/><rect x="280.0" y="417.0" width="8.6" height="8.6" fill="#787878"/><rect x="288.0" y="417.0" width="8.6" height="8.6" fill="#787878"/><rect x="296.0" y="417.0" width="8.6" height="8.6" fill="#a7a7a7"/><rect x="304.0" y="417.0" width="8.6" height="8.6" fill="#bebebe"/><rect x="312.0" y="417.0" width="8.6" height="8.6" fill="#bebebe"/><rect x="320.0" y="417.0" width="8.6" height="8.6" fill="#a7a7a7"/><rect x="328.0" y="417.0" width="8.6" height="8.6" fill="#a7a7a7"/><rect x="336.0" y="417.0" width="8.6" height="8.6" fill="#a7a7a7"/><rect x="344.0" y="417.0" width="8.6" height="8.6" fill="#959595"/><rect x="352.0" y="417.0" width="8.6" height="8.6" fill="#6a6a6a"/><rect x="360.0" y="417.0" width="8.6" height="8.6" fill="#414141"/><rect x="368.0" y="417.0" width="8.6" height="8.6" fill="#000000"/><rect x="376.0" y="417.0" width="8.6" height="8.6" fill="#000000"/><rect x="384.0" y="417.0" width="8.6" height="8.6" fill="#6a6a6a"/><rect x="392.0" y="417.0" width="8.6" height="8.6" fill="#959595"/><rect x="400.0" y="417.0" width="8.6" height="8.6" fill="#959595"/><rect x="408.0" y="417.0" width="8.6" height="8.6" fill="#959595"/><rect x="416.0" y="417.0" width="8.6" height="8.6" fill="#959595"/><rect x="272.0" y="425.0" width="8.6" height="8.6" fill="#878787"/><rect x="280.0" y="425.0" width="8.6" height="8.6" fill="#878787"/><rect x="288.0" y="425.0" width="8.6" height="8.6" fill="#878787"/><rect x="296.0" y="425.0" width="8.6" height="8.6" fill="#a7a7a7"/><rect x="304.0" y="425.0" width="8.6" height="8.6" fill="#a7a7a7"/><rect x="312.0" y="425.0" width="8.6" height="8.6" fill="#a7a7a7"/><rect x="320.0" y="425.0" width="8.6" height="8.6" fill="#a7a7a7"/><rect x="328.0" y="425.0" width="8.6" height="8.6" fill="#878787"/><rect x="336.0" y="425.0" width="8.6" height="8.6" fill="#959595"/><rect x="344.0" y="425.0" width="8.6" height="8.6" fill="#959595"/><rect x="352.0" y="425.0" width="8.6" height="8.6" fill="#585858"/><rect x="360.0" y="425.0" width="8.6" height="8.6" fill="#000000"/><rect x="368.0" y="425.0" width="8.6" height="8.6" fill="#000000"/><rect x="376.0" y="425.0" width="8.6" height="8.6" fill="#000000"/><rect x="384.0" y="425.0" width="8.6" height="8.6" fill="#585858"/><rect x="392.0" y="425.0" width="8.6" height="8.6" fill="#959595"/><rect x="400.0" y="425.0" width="8.6" height="8.6" fill="#a7a7a7"/><rect x="408.0" y="425.0" width="8.6" height="8.6" fill="#a7a7a7"/><rect x="416.0" y="425.0" width="8.6" height="8.6" fill="#a7a7a7"/><rect x="272.0" y="433.0" width="8.6" height="8.6" fill="#878787"/><rect x="280.0" y="433.0" width="8.6" height="8.6" fill="#878787"/><rect x="288.0" y="433.0" width="8.6" height="8.6" fill="#878787"/><rect x="296.0" y="433.0" width="8.6" height="8.6" fill="#a7a7a7"/><rect x="304.0" y="433.0" width="8.6" height="8.6" fill="#959595"/><rect x="312.0" y="433.0" width="8.6" height="8.6" fill="#959595"/><rect x="320.0" y="433.0" width="8.6" height="8.6" fill="#878787"/><rect x="328.0" y="433.0" width="8.6" height="8.6" fill="#6a6a6a"/><rect x="336.0" y="433.0" width="8.6" height="8.6" fill="#6a6a6a"/><rect x="344.0" y="433.0" width="8.6" height="8.6" fill="#959595"/><rect x="352.0" y="433.0" width="8.6" height="8.6" fill="#787878"/><rect x="360.0" y="433.0" width="8.6" height="8.6" fill="#000000"/><rect x="368.0" y="433.0" width="8.6" height="8.6" fill="#000000"/><rect x="376.0" y="433.0" width="8.6" height="8.6" fill="#000000"/><rect x="384.0" y="433.0" width="8.6" height="8.6" fill="#585858"/><rect x="392.0" y="433.0" width="8.6" height="8.6" fill="#959595"/><rect x="400.0" y="433.0" width="8.6" height="8.6" fill="#a7a7a7"/><rect x="408.0" y="433.0" width="8.6" height="8.6" fill="#a7a7a7"/><rect x="416.0" y="433.0" width="8.6" height="8.6" fill="#a7a7a7"/><rect x="272.0" y="441.0" width="8.6" height="8.6" fill="#878787"/><rect x="280.0" y="441.0" width="8.6" height="8.6" fill="#878787"/><rect x="288.0" y="441.0" width="8.6" height="8.6" fill="#878787"/><rect x="296.0" y="441.0" width="8.6" height="8.6" fill="#878787"/><rect x="304.0" y="441.0" width="8.6" height="8.6" fill="#585858"/><rect x="312.0" y="441.0" width="8.6" height="8.6" fill="#414141"/><rect x="320.0" y="441.0" width="8.6" height="8.6" fill="#414141"/><rect x="328.0" y="441.0" width="8.6" height="8.6" fill="#414141"/><rect x="336.0" y="441.0" width="8.6" height="8.6" fill="#414141"/><rect x="344.0" y="441.0" width="8.6" height="8.6" fill="#414141"/><rect x="352.0" y="441.0" width="8.6" height="8.6" fill="#414141"/><rect x="360.0" y="441.0" width="8.6" height="8.6" fill="#000000"/><rect x="368.0" y="441.0" width="8.6" height="8.6" fill="#000000"/><rect x="376.0" y="441.0" width="8.6" height="8.6" fill="#585858"/><rect x="384.0" y="441.0" width="8.6" height="8.6" fill="#959595"/><rect x="392.0" y="441.0" width="8.6" height="8.6" fill="#a7a7a7"/><rect x="400.0" y="441.0" width="8.6" height="8.6" fill="#959595"/><rect x="408.0" y="441.0" width="8.6" height="8.6" fill="#959595"/><rect x="416.0" y="441.0" width="8.6" height="8.6" fill="#959595"/><rect x="272.0" y="449.0" width="8.6" height="8.6" fill="#959595"/><rect x="280.0" y="449.0" width="8.6" height="8.6" fill="#959595"/><rect x="288.0" y="449.0" width="8.6" height="8.6" fill="#959595"/><rect x="296.0" y="449.0" width="8.6" height="8.6" fill="#878787"/><rect x="304.0" y="449.0" width="8.6" height="8.6" fill="#585858"/><rect x="312.0" y="449.0" width="8.6" height="8.6" fill="#414141"/><rect x="320.0" y="449.0" width="8.6" height="8.6" fill="#414141"/><rect x="328.0" y="449.0" width="8.6" height="8.6" fill="#000000"/><rect x="336.0" y="449.0" width="8.6" height="8.6" fill="#000000"/><rect x="344.0" y="449.0" width="8.6" height="8.6" fill="#000000"/><rect x="352.0" y="449.0" width="8.6" height="8.6" fill="#000000"/><rect x="360.0" y="449.0" width="8.6" height="8.6" fill="#000000"/><rect x="368.0" y="449.0" width="8.6" height="8.6" fill="#000000"/><rect x="376.0" y="449.0" width="8.6" height="8.6" fill="#414141"/><rect x="384.0" y="449.0" width="8.6" height="8.6" fill="#6a6a6a"/><rect x="392.0" y="449.0" width="8.6" height="8.6" fill="#878787"/><rect x="400.0" y="449.0" width="8.6" height="8.6" fill="#959595"/><rect x="408.0" y="449.0" width="8.6" height="8.6" fill="#959595"/><rect x="416.0" y="449.0" width="8.6" height="8.6" fill="#959595"/><rect x="272.0" y="457.0" width="8.6" height="8.6" fill="#878787"/><rect x="280.0" y="457.0" width="8.6" height="8.6" fill="#878787"/><rect x="288.0" y="457.0" width="8.6" height="8.6" fill="#878787"/><rect x="296.0" y="457.0" width="8.6" height="8.6" fill="#878787"/><rect x="304.0" y="457.0" width="8.6" height="8.6" fill="#6a6a6a"/><rect x="312.0" y="457.0" width="8.6" height="8.6" fill="#414141"/><rect x="320.0" y="457.0" width="8.6" height="8.6" fill="#000000"/><rect x="328.0" y="457.0" width="8.6" height="8.6" fill="#000000"/><rect x="336.0" y="457.0" width="8.6" height="8.6" fill="#000000"/><rect x="344.0" y="457.0" width="8.6" height="8.6" fill="#000000"/><rect x="352.0" y="457.0" width="8.6" height="8.6" fill="#000000"/><rect x="360.0" y="457.0" width="8.6" height="8.6" fill="#000000"/><rect x="368.0" y="457.0" width="8.6" height="8.6" fill="#000000"/><rect x="376.0" y="457.0" width="8.6" height="8.6" fill="#000000"/><rect x="384.0" y="457.0" width="8.6" height="8.6" fill="#414141"/><rect x="392.0" y="457.0" width="8.6" height="8.6" fill="#585858"/><rect x="400.0" y="457.0" width="8.6" height="8.6" fill="#6a6a6a"/><rect x="408.0" y="457.0" width="8.6" height="8.6" fill="#6a6a6a"/><rect x="416.0" y="457.0" width="8.6" height="8.6" fill="#6a6a6a"/><rect x="272.0" y="465.0" width="8.6" height="8.6" fill="#6a6a6a"/><rect x="280.0" y="465.0" width="8.6" height="8.6" fill="#6a6a6a"/><rect x="288.0" y="465.0" width="8.6" height="8.6" fill="#6a6a6a"/><rect x="296.0" y="465.0" width="8.6" height="8.6" fill="#787878"/><rect x="304.0" y="465.0" width="8.6" height="8.6" fill="#6a6a6a"/><rect x="312.0" y="465.0" width="8.6" height="8.6" fill="#414141"/><rect x="320.0" y="465.0" width="8.6" height="8.6" fill="#000000"/><rect x="328.0" y="465.0" width="8.6" height="8.6" fill="#000000"/><rect x="336.0" y="465.0" width="8.6" height="8.6" fill="#000000"/><rect x="344.0" y="465.0" width="8.6" height="8.6" fill="#000000"/><rect x="352.0" y="465.0" width="8.6" height="8.6" fill="#000000"/><rect x="360.0" y="465.0" width="8.6" height="8.6" fill="#000000"/><rect x="368.0" y="465.0" width="8.6" height="8.6" fill="#000000"/><rect x="376.0" y="465.0" width="8.6" height="8.6" fill="#414141"/><rect x="384.0" y="465.0" width="8.6" height="8.6" fill="#6a6a6a"/><rect x="392.0" y="465.0" width="8.6" height="8.6" fill="#787878"/><rect x="400.0" y="465.0" width="8.6" height="8.6" fill="#787878"/><rect x="408.0" y="465.0" width="8.6" height="8.6" fill="#787878"/><rect x="416.0" y="465.0" width="8.6" height="8.6" fill="#787878"/><rect x="272.0" y="473.0" width="8.6" height="8.6" fill="#000000"/><rect x="280.0" y="473.0" width="8.6" height="8.6" fill="#000000"/><rect x="288.0" y="473.0" width="8.6" height="8.6" fill="#000000"/><rect x="296.0" y="473.0" width="8.6" height="8.6" fill="#000000"/><rect x="304.0" y="473.0" width="8.6" height="8.6" fill="#000000"/><rect x="312.0" y="473.0" width="8.6" height="8.6" fill="#000000"/><rect x="320.0" y="473.0" width="8.6" height="8.6" fill="#000000"/><rect x="328.0" y="473.0" width="8.6" height="8.6" fill="#000000"/><rect x="336.0" y="473.0" width="8.6" height="8.6" fill="#000000"/><rect x="344.0" y="473.0" width="8.6" height="8.6" fill="#585858"/><rect x="352.0" y="473.0" width="8.6" height="8.6" fill="#000000"/><rect x="360.0" y="473.0" width="8.6" height="8.6" fill="#000000"/><rect x="368.0" y="473.0" width="8.6" height="8.6" fill="#000000"/><rect x="376.0" y="473.0" width="8.6" height="8.6" fill="#6a6a6a"/><rect x="384.0" y="473.0" width="8.6" height="8.6" fill="#878787"/><rect x="392.0" y="473.0" width="8.6" height="8.6" fill="#959595"/><rect x="400.0" y="473.0" width="8.6" height="8.6" fill="#878787"/><rect x="408.0" y="473.0" width="8.6" height="8.6" fill="#878787"/><rect x="416.0" y="473.0" width="8.6" height="8.6" fill="#878787"/><rect x="272.0" y="481.0" width="8.6" height="8.6" fill="#000000"/><rect x="280.0" y="481.0" width="8.6" height="8.6" fill="#000000"/><rect x="288.0" y="481.0" width="8.6" height="8.6" fill="#000000"/><rect x="296.0" y="481.0" width="8.6" height="8.6" fill="#000000"/><rect x="304.0" y="481.0" width="8.6" height="8.6" fill="#000000"/><rect x="312.0" y="481.0" width="8.6" height="8.6" fill="#000000"/><rect x="320.0" y="481.0" width="8.6" height="8.6" fill="#000000"/><rect x="328.0" y="481.0" width="8.6" height="8.6" fill="#000000"/><rect x="336.0" y="481.0" width="8.6" height="8.6" fill="#585858"/><rect x="344.0" y="481.0" width="8.6" height="8.6" fill="#787878"/><rect x="352.0" y="481.0" width="8.6" height="8.6" fill="#000000"/><rect x="360.0" y="481.0" width="8.6" height="8.6" fill="#000000"/><rect x="368.0" y="481.0" width="8.6" height="8.6" fill="#000000"/><rect x="376.0" y="481.0" width="8.6" height="8.6" fill="#000000"/><rect x="384.0" y="481.0" width="8.6" height="8.6" fill="#878787"/><rect x="392.0" y="481.0" width="8.6" height="8.6" fill="#878787"/><rect x="400.0" y="481.0" width="8.6" height="8.6" fill="#787878"/><rect x="408.0" y="481.0" width="8.6" height="8.6" fill="#787878"/><rect x="416.0" y="481.0" width="8.6" height="8.6" fill="#787878"/><rect x="272.0" y="489.0" width="8.6" height="8.6" fill="#414141"/><rect x="280.0" y="489.0" width="8.6" height="8.6" fill="#414141"/><rect x="288.0" y="489.0" width="8.6" height="8.6" fill="#414141"/><rect x="296.0" y="489.0" width="8.6" height="8.6" fill="#585858"/><rect x="304.0" y="489.0" width="8.6" height="8.6" fill="#000000"/><rect x="312.0" y="489.0" width="8.6" height="8.6" fill="#000000"/><rect x="320.0" y="489.0" width="8.6" height="8.6" fill="#000000"/><rect x="328.0" y="489.0" width="8.6" height="8.6" fill="#414141"/><rect x="336.0" y="489.0" width="8.6" height="8.6" fill="#787878"/><rect x="344.0" y="489.0" width="8.6" height="8.6" fill="#787878"/><rect x="352.0" y="489.0" width="8.6" height="8.6" fill="#414141"/><rect x="360.0" y="489.0" width="8.6" height="8.6" fill="#000000"/><rect x="368.0" y="489.0" width="8.6" height="8.6" fill="#000000"/><rect x="376.0" y="489.0" width="8.6" height="8.6" fill="#000000"/><rect x="384.0" y="489.0" width="8.6" height="8.6" fill="#414141"/><rect x="392.0" y="489.0" width="8.6" height="8.6" fill="#585858"/><rect x="400.0" y="489.0" width="8.6" height="8.6" fill="#6a6a6a"/><rect x="408.0" y="489.0" width="8.6" height="8.6" fill="#6a6a6a"/><rect x="416.0" y="489.0" width="8.6" height="8.6" fill="#6a6a6a"/><rect x="272.0" y="497.0" width="8.6" height="8.6" fill="#787878"/><rect x="280.0" y="497.0" width="8.6" height="8.6" fill="#787878"/><rect x="288.0" y="497.0" width="8.6" height="8.6" fill="#787878"/><rect x="296.0" y="497.0" width="8.6" height="8.6" fill="#414141"/><rect x="304.0" y="497.0" width="8.6" height="8.6" fill="#000000"/><rect x="312.0" y="497.0" width="8.6" height="8.6" fill="#000000"/><rect x="320.0" y="497.0" width="8.6" height="8.6" fill="#000000"/><rect x="328.0" y="497.0" width="8.6" height="8.6" fill="#000000"/><rect x="336.0" y="497.0" width="8.6" height="8.6" fill="#6a6a6a"/><rect x="344.0" y="497.0" width="8.6" height="8.6" fill="#959595"/><rect x="352.0" y="497.0" width="8.6" height="8.6" fill="#787878"/><rect x="360.0" y="497.0" width="8.6" height="8.6" fill="#414141"/><rect x="368.0" y="497.0" width="8.6" height="8.6" fill="#000000"/><rect x="376.0" y="497.0" width="8.6" height="8.6" fill="#000000"/><rect x="384.0" y="497.0" width="8.6" height="8.6" fill="#000000"/><rect x="392.0" y="497.0" width="8.6" height="8.6" fill="#000000"/><rect x="400.0" y="497.0" width="8.6" height="8.6" fill="#414141"/><rect x="408.0" y="497.0" width="8.6" height="8.6" fill="#414141"/><rect x="416.0" y="497.0" width="8.6" height="8.6" fill="#414141"/><rect x="272.0" y="505.0" width="8.6" height="8.6" fill="#878787"/><rect x="280.0" y="505.0" width="8.6" height="8.6" fill="#878787"/><rect x="288.0" y="505.0" width="8.6" height="8.6" fill="#878787"/><rect x="296.0" y="505.0" width="8.6" height="8.6" fill="#585858"/><rect x="304.0" y="505.0" width="8.6" height="8.6" fill="#000000"/><rect x="312.0" y="505.0" width="8.6" height="8.6" fill="#000000"/><rect x="320.0" y="505.0" width="8.6" height="8.6" fill="#000000"/><rect x="328.0" y="505.0" width="8.6" height="8.6" fill="#000000"/><rect x="336.0" y="505.0" width="8.6" height="8.6" fill="#6a6a6a"/><rect x="344.0" y="505.0" width="8.6" height="8.6" fill="#a7a7a7"/><rect x="352.0" y="505.0" width="8.6" height="8.6" fill="#959595"/><rect x="360.0" y="505.0" width="8.6" height="8.6" fill="#6a6a6a"/><rect x="368.0" y="505.0" width="8.6" height="8.6" fill="#585858"/><rect x="376.0" y="505.0" width="8.6" height="8.6" fill="#000000"/><rect x="384.0" y="505.0" width="8.6" height="8.6" fill="#000000"/><rect x="392.0" y="505.0" width="8.6" height="8.6" fill="#000000"/><rect x="400.0" y="505.0" width="8.6" height="8.6" fill="#000000"/><rect x="408.0" y="505.0" width="8.6" height="8.6" fill="#000000"/><rect x="416.0" y="505.0" width="8.6" height="8.6" fill="#000000"/><rect x="272.0" y="513.0" width="8.6" height="8.6" fill="#585858"/><rect x="280.0" y="513.0" width="8.6" height="8.6" fill="#585858"/><rect x="288.0" y="513.0" width="8.6" height="8.6" fill="#585858"/><rect x="296.0" y="513.0" width="8.6" height="8.6" fill="#6a6a6a"/><rect x="304.0" y="513.0" width="8.6" height="8.6" fill="#414141"/><rect x="312.0" y="513.0" width="8.6" height="8.6" fill="#000000"/><rect x="320.0" y="513.0" width="8.6" height="8.6" fill="#000000"/><rect x="328.0" y="513.0" width="8.6" height="8.6" fill="#414141"/><rect x="336.0" y="513.0" width="8.6" height="8.6" fill="#6a6a6a"/><rect x="344.0" y="513.0" width="8.6" height="8.6" fill="#959595"/><rect x="352.0" y="513.0" width="8.6" height="8.6" fill="#959595"/><rect x="360.0" y="513.0" width="8.6" height="8.6" fill="#878787"/><rect x="368.0" y="513.0" width="8.6" height="8.6" fill="#6a6a6a"/><rect x="376.0" y="513.0" width="8.6" height="8.6" fill="#585858"/><rect x="384.0" y="513.0" width="8.6" height="8.6" fill="#000000"/><rect x="392.0" y="513.0" width="8.6" height="8.6" fill="#000000"/><rect x="400.0" y="513.0" width="8.6" height="8.6" fill="#000000"/><rect x="408.0" y="513.0" width="8.6" height="8.6" fill="#000000"/><rect x="416.0" y="513.0" width="8.6" height="8.6" fill="#000000"/><rect x="272.0" y="521.0" width="8.6" height="8.6" fill="#000000"/><rect x="280.0" y="521.0" width="8.6" height="8.6" fill="#000000"/><rect x="288.0" y="521.0" width="8.6" height="8.6" fill="#000000"/><rect x="296.0" y="521.0" width="8.6" height="8.6" fill="#000000"/><rect x="304.0" y="521.0" width="8.6" height="8.6" fill="#000000"/><rect x="312.0" y="521.0" width="8.6" height="8.6" fill="#000000"/><rect x="320.0" y="521.0" width="8.6" height="8.6" fill="#000000"/><rect x="328.0" y="521.0" width="8.6" height="8.6" fill="#414141"/><rect x="336.0" y="521.0" width="8.6" height="8.6" fill="#959595"/><rect x="344.0" y="521.0" width="8.6" height="8.6" fill="#878787"/><rect x="352.0" y="521.0" width="8.6" height="8.6" fill="#6a6a6a"/><rect x="360.0" y="521.0" width="8.6" height="8.6" fill="#585858"/><rect x="368.0" y="521.0" width="8.6" height="8.6" fill="#585858"/><rect x="376.0" y="521.0" width="8.6" height="8.6" fill="#000000"/><rect x="384.0" y="521.0" width="8.6" height="8.6" fill="#000000"/><rect x="392.0" y="521.0" width="8.6" height="8.6" fill="#000000"/><rect x="400.0" y="521.0" width="8.6" height="8.6" fill="#000000"/><rect x="408.0" y="521.0" width="8.6" height="8.6" fill="#000000"/><rect x="416.0" y="521.0" width="8.6" height="8.6" fill="#000000"/><rect x="272.0" y="529.0" width="8.6" height="8.6" fill="#000000"/><rect x="280.0" y="529.0" width="8.6" height="8.6" fill="#000000"/><rect x="288.0" y="529.0" width="8.6" height="8.6" fill="#000000"/><rect x="296.0" y="529.0" width="8.6" height="8.6" fill="#000000"/><rect x="304.0" y="529.0" width="8.6" height="8.6" fill="#000000"/><rect x="312.0" y="529.0" width="8.6" height="8.6" fill="#000000"/><rect x="320.0" y="529.0" width="8.6" height="8.6" fill="#000000"/><rect x="328.0" y="529.0" width="8.6" height="8.6" fill="#000000"/><rect x="336.0" y="529.0" width="8.6" height="8.6" fill="#6a6a6a"/><rect x="344.0" y="529.0" width="8.6" height="8.6" fill="#585858"/><rect x="352.0" y="529.0" width="8.6" height="8.6" fill="#414141"/><rect x="360.0" y="529.0" width="8.6" height="8.6" fill="#000000"/><rect x="368.0" y="529.0" width="8.6" height="8.6" fill="#000000"/><rect x="376.0" y="529.0" width="8.6" height="8.6" fill="#000000"/><rect x="384.0" y="529.0" width="8.6" height="8.6" fill="#000000"/><rect x="392.0" y="529.0" width="8.6" height="8.6" fill="#000000"/><rect x="400.0" y="529.0" width="8.6" height="8.6" fill="#000000"/><rect x="408.0" y="529.0" width="8.6" height="8.6" fill="#000000"/><rect x="416.0" y="529.0" width="8.6" height="8.6" fill="#000000"/><rect x="272.0" y="537.0" width="8.6" height="8.6" fill="#000000"/><rect x="280.0" y="537.0" width="8.6" height="8.6" fill="#000000"/><rect x="288.0" y="537.0" width="8.6" height="8.6" fill="#000000"/><rect x="296.0" y="537.0" width="8.6" height="8.6" fill="#000000"/><rect x="304.0" y="537.0" width="8.6" height="8.6" fill="#000000"/><rect x="312.0" y="537.0" width="8.6" height="8.6" fill="#000000"/><rect x="320.0" y="537.0" width="8.6" height="8.6" fill="#000000"/><rect x="328.0" y="537.0" width="8.6" height="8.6" fill="#000000"/><rect x="336.0" y="537.0" width="8.6" height="8.6" fill="#6a6a6a"/><rect x="344.0" y="537.0" width="8.6" height="8.6" fill="#585858"/><rect x="352.0" y="537.0" width="8.6" height="8.6" fill="#414141"/><rect x="360.0" y="537.0" width="8.6" height="8.6" fill="#000000"/><rect x="368.0" y="537.0" width="8.6" height="8.6" fill="#000000"/><rect x="376.0" y="537.0" width="8.6" height="8.6" fill="#000000"/><rect x="384.0" y="537.0" width="8.6" height="8.6" fill="#000000"/><rect x="392.0" y="537.0" width="8.6" height="8.6" fill="#000000"/><rect x="400.0" y="537.0" width="8.6" height="8.6" fill="#000000"/><rect x="408.0" y="537.0" width="8.6" height="8.6" fill="#000000"/><rect x="416.0" y="537.0" width="8.6" height="8.6" fill="#000000"/><rect x="272.0" y="545.0" width="8.6" height="8.6" fill="#000000"/><rect x="280.0" y="545.0" width="8.6" height="8.6" fill="#000000"/><rect x="288.0" y="545.0" width="8.6" height="8.6" fill="#000000"/><rect x="296.0" y="545.0" width="8.6" height="8.6" fill="#000000"/><rect x="304.0" y="545.0" width="8.6" height="8.6" fill="#000000"/><rect x="312.0" y="545.0" width="8.6" height="8.6" fill="#000000"/><rect x="320.0" y="545.0" width="8.6" height="8.6" fill="#000000"/><rect x="328.0" y="545.0" width="8.6" height="8.6" fill="#000000"/><rect x="336.0" y="545.0" width="8.6" height="8.6" fill="#6a6a6a"/><rect x="344.0" y="545.0" width="8.6" height="8.6" fill="#585858"/><rect x="352.0" y="545.0" width="8.6" height="8.6" fill="#414141"/><rect x="360.0" y="545.0" width="8.6" height="8.6" fill="#000000"/><rect x="368.0" y="545.0" width="8.6" height="8.6" fill="#000000"/><rect x="376.0" y="545.0" width="8.6" height="8.6" fill="#000000"/><rect x="384.0" y="545.0" width="8.6" height="8.6" fill="#000000"/><rect x="392.0" y="545.0" width="8.6" height="8.6" fill="#000000"/><rect x="400.0" y="545.0" width="8.6" height="8.6" fill="#000000"/><rect x="408.0" y="545.0" width="8.6" height="8.6" fill="#000000"/><rect x="416.0" y="545.0" width="8.6" height="8.6" fill="#000000"/></g></g><rect x="288.0" y="393.0" width="116.6" height="136.2" fill="none" stroke="#333" stroke-width="0.8"/><g clip-path="url(#cpf)"><g filter="url(#txf)"><rect x="409.6" y="378.0" width="8.6" height="8.6" fill="#555555"/><rect x="417.6" y="378.0" width="8.6" height="8.6" fill="#555555"/><rect x="425.6" y="378.0" width="8.6" height="8.6" fill="#555555"/><rect x="433.6" y="378.0" width="8.6" height="8.6" fill="#787878"/><rect x="441.6" y="378.0" width="8.6" height="8.6" fill="#878787"/><rect x="449.6" y="378.0" width="8.6" height="8.6" fill="#787878"/><rect x="457.6" y="378.0" width="8.6" height="8.6" fill="#989898"/><rect x="465.6" y="378.0" width="8.6" height="8.6" fill="#676767"/><rect x="473.6" y="378.0" width="8.6" height="8.6" fill="#555555"/><rect x="481.6" y="378.0" width="8.6" height="8.6" fill="#555555"/><rect x="489.6" y="378.0" width="8.6" height="8.6" fill="#3b3b3b"/><rect x="497.6" y="378.0" width="8.6" height="8.6" fill="#000000"/><rect x="505.6" y="378.0" width="8.6" height="8.6" fill="#000000"/><rect x="513.6" y="378.0" width="8.6" height="8.6" fill="#000000"/><rect x="521.6" y="378.0" width="8.6" height="8.6" fill="#000000"/><rect x="529.6" y="378.0" width="8.6" height="8.6" fill="#000000"/><rect x="537.6" y="378.0" width="8.6" height="8.6" fill="#000000"/><rect x="545.6" y="378.0" width="8.6" height="8.6" fill="#000000"/><rect x="553.6" y="378.0" width="8.6" height="8.6" fill="#000000"/><rect x="409.6" y="386.0" width="8.6" height="8.6" fill="#555555"/><rect x="417.6" y="386.0" width="8.6" height="8.6" fill="#555555"/><rect x="425.6" y="386.0" width="8.6" height="8.6" fill="#555555"/><rect x="433.6" y="386.0" width="8.6" height="8.6" fill="#787878"/><rect x="441.6" y="386.0" width="8.6" height="8.6" fill="#878787"/><rect x="449.6" y="386.0" width="8.6" height="8.6" fill="#787878"/><rect x="457.6" y="386.0" width="8.6" height="8.6" fill="#989898"/><rect x="465.6" y="386.0" width="8.6" height="8.6" fill="#676767"/><rect x="473.6" y="386.0" width="8.6" height="8.6" fill="#555555"/><rect x="481.6" y="386.0" width="8.6" height="8.6" fill="#555555"/><rect x="489.6" y="386.0" width="8.6" height="8.6" fill="#3b3b3b"/><rect x="497.6" y="386.0" width="8.6" height="8.6" fill="#000000"/><rect x="505.6" y="386.0" width="8.6" height="8.6" fill="#000000"/><rect x="513.6" y="386.0" width="8.6" height="8.6" fill="#000000"/><rect x="521.6" y="386.0" width="8.6" height="8.6" fill="#000000"/><rect x="529.6" y="386.0" width="8.6" height="8.6" fill="#000000"/><rect x="537.6" y="386.0" width="8.6" height="8.6" fill="#000000"/><rect x="545.6" y="386.0" width="8.6" height="8.6" fill="#000000"/><rect x="553.6" y="386.0" width="8.6" height="8.6" fill="#000000"/><rect x="409.6" y="394.0" width="8.6" height="8.6" fill="#555555"/><rect x="417.6" y="394.0" width="8.6" height="8.6" fill="#555555"/><rect x="425.6" y="394.0" width="8.6" height="8.6" fill="#555555"/><rect x="433.6" y="394.0" width="8.6" height="8.6" fill="#787878"/><rect x="441.6" y="394.0" width="8.6" height="8.6" fill="#878787"/><rect x="449.6" y="394.0" width="8.6" height="8.6" fill="#787878"/><rect x="457.6" y="394.0" width="8.6" height="8.6" fill="#989898"/><rect x="465.6" y="394.0" width="8.6" height="8.6" fill="#676767"/><rect x="473.6" y="394.0" width="8.6" height="8.6" fill="#555555"/><rect x="481.6" y="394.0" width="8.6" height="8.6" fill="#555555"/><rect x="489.6" y="394.0" width="8.6" height="8.6" fill="#3b3b3b"/><rect x="497.6" y="394.0" width="8.6" height="8.6" fill="#000000"/><rect x="505.6" y="394.0" width="8.6" height="8.6" fill="#000000"/><rect x="513.6" y="394.0" width="8.6" height="8.6" fill="#000000"/><rect x="521.6" y="394.0" width="8.6" height="8.6" fill="#000000"/><rect x="529.6" y="394.0" width="8.6" height="8.6" fill="#000000"/><rect x="537.6" y="394.0" width="8.6" height="8.6" fill="#000000"/><rect x="545.6" y="394.0" width="8.6" height="8.6" fill="#000000"/><rect x="553.6" y="394.0" width="8.6" height="8.6" fill="#000000"/><rect x="409.6" y="402.0" width="8.6" height="8.6" fill="#676767"/><rect x="417.6" y="402.0" width="8.6" height="8.6" fill="#676767"/><rect x="425.6" y="402.0" width="8.6" height="8.6" fill="#676767"/><rect x="433.6" y="402.0" width="8.6" height="8.6" fill="#aaaaaa"/><rect x="441.6" y="402.0" width="8.6" height="8.6" fill="#aaaaaa"/><rect x="449.6" y="402.0" width="8.6" height="8.6" fill="#aaaaaa"/><rect x="457.6" y="402.0" width="8.6" height="8.6" fill="#989898"/><rect x="465.6" y="402.0" width="8.6" height="8.6" fill="#989898"/><rect x="473.6" y="402.0" width="8.6" height="8.6" fill="#878787"/><rect x="481.6" y="402.0" width="8.6" height="8.6" fill="#787878"/><rect x="489.6" y="402.0" width="8.6" height="8.6" fill="#676767"/><rect x="497.6" y="402.0" width="8.6" height="8.6" fill="#3b3b3b"/><rect x="505.6" y="402.0" width="8.6" height="8.6" fill="#000000"/><rect x="513.6" y="402.0" width="8.6" height="8.6" fill="#000000"/><rect x="521.6" y="402.0" width="8.6" height="8.6" fill="#000000"/><rect x="529.6" y="402.0" width="8.6" height="8.6" fill="#000000"/><rect x="537.6" y="402.0" width="8.6" height="8.6" fill="#000000"/><rect x="545.6" y="402.0" width="8.6" height="8.6" fill="#000000"/><rect x="553.6" y="402.0" width="8.6" height="8.6" fill="#000000"/><rect x="409.6" y="410.0" width="8.6" height="8.6" fill="#787878"/><rect x="417.6" y="410.0" width="8.6" height="8.6" fill="#787878"/><rect x="425.6" y="410.0" width="8.6" height="8.6" fill="#787878"/><rect x="433.6" y="410.0" width="8.6" height="8.6" fill="#aaaaaa"/><rect x="441.6" y="410.0" width="8.6" height="8.6" fill="#c4c4c4"/><rect x="449.6" y="410.0" width="8.6" height="8.6" fill="#aaaaaa"/><rect x="457.6" y="410.0" width="8.6" height="8.6" fill="#aaaaaa"/><rect x="465.6" y="410.0" width="8.6" height="8.6" fill="#aaaaaa"/><rect x="473.6" y="410.0" width="8.6" height="8.6" fill="#989898"/><rect x="481.6" y="410.0" width="8.6" height="8.6" fill="#989898"/><rect x="489.6" y="410.0" width="8.6" height="8.6" fill="#787878"/><rect x="497.6" y="410.0" width="8.6" height="8.6" fill="#555555"/><rect x="505.6" y="410.0" width="8.6" height="8.6" fill="#000000"/><rect x="513.6" y="410.0" width="8.6" height="8.6" fill="#000000"/><rect x="521.6" y="410.0" width="8.6" height="8.6" fill="#000000"/><rect x="529.6" y="410.0" width="8.6" height="8.6" fill="#3b3b3b"/><rect x="537.6" y="410.0" width="8.6" height="8.6" fill="#676767"/><rect x="545.6" y="410.0" width="8.6" height="8.6" fill="#676767"/><rect x="553.6" y="410.0" width="8.6" height="8.6" fill="#676767"/><rect x="409.6" y="418.0" width="8.6" height="8.6" fill="#787878"/><rect x="417.6" y="418.0" width="8.6" height="8.6" fill="#787878"/><rect x="425.6" y="418.0" width="8.6" height="8.6" fill="#787878"/><rect x="433.6" y="418.0" width="8.6" height="8.6" fill="#aaaaaa"/><rect x="441.6" y="418.0" width="8.6" height="8.6" fill="#c4c4c4"/><rect x="449.6" y="418.0" width="8.6" height="8.6" fill="#c4c4c4"/><rect x="457.6" y="418.0" width="8.6" height="8.6" fill="#aaaaaa"/><rect x="465.6" y="418.0" width="8.6" height="8.6" fill="#aaaaaa"/><rect x="473.6" y="418.0" width="8.6" height="8.6" fill="#aaaaaa"/><rect x="481.6" y="418.0" width="8.6" height="8.6" fill="#989898"/><rect x="489.6" y="418.0" width="8.6" height="8.6" fill="#676767"/><rect x="497.6" y="418.0" width="8.6" height="8.6" fill="#3b3b3b"/><rect x="505.6" y="418.0" width="8.6" height="8.6" fill="#000000"/><rect x="513.6" y="418.0" width="8.6" height="8.6" fill="#000000"/><rect x="521.6" y="418.0" width="8.6" height="8.6" fill="#676767"/><rect x="529.6" y="418.0" width="8.6" height="8.6" fill="#989898"/><rect x="537.6" y="418.0" width="8.6" height="8.6" fill="#989898"/><rect x="545.6" y="418.0" width="8.6" height="8.6" fill="#989898"/><rect x="553.6" y="418.0" width="8.6" height="8.6" fill="#989898"/><rect x="409.6" y="426.0" width="8.6" height="8.6" fill="#878787"/><rect x="417.6" y="426.0" width="8.6" height="8.6" fill="#878787"/><rect x="425.6" y="426.0" width="8.6" height="8.6" fill="#878787"/><rect x="433.6" y="426.0" width="8.6" height="8.6" fill="#aaaaaa"/><rect x="441.6" y="426.0" width="8.6" height="8.6" fill="#aaaaaa"/><rect x="449.6" y="426.0" width="8.6" height="8.6" fill="#aaaaaa"/><rect x="457.6" y="426.0" width="8.6" height="8.6" fill="#aaaaaa"/><rect x="465.6" y="426.0" width="8.6" height="8.6" fill="#878787"/><rect x="473.6" y="426.0" width="8.6" height="8.6" fill="#989898"/><rect x="481.6" y="426.0" width="8.6" height="8.6" fill="#989898"/><rect x="489.6" y="426.0" width="8.6" height="8.6" fill="#555555"/><rect x="497.6" y="426.0" width="8.6" height="8.6" fill="#000000"/><rect x="505.6" y="426.0" width="8.6" height="8.6" fill="#000000"/><rect x="513.6" y="426.0" width="8.6" height="8.6" fill="#000000"/><rect x="521.6" y="426.0" width="8.6" height="8.6" fill="#555555"/><rect x="529.6" y="426.0" width="8.6" height="8.6" fill="#989898"/><rect x="537.6" y="426.0" width="8.6" height="8.6" fill="#aaaaaa"/><rect x="545.6" y="426.0" width="8.6" height="8.6" fill="#aaaaaa"/><rect x="553.6" y="426.0" width="8.6" height="8.6" fill="#aaaaaa"/><rect x="409.6" y="434.0" width="8.6" height="8.6" fill="#878787"/><rect x="417.6" y="434.0" width="8.6" height="8.6" fill="#878787"/><rect x="425.6" y="434.0" width="8.6" height="8.6" fill="#878787"/><rect x="433.6" y="434.0" width="8.6" height="8.6" fill="#aaaaaa"/><rect x="441.6" y="434.0" width="8.6" height="8.6" fill="#989898"/><rect x="449.6" y="434.0" width="8.6" height="8.6" fill="#989898"/><rect x="457.6" y="434.0" width="8.6" height="8.6" fill="#878787"/><rect x="465.6" y="434.0" width="8.6" height="8.6" fill="#676767"/><rect x="473.6" y="434.0" width="8.6" height="8.6" fill="#676767"/><rect x="481.6" y="434.0" width="8.6" height="8.6" fill="#989898"/><rect x="489.6" y="434.0" width="8.6" height="8.6" fill="#787878"/><rect x="497.6" y="434.0" width="8.6" height="8.6" fill="#000000"/><rect x="505.6" y="434.0" width="8.6" height="8.6" fill="#000000"/><rect x="513.6" y="434.0" width="8.6" height="8.6" fill="#000000"/><rect x="521.6" y="434.0" width="8.6" height="8.6" fill="#555555"/><rect x="529.6" y="434.0" width="8.6" height="8.6" fill="#989898"/><rect x="537.6" y="434.0" width="8.6" height="8.6" fill="#aaaaaa"/><rect x="545.6" y="434.0" width="8.6" height="8.6" fill="#aaaaaa"/><rect x="553.6" y="434.0" width="8.6" height="8.6" fill="#aaaaaa"/><rect x="409.6" y="442.0" width="8.6" height="8.6" fill="#878787"/><rect x="417.6" y="442.0" width="8.6" height="8.6" fill="#878787"/><rect x="425.6" y="442.0" width="8.6" height="8.6" fill="#878787"/><rect x="433.6" y="442.0" width="8.6" height="8.6" fill="#878787"/><rect x="441.6" y="442.0" width="8.6" height="8.6" fill="#555555"/><rect x="449.6" y="442.0" width="8.6" height="8.6" fill="#3b3b3b"/><rect x="457.6" y="442.0" width="8.6" height="8.6" fill="#3b3b3b"/><rect x="465.6" y="442.0" width="8.6" height="8.6" fill="#3b3b3b"/><rect x="473.6" y="442.0" width="8.6" height="8.6" fill="#3b3b3b"/><rect x="481.6" y="442.0" width="8.6" height="8.6" fill="#3b3b3b"/><rect x="489.6" y="442.0" width="8.6" height="8.6" fill="#3b3b3b"/><rect x="497.6" y="442.0" width="8.6" height="8.6" fill="#000000"/><rect x="505.6" y="442.0" width="8.6" height="8.6" fill="#000000"/><rect x="513.6" y="442.0" width="8.6" height="8.6" fill="#555555"/><rect x="521.6" y="442.0" width="8.6" height="8.6" fill="#989898"/><rect x="529.6" y="442.0" width="8.6" height="8.6" fill="#aaaaaa"/><rect x="537.6" y="442.0" width="8.6" height="8.6" fill="#989898"/><rect x="545.6" y="442.0" width="8.6" height="8.6" fill="#989898"/><rect x="553.6" y="442.0" width="8.6" height="8.6" fill="#989898"/><rect x="409.6" y="450.0" width="8.6" height="8.6" fill="#989898"/><rect x="417.6" y="450.0" width="8.6" height="8.6" fill="#989898"/><rect x="425.6" y="450.0" width="8.6" height="8.6" fill="#989898"/><rect x="433.6" y="450.0" width="8.6" height="8.6" fill="#878787"/><rect x="441.6" y="450.0" width="8.6" height="8.6" fill="#555555"/><rect x="449.6" y="450.0" width="8.6" height="8.6" fill="#3b3b3b"/><rect x="457.6" y="450.0" width="8.6" height="8.6" fill="#3b3b3b"/><rect x="465.6" y="450.0" width="8.6" height="8.6" fill="#000000"/><rect x="473.6" y="450.0" width="8.6" height="8.6" fill="#000000"/><rect x="481.6" y="450.0" width="8.6" height="8.6" fill="#000000"/><rect x="489.6" y="450.0" width="8.6" height="8.6" fill="#000000"/><rect x="497.6" y="450.0" width="8.6" height="8.6" fill="#000000"/><rect x="505.6" y="450.0" width="8.6" height="8.6" fill="#000000"/><rect x="513.6" y="450.0" width="8.6" height="8.6" fill="#3b3b3b"/><rect x="521.6" y="450.0" width="8.6" height="8.6" fill="#676767"/><rect x="529.6" y="450.0" width="8.6" height="8.6" fill="#878787"/><rect x="537.6" y="450.0" width="8.6" height="8.6" fill="#989898"/><rect x="545.6" y="450.0" width="8.6" height="8.6" fill="#989898"/><rect x="553.6" y="450.0" width="8.6" height="8.6" fill="#989898"/><rect x="409.6" y="458.0" width="8.6" height="8.6" fill="#878787"/><rect x="417.6" y="458.0" width="8.6" height="8.6" fill="#878787"/><rect x="425.6" y="458.0" width="8.6" height="8.6" fill="#878787"/><rect x="433.6" y="458.0" width="8.6" height="8.6" fill="#878787"/><rect x="441.6" y="458.0" width="8.6" height="8.6" fill="#676767"/><rect x="449.6" y="458.0" width="8.6" height="8.6" fill="#3b3b3b"/><rect x="457.6" y="458.0" width="8.6" height="8.6" fill="#000000"/><rect x="465.6" y="458.0" width="8.6" height="8.6" fill="#000000"/><rect x="473.6" y="458.0" width="8.6" height="8.6" fill="#000000"/><rect x="481.6" y="458.0" width="8.6" height="8.6" fill="#000000"/><rect x="489.6" y="458.0" width="8.6" height="8.6" fill="#000000"/><rect x="497.6" y="458.0" width="8.6" height="8.6" fill="#000000"/><rect x="505.6" y="458.0" width="8.6" height="8.6" fill="#000000"/><rect x="513.6" y="458.0" width="8.6" height="8.6" fill="#000000"/><rect x="521.6" y="458.0" width="8.6" height="8.6" fill="#3b3b3b"/><rect x="529.6" y="458.0" width="8.6" height="8.6" fill="#555555"/><rect x="537.6" y="458.0" width="8.6" height="8.6" fill="#676767"/><rect x="545.6" y="458.0" width="8.6" height="8.6" fill="#676767"/><rect x="553.6" y="458.0" width="8.6" height="8.6" fill="#676767"/><rect x="409.6" y="466.0" width="8.6" height="8.6" fill="#676767"/><rect x="417.6" y="466.0" width="8.6" height="8.6" fill="#676767"/><rect x="425.6" y="466.0" width="8.6" height="8.6" fill="#676767"/><rect x="433.6" y="466.0" width="8.6" height="8.6" fill="#787878"/><rect x="441.6" y="466.0" width="8.6" height="8.6" fill="#676767"/><rect x="449.6" y="466.0" width="8.6" height="8.6" fill="#3b3b3b"/><rect x="457.6" y="466.0" width="8.6" height="8.6" fill="#000000"/><rect x="465.6" y="466.0" width="8.6" height="8.6" fill="#000000"/><rect x="473.6" y="466.0" width="8.6" height="8.6" fill="#000000"/><rect x="481.6" y="466.0" width="8.6" height="8.6" fill="#000000"/><rect x="489.6" y="466.0" width="8.6" height="8.6" fill="#000000"/><rect x="497.6" y="466.0" width="8.6" height="8.6" fill="#000000"/><rect x="505.6" y="466.0" width="8.6" height="8.6" fill="#000000"/><rect x="513.6" y="466.0" width="8.6" height="8.6" fill="#3b3b3b"/><rect x="521.6" y="466.0" width="8.6" height="8.6" fill="#676767"/><rect x="529.6" y="466.0" width="8.6" height="8.6" fill="#787878"/><rect x="537.6" y="466.0" width="8.6" height="8.6" fill="#787878"/><rect x="545.6" y="466.0" width="8.6" height="8.6" fill="#787878"/><rect x="553.6" y="466.0" width="8.6" height="8.6" fill="#787878"/><rect x="409.6" y="474.0" width="8.6" height="8.6" fill="#000000"/><rect x="417.6" y="474.0" width="8.6" height="8.6" fill="#000000"/><rect x="425.6" y="474.0" width="8.6" height="8.6" fill="#000000"/><rect x="433.6" y="474.0" width="8.6" height="8.6" fill="#000000"/><rect x="441.6" y="474.0" width="8.6" height="8.6" fill="#000000"/><rect x="449.6" y="474.0" width="8.6" height="8.6" fill="#000000"/><rect x="457.6" y="474.0" width="8.6" height="8.6" fill="#000000"/><rect x="465.6" y="474.0" width="8.6" height="8.6" fill="#000000"/><rect x="473.6" y="474.0" width="8.6" height="8.6" fill="#000000"/><rect x="481.6" y="474.0" width="8.6" height="8.6" fill="#555555"/><rect x="489.6" y="474.0" width="8.6" height="8.6" fill="#000000"/><rect x="497.6" y="474.0" width="8.6" height="8.6" fill="#000000"/><rect x="505.6" y="474.0" width="8.6" height="8.6" fill="#000000"/><rect x="513.6" y="474.0" width="8.6" height="8.6" fill="#676767"/><rect x="521.6" y="474.0" width="8.6" height="8.6" fill="#878787"/><rect x="529.6" y="474.0" width="8.6" height="8.6" fill="#989898"/><rect x="537.6" y="474.0" width="8.6" height="8.6" fill="#878787"/><rect x="545.6" y="474.0" width="8.6" height="8.6" fill="#878787"/><rect x="553.6" y="474.0" width="8.6" height="8.6" fill="#878787"/><rect x="409.6" y="482.0" width="8.6" height="8.6" fill="#000000"/><rect x="417.6" y="482.0" width="8.6" height="8.6" fill="#000000"/><rect x="425.6" y="482.0" width="8.6" height="8.6" fill="#000000"/><rect x="433.6" y="482.0" width="8.6" height="8.6" fill="#000000"/><rect x="441.6" y="482.0" width="8.6" height="8.6" fill="#000000"/><rect x="449.6" y="482.0" width="8.6" height="8.6" fill="#000000"/><rect x="457.6" y="482.0" width="8.6" height="8.6" fill="#000000"/><rect x="465.6" y="482.0" width="8.6" height="8.6" fill="#000000"/><rect x="473.6" y="482.0" width="8.6" height="8.6" fill="#555555"/><rect x="481.6" y="482.0" width="8.6" height="8.6" fill="#787878"/><rect x="489.6" y="482.0" width="8.6" height="8.6" fill="#000000"/><rect x="497.6" y="482.0" width="8.6" height="8.6" fill="#000000"/><rect x="505.6" y="482.0" width="8.6" height="8.6" fill="#000000"/><rect x="513.6" y="482.0" width="8.6" height="8.6" fill="#000000"/><rect x="521.6" y="482.0" width="8.6" height="8.6" fill="#878787"/><rect x="529.6" y="482.0" width="8.6" height="8.6" fill="#878787"/><rect x="537.6" y="482.0" width="8.6" height="8.6" fill="#787878"/><rect x="545.6" y="482.0" width="8.6" height="8.6" fill="#787878"/><rect x="553.6" y="482.0" width="8.6" height="8.6" fill="#787878"/><rect x="409.6" y="490.0" width="8.6" height="8.6" fill="#3b3b3b"/><rect x="417.6" y="490.0" width="8.6" height="8.6" fill="#3b3b3b"/><rect x="425.6" y="490.0" width="8.6" height="8.6" fill="#3b3b3b"/><rect x="433.6" y="490.0" width="8.6" height="8.6" fill="#555555"/><rect x="441.6" y="490.0" width="8.6" height="8.6" fill="#000000"/><rect x="449.6" y="490.0" width="8.6" height="8.6" fill="#000000"/><rect x="457.6" y="490.0" width="8.6" height="8.6" fill="#000000"/><rect x="465.6" y="490.0" width="8.6" height="8.6" fill="#3b3b3b"/><rect x="473.6" y="490.0" width="8.6" height="8.6" fill="#787878"/><rect x="481.6" y="490.0" width="8.6" height="8.6" fill="#787878"/><rect x="489.6" y="490.0" width="8.6" height="8.6" fill="#3b3b3b"/><rect x="497.6" y="490.0" width="8.6" height="8.6" fill="#000000"/><rect x="505.6" y="490.0" width="8.6" height="8.6" fill="#000000"/><rect x="513.6" y="490.0" width="8.6" height="8.6" fill="#000000"/><rect x="521.6" y="490.0" width="8.6" height="8.6" fill="#3b3b3b"/><rect x="529.6" y="490.0" width="8.6" height="8.6" fill="#555555"/><rect x="537.6" y="490.0" width="8.6" height="8.6" fill="#676767"/><rect x="545.6" y="490.0" width="8.6" height="8.6" fill="#676767"/><rect x="553.6" y="490.0" width="8.6" height="8.6" fill="#676767"/><rect x="409.6" y="498.0" width="8.6" height="8.6" fill="#787878"/><rect x="417.6" y="498.0" width="8.6" height="8.6" fill="#787878"/><rect x="425.6" y="498.0" width="8.6" height="8.6" fill="#787878"/><rect x="433.6" y="498.0" width="8.6" height="8.6" fill="#3b3b3b"/><rect x="441.6" y="498.0" width="8.6" height="8.6" fill="#000000"/><rect x="449.6" y="498.0" width="8.6" height="8.6" fill="#000000"/><rect x="457.6" y="498.0" width="8.6" height="8.6" fill="#000000"/><rect x="465.6" y="498.0" width="8.6" height="8.6" fill="#000000"/><rect x="473.6" y="498.0" width="8.6" height="8.6" fill="#676767"/><rect x="481.6" y="498.0" width="8.6" height="8.6" fill="#989898"/><rect x="489.6" y="498.0" width="8.6" height="8.6" fill="#787878"/><rect x="497.6" y="498.0" width="8.6" height="8.6" fill="#3b3b3b"/><rect x="505.6" y="498.0" width="8.6" height="8.6" fill="#000000"/><rect x="513.6" y="498.0" width="8.6" height="8.6" fill="#000000"/><rect x="521.6" y="498.0" width="8.6" height="8.6" fill="#000000"/><rect x="529.6" y="498.0" width="8.6" height="8.6" fill="#000000"/><rect x="537.6" y="498.0" width="8.6" height="8.6" fill="#3b3b3b"/><rect x="545.6" y="498.0" width="8.6" height="8.6" fill="#3b3b3b"/><rect x="553.6" y="498.0" width="8.6" height="8.6" fill="#3b3b3b"/><rect x="409.6" y="506.0" width="8.6" height="8.6" fill="#878787"/><rect x="417.6" y="506.0" width="8.6" height="8.6" fill="#878787"/><rect x="425.6" y="506.0" width="8.6" height="8.6" fill="#878787"/><rect x="433.6" y="506.0" width="8.6" height="8.6" fill="#555555"/><rect x="441.6" y="506.0" width="8.6" height="8.6" fill="#000000"/><rect x="449.6" y="506.0" width="8.6" height="8.6" fill="#000000"/><rect x="457.6" y="506.0" width="8.6" height="8.6" fill="#000000"/><rect x="465.6" y="506.0" width="8.6" height="8.6" fill="#000000"/><rect x="473.6" y="506.0" width="8.6" height="8.6" fill="#676767"/><rect x="481.6" y="506.0" width="8.6" height="8.6" fill="#aaaaaa"/><rect x="489.6" y="506.0" width="8.6" height="8.6" fill="#989898"/><rect x="497.6" y="506.0" width="8.6" height="8.6" fill="#676767"/><rect x="505.6" y="506.0" width="8.6" height="8.6" fill="#555555"/><rect x="513.6" y="506.0" width="8.6" height="8.6" fill="#000000"/><rect x="521.6" y="506.0" width="8.6" height="8.6" fill="#000000"/><rect x="529.6" y="506.0" width="8.6" height="8.6" fill="#000000"/><rect x="537.6" y="506.0" width="8.6" height="8.6" fill="#000000"/><rect x="545.6" y="506.0" width="8.6" height="8.6" fill="#000000"/><rect x="553.6" y="506.0" width="8.6" height="8.6" fill="#000000"/><rect x="409.6" y="514.0" width="8.6" height="8.6" fill="#555555"/><rect x="417.6" y="514.0" width="8.6" height="8.6" fill="#555555"/><rect x="425.6" y="514.0" width="8.6" height="8.6" fill="#555555"/><rect x="433.6" y="514.0" width="8.6" height="8.6" fill="#676767"/><rect x="441.6" y="514.0" width="8.6" height="8.6" fill="#3b3b3b"/><rect x="449.6" y="514.0" width="8.6" height="8.6" fill="#000000"/><rect x="457.6" y="514.0" width="8.6" height="8.6" fill="#000000"/><rect x="465.6" y="514.0" width="8.6" height="8.6" fill="#3b3b3b"/><rect x="473.6" y="514.0" width="8.6" height="8.6" fill="#676767"/><rect x="481.6" y="514.0" width="8.6" height="8.6" fill="#989898"/><rect x="489.6" y="514.0" width="8.6" height="8.6" fill="#989898"/><rect x="497.6" y="514.0" width="8.6" height="8.6" fill="#878787"/><rect x="505.6" y="514.0" width="8.6" height="8.6" fill="#676767"/><rect x="513.6" y="514.0" width="8.6" height="8.6" fill="#555555"/><rect x="521.6" y="514.0" width="8.6" height="8.6" fill="#000000"/><rect x="529.6" y="514.0" width="8.6" height="8.6" fill="#000000"/><rect x="537.6" y="514.0" width="8.6" height="8.6" fill="#000000"/><rect x="545.6" y="514.0" width="8.6" height="8.6" fill="#000000"/><rect x="553.6" y="514.0" width="8.6" height="8.6" fill="#000000"/><rect x="409.6" y="522.0" width="8.6" height="8.6" fill="#000000"/><rect x="417.6" y="522.0" width="8.6" height="8.6" fill="#000000"/><rect x="425.6" y="522.0" width="8.6" height="8.6" fill="#000000"/><rect x="433.6" y="522.0" width="8.6" height="8.6" fill="#000000"/><rect x="441.6" y="522.0" width="8.6" height="8.6" fill="#000000"/><rect x="449.6" y="522.0" width="8.6" height="8.6" fill="#000000"/><rect x="457.6" y="522.0" width="8.6" height="8.6" fill="#000000"/><rect x="465.6" y="522.0" width="8.6" height="8.6" fill="#3b3b3b"/><rect x="473.6" y="522.0" width="8.6" height="8.6" fill="#989898"/><rect x="481.6" y="522.0" width="8.6" height="8.6" fill="#878787"/><rect x="489.6" y="522.0" width="8.6" height="8.6" fill="#676767"/><rect x="497.6" y="522.0" width="8.6" height="8.6" fill="#555555"/><rect x="505.6" y="522.0" width="8.6" height="8.6" fill="#555555"/><rect x="513.6" y="522.0" width="8.6" height="8.6" fill="#000000"/><rect x="521.6" y="522.0" width="8.6" height="8.6" fill="#000000"/><rect x="529.6" y="522.0" width="8.6" height="8.6" fill="#000000"/><rect x="537.6" y="522.0" width="8.6" height="8.6" fill="#000000"/><rect x="545.6" y="522.0" width="8.6" height="8.6" fill="#000000"/><rect x="553.6" y="522.0" width="8.6" height="8.6" fill="#000000"/><rect x="409.6" y="530.0" width="8.6" height="8.6" fill="#000000"/><rect x="417.6" y="530.0" width="8.6" height="8.6" fill="#000000"/><rect x="425.6" y="530.0" width="8.6" height="8.6" fill="#000000"/><rect x="433.6" y="530.0" width="8.6" height="8.6" fill="#000000"/><rect x="441.6" y="530.0" width="8.6" height="8.6" fill="#000000"/><rect x="449.6" y="530.0" width="8.6" height="8.6" fill="#000000"/><rect x="457.6" y="530.0" width="8.6" height="8.6" fill="#000000"/><rect x="465.6" y="530.0" width="8.6" height="8.6" fill="#000000"/><rect x="473.6" y="530.0" width="8.6" height="8.6" fill="#676767"/><rect x="481.6" y="530.0" width="8.6" height="8.6" fill="#555555"/><rect x="489.6" y="530.0" width="8.6" height="8.6" fill="#3b3b3b"/><rect x="497.6" y="530.0" width="8.6" height="8.6" fill="#000000"/><rect x="505.6" y="530.0" width="8.6" height="8.6" fill="#000000"/><rect x="513.6" y="530.0" width="8.6" height="8.6" fill="#000000"/><rect x="521.6" y="530.0" width="8.6" height="8.6" fill="#000000"/><rect x="529.6" y="530.0" width="8.6" height="8.6" fill="#000000"/><rect x="537.6" y="530.0" width="8.6" height="8.6" fill="#000000"/><rect x="545.6" y="530.0" width="8.6" height="8.6" fill="#000000"/><rect x="553.6" y="530.0" width="8.6" height="8.6" fill="#000000"/><rect x="409.6" y="538.0" width="8.6" height="8.6" fill="#000000"/><rect x="417.6" y="538.0" width="8.6" height="8.6" fill="#000000"/><rect x="425.6" y="538.0" width="8.6" height="8.6" fill="#000000"/><rect x="433.6" y="538.0" width="8.6" height="8.6" fill="#000000"/><rect x="441.6" y="538.0" width="8.6" height="8.6" fill="#000000"/><rect x="449.6" y="538.0" width="8.6" height="8.6" fill="#000000"/><rect x="457.6" y="538.0" width="8.6" height="8.6" fill="#000000"/><rect x="465.6" y="538.0" width="8.6" height="8.6" fill="#000000"/><rect x="473.6" y="538.0" width="8.6" height="8.6" fill="#676767"/><rect x="481.6" y="538.0" width="8.6" height="8.6" fill="#555555"/><rect x="489.6" y="538.0" width="8.6" height="8.6" fill="#3b3b3b"/><rect x="497.6" y="538.0" width="8.6" height="8.6" fill="#000000"/><rect x="505.6" y="538.0" width="8.6" height="8.6" fill="#000000"/><rect x="513.6" y="538.0" width="8.6" height="8.6" fill="#000000"/><rect x="521.6" y="538.0" width="8.6" height="8.6" fill="#000000"/><rect x="529.6" y="538.0" width="8.6" height="8.6" fill="#000000"/><rect x="537.6" y="538.0" width="8.6" height="8.6" fill="#000000"/><rect x="545.6" y="538.0" width="8.6" height="8.6" fill="#000000"/><rect x="553.6" y="538.0" width="8.6" height="8.6" fill="#000000"/><rect x="409.6" y="546.0" width="8.6" height="8.6" fill="#000000"/><rect x="417.6" y="546.0" width="8.6" height="8.6" fill="#000000"/><rect x="425.6" y="546.0" width="8.6" height="8.6" fill="#000000"/><rect x="433.6" y="546.0" width="8.6" height="8.6" fill="#000000"/><rect x="441.6" y="546.0" width="8.6" height="8.6" fill="#000000"/><rect x="449.6" y="546.0" width="8.6" height="8.6" fill="#000000"/><rect x="457.6" y="546.0" width="8.6" height="8.6" fill="#000000"/><rect x="465.6" y="546.0" width="8.6" height="8.6" fill="#000000"/><rect x="473.6" y="546.0" width="8.6" height="8.6" fill="#676767"/><rect x="481.6" y="546.0" width="8.6" height="8.6" fill="#555555"/><rect x="489.6" y="546.0" width="8.6" height="8.6" fill="#3b3b3b"/><rect x="497.6" y="546.0" width="8.6" height="8.6" fill="#000000"/><rect x="505.6" y="546.0" width="8.6" height="8.6" fill="#000000"/><rect x="513.6" y="546.0" width="8.6" height="8.6" fill="#000000"/><rect x="521.6" y="546.0" width="8.6" height="8.6" fill="#000000"/><rect x="529.6" y="546.0" width="8.6" height="8.6" fill="#000000"/><rect x="537.6" y="546.0" width="8.6" height="8.6" fill="#000000"/><rect x="545.6" y="546.0" width="8.6" height="8.6" fill="#000000"/><rect x="553.6" y="546.0" width="8.6" height="8.6" fill="#000000"/></g></g><rect x="425.6" y="394.0" width="117.2" height="136.9" fill="none" stroke="#333" stroke-width="0.8"/><line x1="27.1" y1="227.2" x2="27.1" y2="229.9" stroke="#333" stroke-width="0.8"/><line x1="136.9" y1="227.2" x2="136.9" y2="229.9" stroke="#333" stroke-width="0.8"/><line x1="246.5" y1="227.2" x2="246.5" y2="229.9" stroke="#333" stroke-width="0.8"/><text x="27.1" y="224.6" font-size="8.4" text-anchor="middle" fill="#333" font-weight="normal">85°0'0"E</text><text x="136.9" y="224.6" font-size="8.4" text-anchor="middle" fill="#333" font-weight="normal">85°30'0"E</text><text x="246.5" y="224.6" font-size="8.4" text-anchor="middle" fill="#333" font-weight="normal">86°0'0"E</text><line x1="19.8" y1="528.5" x2="19.8" y2="531.2" stroke="#333" stroke-width="0.8"/><line x1="131.3" y1="528.5" x2="131.3" y2="531.2" stroke="#333" stroke-width="0.8"/><line x1="242.5" y1="528.5" x2="242.5" y2="531.2" stroke="#333" stroke-width="0.8"/><text x="20.3" y="540.2" font-size="8.4" text-anchor="middle" fill="#333" font-weight="normal">85°0'0"E</text><text x="131.0" y="540.2" font-size="8.4" text-anchor="middle" fill="#333" font-weight="normal">85°30'0"E</text><text x="243.0" y="540.2" font-size="8.4" text-anchor="middle" fill="#333" font-weight="normal">86°0'0"E</text><line x1="16.8" y1="254.9" x2="19.8" y2="254.9" stroke="#333" stroke-width="0.8"/><line x1="16.8" y1="406.3" x2="19.8" y2="406.3" stroke="#333" stroke-width="0.8"/><text transform="translate(14.2,255.3) rotate(-90)" font-size="8.4" text-anchor="middle" fill="#333" font-weight="normal">44°0'0"N</text><text transform="translate(14.2,407.2) rotate(-90)" font-size="8.4" text-anchor="middle" fill="#333" font-weight="normal">43°30'0"N</text><line x1="262.2" y1="258.9" x2="265.0" y2="258.9" stroke="#333" stroke-width="0.8"/><line x1="262.2" y1="411.4" x2="265.0" y2="411.4" stroke="#333" stroke-width="0.8"/><text transform="translate(272.4,259.4) rotate(-90)" font-size="8.4" text-anchor="middle" fill="#333" font-weight="normal">44°0'0"N</text><text transform="translate(272.4,411.7) rotate(-90)" font-size="8.4" text-anchor="middle" fill="#333" font-weight="normal">43°30'0"N</text><text x="25.3" y="246.8" font-size="12.2" text-anchor="start" fill="#22dcaa" font-weight="bold">(b)</text><defs><linearGradient id="sg" x1="0" y1="0" x2="0" y2="1"><stop offset="0" stop-color="#e8321e"/><stop offset="0.25" stop-color="#f5a01e"/><stop offset="0.45" stop-color="#f0f014"/><stop offset="0.65" stop-color="#3cd23c"/><stop offset="0.82" stop-color="#14a05a"/><stop offset="1" stop-color="#1e50a0"/></linearGradient></defs><rect x="225.4" y="230.2" width="36.8" height="49.4" fill="#dcdcdc"/><text x="225.6" y="236.8" font-size="6.6" fill="#707070" font-family="'Liberation Serif', 'Times New Roman', serif" textLength="12.4" lengthAdjust="spacingAndGlyphs">SESI</text><text x="225.6" y="245.6" font-size="7" fill="#707070" font-family="'Liberation Serif', 'Times New Roman', serif" textLength="16.8" lengthAdjust="spacingAndGlyphs">Value</text><rect x="226.3" y="248.2" width="10.7" height="18.2" fill="url(#sg)"/><text x="239.2" y="250.8" font-size="5.4" fill="#8a8a8a" font-family="'Liberation Serif', 'Times New Roman', serif" textLength="21.5" lengthAdjust="spacingAndGlyphs">High : 1</text><text x="239.2" y="268.6" font-size="5.4" fill="#8a8a8a" font-family="'Liberation Serif', 'Times New Roman', serif" textLength="21.5" lengthAdjust="spacingAndGlyphs">Low : 0</text><rect x="136.4" y="328.9" width="72.7" height="81.5" fill="none" stroke="#f05a14" stroke-width="1.7"/><rect x="20.2" y="512.9" width="68.2" height="15.4" fill="#dcdcdc"/><text x="22.6" y="519.9" font-size="7" text-anchor="middle" fill="#222">0</text><text x="36.6" y="519.9" font-size="7" text-anchor="middle" fill="#222">5</text><text x="49.8" y="519.9" font-size="7" text-anchor="middle" fill="#222">10</text><text x="76.8" y="519.9" font-size="7" text-anchor="middle" fill="#222">20</text><rect x="22.2" y="522.7" width="55.3" height="3.6" fill="#000"/><rect x="36.9" y="523.5" width="12.8" height="2.0" fill="#fff"/><text x="79" y="526.8" font-size="7" fill="#222">km</text><line x1="347.4" y1="225.6" x2="347.4" y2="228.2" stroke="#333" stroke-width="0.8"/><text x="346.8" y="224.2" font-size="7.3" text-anchor="middle" fill="#333" font-weight="normal">85°39'0"E</text><line x1="285.8" y1="249.2" x2="288.4" y2="249.2" stroke="#333" stroke-width="0.8"/><line x1="285.8" y1="334.4" x2="288.4" y2="334.4" stroke="#333" stroke-width="0.8"/><text transform="translate(283.8,249.6) rotate(-90)" font-size="7.3" text-anchor="middle" fill="#333" font-weight="normal">43°42'0"N</text><text transform="translate(283.8,334.4) rotate(-90)" font-size="7.3" text-anchor="middle" fill="#333" font-weight="normal">43°31'30"N</text><line x1="405.0" y1="251.4" x2="407.6" y2="251.4" stroke="#333" stroke-width="0.8"/><line x1="405.0" y1="335.9" x2="407.6" y2="335.9" stroke="#333" stroke-width="0.8"/><text x="387.2" y="245.2" font-size="11.8" text-anchor="start" fill="#22dcaa" font-weight="bold">(c)</text><rect x="364.6" y="350.7" width="40" height="13.9" fill="#dcdcdc"/><text x="366.9" y="356.9" font-size="6.4" text-anchor="middle" fill="#222">0</text><text x="380.0" y="356.9" font-size="6.4" text-anchor="middle" fill="#222">5</text><text x="393.9" y="356.9" font-size="6.4" text-anchor="middle" fill="#222">10</text><rect x="366.2" y="360.2" width="28.8" height="3.0" fill="#000"/><rect x="380.8" y="360.8" width="13.6" height="1.8" fill="#fff"/><text x="395.4" y="363.6" font-size="6.4" fill="#222">km</text><text x="290.4" y="373.0" font-size="6.9" text-anchor="start" fill="#111" font-weight="bold">TOA reflectance</text><line x1="485.0" y1="225.6" x2="485.0" y2="228.2" stroke="#333" stroke-width="0.8"/><text x="484.4" y="224.2" font-size="7.3" text-anchor="middle" fill="#333" font-weight="normal">85°39'0"E</text><line x1="423.1" y1="249.4" x2="425.7" y2="249.4" stroke="#333" stroke-width="0.8"/><line x1="423.1" y1="334.6" x2="425.7" y2="334.6" stroke="#333" stroke-width="0.8"/><text transform="translate(421.1,249.6) rotate(-90)" font-size="7.3" text-anchor="middle" fill="#333" font-weight="normal">43°42'0"N</text><text transform="translate(421.1,334.4) rotate(-90)" font-size="7.3" text-anchor="middle" fill="#333" font-weight="normal">43°31'30"N</text><line x1="541.7" y1="251.4" x2="544.3" y2="251.4" stroke="#333" stroke-width="0.8"/><line x1="541.7" y1="335.9" x2="544.3" y2="335.9" stroke="#333" stroke-width="0.8"/><text x="525.6" y="244.8" font-size="11.8" text-anchor="start" fill="#22dcaa" font-weight="bold">(d)</text><rect x="501.3" y="351.4" width="40" height="13.9" fill="#dcdcdc"/><text x="503.6" y="357.6" font-size="6.4" text-anchor="middle" fill="#222">0</text><text x="516.7" y="357.6" font-size="6.4" text-anchor="middle" fill="#222">5</text><text x="530.6" y="357.6" font-size="6.4" text-anchor="middle" fill="#222">10</text><rect x="502.9" y="360.9" width="28.8" height="3.0" fill="#000"/><rect x="517.5" y="361.5" width="13.6" height="1.8" fill="#fff"/><text x="532.1" y="364.3" font-size="6.4" fill="#222">km</text><text x="429.0" y="374.6" font-size="6.9" text-anchor="start" fill="#111" font-weight="bold">Atmosphere correction</text><text x="531.6" y="371.9" font-size="5.2" text-anchor="middle" fill="#333" font-weight="bold">N</text><path d="M531.4 373.1L527.4 386.1L531.7 382.3Z" fill="#111"/><path d="M531.4 373.1L535.4 386.1L531.7 382.3Z" fill="#fff" stroke="#333" stroke-width="0.5"/><line x1="293.7" y1="390.4" x2="293.7" y2="393.0" stroke="#333" stroke-width="0.8"/><line x1="352.8" y1="390.4" x2="352.8" y2="393.0" stroke="#333" stroke-width="0.8"/><text x="293.8" y="389.3" font-size="7.3" text-anchor="middle" fill="#333" font-weight="normal">85°30'0"E</text><text x="352.2" y="389.3" font-size="7.3" text-anchor="middle" fill="#333" font-weight="normal">85°40'0"E</text><line x1="285.4" y1="432.4" x2="288.0" y2="432.4" stroke="#333" stroke-width="0.8"/><line x1="285.4" y1="512.8" x2="288.0" y2="512.8" stroke="#333" stroke-width="0.8"/><text transform="translate(283.8,430.0) rotate(-90)" font-size="7.3" text-anchor="middle" fill="#333" font-weight="normal">43°40'0"N</text><text transform="translate(283.8,512.8) rotate(-90)" font-size="7.3" text-anchor="middle" fill="#333" font-weight="normal">43°30'0"N</text><line x1="404.6" y1="431.4" x2="407.2" y2="431.4" stroke="#333" stroke-width="0.8"/><line x1="404.6" y1="512.4" x2="407.2" y2="512.4" stroke="#333" stroke-width="0.8"/><line x1="291.0" y1="529.2" x2="291.0" y2="531.8" stroke="#333" stroke-width="0.8"/><line x1="350.3" y1="529.2" x2="350.3" y2="531.8" stroke="#333" stroke-width="0.8"/><text x="388.0" y="408.6" font-size="11.8" text-anchor="start" fill="#22dcaa" font-weight="bold">(e)</text><rect x="364.2" y="515.1" width="40" height="13.9" fill="#dcdcdc"/><text x="366.5" y="521.3" font-size="6.4" text-anchor="middle" fill="#222">0</text><text x="379.6" y="521.3" font-size="6.4" text-anchor="middle" fill="#222">5</text><text x="393.5" y="521.3" font-size="6.4" text-anchor="middle" fill="#222">10</text><rect x="365.8" y="524.6" width="28.8" height="3.0" fill="#000"/><rect x="380.4" y="525.2" width="13.6" height="1.8" fill="#fff"/><text x="395.0" y="528.0" font-size="6.4" fill="#222">km</text><text x="290.8" y="541.4" font-size="6.9" text-anchor="start" fill="#111" font-weight="bold">SCS+C correction</text><line x1="431.5" y1="391.0" x2="431.5" y2="394.0" stroke="#333" stroke-width="0.8"/><line x1="490.0" y1="391.0" x2="490.0" y2="394.0" stroke="#333" stroke-width="0.8"/><text x="431.2" y="389.3" font-size="7.3" text-anchor="middle" fill="#333" font-weight="normal">85°30'0"E</text><text x="489.5" y="389.3" font-size="7.3" text-anchor="middle" fill="#333" font-weight="normal">85°40'0"E</text><line x1="423.0" y1="431.4" x2="425.6" y2="431.4" stroke="#333" stroke-width="0.8"/><line x1="423.0" y1="513.5" x2="425.6" y2="513.5" stroke="#333" stroke-width="0.8"/><text transform="translate(422.9,430.8) rotate(-90)" font-size="7.3" text-anchor="middle" fill="#333" font-weight="normal">43°40'0"N</text><text transform="translate(422.9,512.8) rotate(-90)" font-size="7.3" text-anchor="middle" fill="#333" font-weight="normal">43°30'0"N</text><line x1="542.8" y1="431.4" x2="545.4" y2="431.4" stroke="#333" stroke-width="0.8"/><line x1="542.8" y1="513.5" x2="545.4" y2="513.5" stroke="#333" stroke-width="0.8"/><line x1="429.0" y1="530.9" x2="429.0" y2="533.4" stroke="#333" stroke-width="0.8"/><line x1="488.5" y1="530.9" x2="488.5" y2="533.4" stroke="#333" stroke-width="0.8"/><text x="527.0" y="409.4" font-size="11.8" text-anchor="start" fill="#22dcaa" font-weight="bold">(f)</text><rect x="502.4" y="516.7" width="40" height="13.9" fill="#dcdcdc"/><text x="504.7" y="522.9" font-size="6.4" text-anchor="middle" fill="#222">0</text><text x="517.8" y="522.9" font-size="6.4" text-anchor="middle" fill="#222">5</text><text x="531.7" y="522.9" font-size="6.4" text-anchor="middle" fill="#222">10</text><rect x="504.0" y="526.2" width="28.8" height="3.0" fill="#000"/><rect x="518.6" y="526.8" width="13.6" height="1.8" fill="#fff"/><text x="533.2" y="529.6" font-size="6.4" fill="#222">km</text><rect x="425.9" y="501.4" width="13.5" height="22.9" fill="#dcdcdc"/><rect x="426.6" y="509.5" width="4.2" height="9.5" fill="url(#sg)"/><text x="426.4" y="504.4" font-size="2.6" fill="#999" font-family="'Liberation Serif', 'Times New Roman', serif">SESI</text><text x="426.4" y="508.2" font-size="2.8" fill="#999" font-family="'Liberation Serif', 'Times New Roman', serif">Value</text><text x="429.0" y="541.4" font-size="6.9" text-anchor="start" fill="#111" font-weight="bold">SESI</text><rect x="287.6" y="545.9" width="11.6" height="5.7" fill="#f00"/><text x="301.2" y="551.4" font-size="7.3" text-anchor="start" fill="#444" font-weight="normal">Red:</text><text x="321.6" y="551.4" font-size="7.3" text-anchor="start" fill="#444" font-weight="normal">Band_7</text><rect x="351.5" y="545.9" width="11.2" height="5.7" fill="#0000e6"/><text x="365.0" y="551.4" font-size="7.3" text-anchor="start" fill="#444" font-weight="normal">Blue:</text><text x="386.8" y="551.4" font-size="7.3" text-anchor="start" fill="#444" font-weight="normal">Band_1</text><rect x="413.3" y="546.1" width="11.6" height="5.7" fill="#14e614"/><text x="427.3" y="551.4" font-size="7.3" text-anchor="start" fill="#444" font-weight="normal">Green:</text><text x="452.0" y="551.4" font-size="7.3" text-anchor="start" fill="#444" font-weight="normal">Band_2</text></g>
</svg>
</body></html>
